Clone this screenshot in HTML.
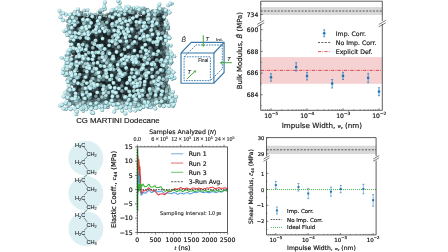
<!DOCTYPE html>
<html><head><meta charset="utf-8"><style>
html,body{margin:0;padding:0;background:#fff;width:448px;height:252px;overflow:hidden}
svg{display:block}
text{stroke:#000;stroke-width:0.22px;stroke-opacity:0.7}
text.thin{stroke-width:0.12px}
text.mid{stroke-width:0.2px}
</style></head><body>
<svg xmlns="http://www.w3.org/2000/svg" width="448" height="252" viewBox="0 0 448 252">
<defs>
<radialGradient id="b0" cx="0.42" cy="0.4" r="0.6"><stop offset="0" stop-color="#e3f4f4"/><stop offset="0.6" stop-color="#b5e4e8"/><stop offset="1" stop-color="#45767f"/></radialGradient>
<radialGradient id="b1" cx="0.42" cy="0.4" r="0.6"><stop offset="0" stop-color="#d2e1e1"/><stop offset="0.6" stop-color="#a7d3d7"/><stop offset="1" stop-color="#406d76"/></radialGradient>
<radialGradient id="b2" cx="0.42" cy="0.4" r="0.6"><stop offset="0" stop-color="#c0cfcf"/><stop offset="0.6" stop-color="#99c2c5"/><stop offset="1" stop-color="#3b646d"/></radialGradient>
<radialGradient id="b3" cx="0.42" cy="0.4" r="0.6"><stop offset="0" stop-color="#afbcbd"/><stop offset="0.6" stop-color="#8bb0b4"/><stop offset="1" stop-color="#365c63"/></radialGradient>
<radialGradient id="b4" cx="0.42" cy="0.4" r="0.6"><stop offset="0" stop-color="#9daaaa"/><stop offset="0.6" stop-color="#7d9fa2"/><stop offset="1" stop-color="#30535a"/></radialGradient>
<radialGradient id="b5" cx="0.42" cy="0.4" r="0.6"><stop offset="0" stop-color="#8b9798"/><stop offset="0.6" stop-color="#6f8e91"/><stop offset="1" stop-color="#2b4a51"/></radialGradient>
<radialGradient id="b6" cx="0.42" cy="0.4" r="0.6"><stop offset="0" stop-color="#7a8586"/><stop offset="0.6" stop-color="#617c7f"/><stop offset="1" stop-color="#264148"/></radialGradient>
<radialGradient id="b7" cx="0.42" cy="0.4" r="0.6"><stop offset="0" stop-color="#687273"/><stop offset="0.6" stop-color="#536b6e"/><stop offset="1" stop-color="#21393e"/></radialGradient>
<radialGradient id="b8" cx="0.42" cy="0.4" r="0.6"><stop offset="0" stop-color="#576061"/><stop offset="0.6" stop-color="#455a5c"/><stop offset="1" stop-color="#1b3035"/></radialGradient>
<radialGradient id="b9" cx="0.42" cy="0.4" r="0.6"><stop offset="0" stop-color="#454d4e"/><stop offset="0.6" stop-color="#37484b"/><stop offset="1" stop-color="#16272c"/></radialGradient>
<radialGradient id="b10" cx="0.42" cy="0.4" r="0.6"><stop offset="0" stop-color="#343a3c"/><stop offset="0.6" stop-color="#2a373a"/><stop offset="1" stop-color="#111f22"/></radialGradient>
<radialGradient id="b11" cx="0.42" cy="0.4" r="0.6"><stop offset="0" stop-color="#22282a"/><stop offset="0.6" stop-color="#1c2628"/><stop offset="1" stop-color="#0c1619"/></radialGradient>
<filter id="bbl" x="-0.3" y="-0.3" width="1.6" height="1.6"><feGaussianBlur stdDeviation="5"/></filter>
</defs>
<radialGradient id="bdg"><stop offset="0" stop-color="#060d0e" stop-opacity="1"/><stop offset="0.65" stop-color="#060d0e" stop-opacity="0.95"/><stop offset="1" stop-color="#060d0e" stop-opacity="0"/></radialGradient>
<ellipse cx="118.0" cy="57.0" rx="48.0" ry="45.0" fill="url(#bdg)"/>
<style>.k0{fill:url(#b0)}.k1{fill:url(#b1)}.k2{fill:url(#b2)}.k3{fill:url(#b3)}.k4{fill:url(#b4)}.k5{fill:url(#b5)}.k6{fill:url(#b6)}.k7{fill:url(#b7)}.k8{fill:url(#b8)}.k9{fill:url(#b9)}.k10{fill:url(#b10)}.k11{fill:url(#b11)}</style>
<g id="blob" stroke-width="1.4"><circle class="k6" cx="81.7" cy="101.3" r="1.55"/><circle class="k3" cx="82.6" cy="104.1" r="1.58"/><circle class="k11" cx="92.7" cy="68.9" r="1.60"/><circle class="k7" cx="123.5" cy="100.4" r="1.60"/><circle class="k11" cx="78.9" cy="69.1" r="1.61"/><circle class="k11" cx="154.2" cy="31.4" r="1.62"/><circle class="k0" cx="169.1" cy="67.8" r="1.63"/><path d="M167.0 67.4L169.1 67.8" stroke="#b5e4e8"/><circle class="k6" cx="112.8" cy="20.1" r="1.65"/><circle class="k0" cx="167.0" cy="67.4" r="1.65"/><circle class="k2" cx="165.8" cy="70.1" r="1.65"/><circle class="k9" cx="114.8" cy="21.0" r="1.66"/><circle class="k2" cx="164.2" cy="38.3" r="1.66"/><circle class="k7" cx="118.1" cy="100.4" r="1.66"/><path d="M166.2 71.2L165.8 70.1" stroke="#99c2c5"/><circle class="k8" cx="162.7" cy="59.6" r="1.67"/><circle class="k4" cx="96.1" cy="18.9" r="1.68"/><circle class="k2" cx="166.2" cy="71.2" r="1.68"/><circle class="k6" cx="162.6" cy="22.8" r="1.69"/><path d="M168.6 69.0L166.2 71.2" stroke="#99c2c5"/><circle class="k9" cx="161.4" cy="42.3" r="1.70"/><circle class="k0" cx="168.6" cy="69.0" r="1.70"/><circle class="k5" cx="101.9" cy="102.3" r="1.70"/><circle class="k0" cx="77.2" cy="107.4" r="1.70"/><circle class="k9" cx="95.0" cy="20.2" r="1.71"/><circle class="k1" cx="89.2" cy="16.3" r="1.71"/><circle class="k4" cx="164.9" cy="60.8" r="1.72"/><circle class="k9" cx="161.7" cy="23.3" r="1.72"/><circle class="k8" cx="121.0" cy="99.8" r="1.72"/><circle class="k10" cx="112.1" cy="19.3" r="1.73"/><circle class="k0" cx="90.0" cy="14.1" r="1.73"/><circle class="k11" cx="75.9" cy="44.5" r="1.74"/><path d="M87.1 13.9L90.0 14.1" stroke="#b5e4e8"/><circle class="k7" cx="162.9" cy="34.9" r="1.74"/><circle class="k7" cx="131.3" cy="101.0" r="1.75"/><circle class="k1" cx="84.0" cy="15.8" r="1.75"/><path d="M84.0 15.8L87.1 13.9" stroke="#a7d3d7"/><circle class="k3" cx="99.6" cy="16.0" r="1.75"/><circle class="k0" cx="93.8" cy="107.0" r="1.75"/><circle class="k0" cx="87.1" cy="13.9" r="1.76"/><circle class="k11" cx="111.4" cy="20.8" r="1.76"/><circle class="k11" cx="78.1" cy="88.2" r="1.76"/><circle class="k3" cx="166.3" cy="74.2" r="1.76"/><circle class="k2" cx="75.9" cy="105.9" r="1.76"/><path d="M163.4 72.6L166.3 74.2" stroke="#455a5c"/><circle class="k8" cx="163.7" cy="96.9" r="1.76"/><path d="M162.8 41.0L163.4 37.4" stroke="#455a5c"/><circle class="k2" cx="95.5" cy="15.4" r="1.76"/><circle class="k11" cx="81.3" cy="22.2" r="1.77"/><circle class="k7" cx="163.4" cy="37.4" r="1.77"/><circle class="k9" cx="162.1" cy="38.2" r="1.77"/><circle class="k11" cx="76.4" cy="69.6" r="1.77"/><circle class="k10" cx="74.6" cy="46.4" r="1.77"/><circle class="k8" cx="162.8" cy="41.0" r="1.77"/><path d="M95.5 15.4L98.0 16.1" stroke="#617c7f"/><circle class="k11" cx="147.3" cy="88.0" r="1.77"/><circle class="k7" cx="164.1" cy="62.0" r="1.77"/><circle class="k8" cx="163.4" cy="72.6" r="1.77"/><circle class="k2" cx="102.4" cy="14.8" r="1.77"/><circle class="k11" cx="97.2" cy="55.4" r="1.77"/><circle class="k11" cx="76.0" cy="27.9" r="1.78"/><path d="M102.4 14.8L102.1 17.6" stroke="#2a373a"/><circle class="k3" cx="74.4" cy="104.3" r="1.78"/><circle class="k7" cx="86.9" cy="100.6" r="1.78"/><circle class="k10" cx="157.5" cy="15.7" r="1.78"/><circle class="k9" cx="74.0" cy="79.1" r="1.78"/><circle class="k6" cx="98.0" cy="16.1" r="1.78"/><circle class="k2" cx="107.3" cy="14.2" r="1.79"/><circle class="k11" cx="79.0" cy="68.2" r="1.79"/><circle class="k11" cx="110.3" cy="21.1" r="1.79"/><path d="M104.2 16.1L107.3 14.2" stroke="#7d9fa2"/><circle class="k6" cx="164.7" cy="70.1" r="1.79"/><circle class="k4" cx="107.5" cy="103.2" r="1.79"/><path d="M98.0 12.8L94.5 14.6" stroke="#99c2c5"/><circle class="k10" cx="102.1" cy="17.6" r="1.79"/><circle class="k2" cx="94.5" cy="14.6" r="1.79"/><circle class="k10" cx="74.4" cy="65.4" r="1.79"/><circle class="k9" cx="161.8" cy="46.6" r="1.80"/><circle class="k4" cx="104.2" cy="16.1" r="1.80"/><circle class="k10" cx="143.5" cy="16.2" r="1.80"/><circle class="k11" cx="99.4" cy="56.4" r="1.80"/><circle class="k9" cx="162.6" cy="87.6" r="1.80"/><circle class="k0" cx="98.0" cy="12.8" r="1.80"/><circle class="k9" cx="73.9" cy="70.5" r="1.80"/><circle class="k11" cx="80.2" cy="67.1" r="1.80"/><circle class="k11" cx="154.8" cy="32.5" r="1.80"/><circle class="k11" cx="75.5" cy="26.4" r="1.80"/><circle class="k5" cx="164.3" cy="18.8" r="1.80"/><circle class="k9" cx="98.8" cy="16.9" r="1.80"/><circle class="k11" cx="86.3" cy="84.6" r="1.80"/><circle class="k11" cx="100.1" cy="88.4" r="1.80"/><circle class="k0" cx="101.7" cy="108.4" r="1.80"/><circle class="k10" cx="74.4" cy="30.2" r="1.80"/><circle class="k7" cx="71.2" cy="89.3" r="1.80"/><circle class="k11" cx="154.3" cy="29.7" r="1.81"/><circle class="k11" cx="99.9" cy="56.2" r="1.81"/><circle class="k11" cx="107.5" cy="18.7" r="1.81"/><path d="M164.3 18.8L166.5 20.8" stroke="#6f8e91"/><circle class="k4" cx="165.1" cy="33.5" r="1.81"/><circle class="k11" cx="147.6" cy="86.0" r="1.81"/><circle class="k1" cx="168.8" cy="88.6" r="1.81"/><circle class="k11" cx="93.3" cy="20.4" r="1.81"/><circle class="k11" cx="141.7" cy="53.5" r="1.81"/><circle class="k11" cx="77.7" cy="73.8" r="1.82"/><circle class="k11" cx="84.4" cy="38.4" r="1.82"/><circle class="k11" cx="121.2" cy="35.5" r="1.82"/><circle class="k3" cx="146.5" cy="104.7" r="1.82"/><circle class="k11" cx="97.5" cy="57.3" r="1.82"/><circle class="k11" cx="132.6" cy="67.1" r="1.82"/><circle class="k11" cx="96.1" cy="57.2" r="1.82"/><circle class="k10" cx="119.3" cy="97.4" r="1.82"/><circle class="k0" cx="116.7" cy="8.4" r="1.82"/><circle class="k11" cx="103.1" cy="86.9" r="1.82"/><circle class="k11" cx="80.6" cy="52.7" r="1.82"/><circle class="k8" cx="163.3" cy="90.3" r="1.82"/><circle class="k11" cx="89.6" cy="56.9" r="1.82"/><circle class="k11" cx="110.0" cy="29.9" r="1.82"/><circle class="k9" cx="112.9" cy="98.1" r="1.82"/><circle class="k11" cx="160.4" cy="24.9" r="1.82"/><circle class="k2" cx="135.2" cy="12.2" r="1.82"/><circle class="k11" cx="111.2" cy="22.4" r="1.82"/><circle class="k1" cx="166.5" cy="20.8" r="1.82"/><circle class="k1" cx="168.1" cy="50.6" r="1.83"/><path d="M168.8 90.3L168.8 88.6" stroke="#99c2c5"/><circle class="k3" cx="91.2" cy="14.5" r="1.83"/><circle class="k11" cx="89.6" cy="18.0" r="1.83"/><circle class="k3" cx="67.3" cy="20.9" r="1.83"/><circle class="k11" cx="95.5" cy="26.2" r="1.83"/><circle class="k11" cx="91.2" cy="35.4" r="1.83"/><circle class="k4" cx="166.0" cy="55.9" r="1.83"/><circle class="k11" cx="142.0" cy="36.0" r="1.83"/><circle class="k11" cx="94.7" cy="24.1" r="1.83"/><path d="M67.3 20.9L69.7 18.6" stroke="#6f8e91"/><circle class="k11" cx="104.5" cy="18.9" r="1.83"/><circle class="k11" cx="86.8" cy="85.1" r="1.83"/><circle class="k5" cx="99.7" cy="102.8" r="1.83"/><circle class="k11" cx="93.3" cy="76.6" r="1.84"/><circle class="k11" cx="100.1" cy="43.1" r="1.84"/><circle class="k11" cx="98.1" cy="94.9" r="1.84"/><circle class="k11" cx="160.1" cy="87.0" r="1.84"/><circle class="k11" cx="80.8" cy="66.9" r="1.84"/><circle class="k8" cx="163.2" cy="52.7" r="1.84"/><circle class="k8" cx="163.7" cy="93.2" r="1.84"/><circle class="k3" cx="119.2" cy="12.6" r="1.84"/><circle class="k11" cx="81.9" cy="50.2" r="1.84"/><circle class="k11" cx="92.3" cy="36.4" r="1.84"/><circle class="k9" cx="73.4" cy="95.2" r="1.84"/><circle class="k11" cx="115.3" cy="96.6" r="1.84"/><circle class="k11" cx="99.9" cy="41.9" r="1.84"/><path d="M119.2 12.6L115.5 13.2" stroke="#6f8e91"/><path d="M99.0 106.3L95.0 106.5" stroke="#a7d3d7"/><circle class="k5" cx="69.7" cy="18.6" r="1.85"/><circle class="k11" cx="99.4" cy="16.9" r="1.85"/><path d="M139.2 12.0L140.4 8.3" stroke="#8bb0b4"/><circle class="k9" cx="162.6" cy="94.1" r="1.85"/><circle class="k1" cx="95.0" cy="106.5" r="1.85"/><circle class="k2" cx="168.8" cy="90.3" r="1.85"/><circle class="k0" cx="168.1" cy="11.0" r="1.85"/><circle class="k3" cx="139.2" cy="12.0" r="1.85"/><circle class="k4" cx="113.1" cy="103.1" r="1.85"/><circle class="k8" cx="72.6" cy="58.1" r="1.85"/><circle class="k5" cx="88.6" cy="102.1" r="1.85"/><path d="M89.9 105.4L86.7 102.9" stroke="#6f8e91"/><circle class="k11" cx="92.9" cy="37.7" r="1.85"/><circle class="k11" cx="77.8" cy="66.1" r="1.85"/><circle class="k11" cx="100.1" cy="54.4" r="1.85"/><circle class="k1" cx="99.0" cy="106.3" r="1.85"/><circle class="k11" cx="100.4" cy="56.3" r="1.85"/><path d="M115.2 100.7L113.1 103.1" stroke="#536b6e"/><circle class="k0" cx="140.4" cy="8.3" r="1.85"/><circle class="k10" cx="74.7" cy="43.6" r="1.85"/><circle class="k11" cx="133.5" cy="65.8" r="1.85"/><circle class="k11" cx="83.2" cy="83.3" r="1.85"/><circle class="k11" cx="115.1" cy="80.9" r="1.85"/><circle class="k11" cx="97.1" cy="59.4" r="1.85"/><circle class="k11" cx="145.4" cy="87.3" r="1.85"/><circle class="k8" cx="90.7" cy="99.5" r="1.85"/><circle class="k6" cx="70.4" cy="101.5" r="1.85"/><circle class="k5" cx="86.7" cy="102.9" r="1.86"/><circle class="k8" cx="112.7" cy="99.6" r="1.86"/><circle class="k11" cx="85.5" cy="19.1" r="1.86"/><circle class="k2" cx="89.9" cy="105.4" r="1.86"/><circle class="k5" cx="115.5" cy="13.2" r="1.86"/><circle class="k11" cx="96.5" cy="43.0" r="1.86"/><circle class="k11" cx="143.1" cy="17.3" r="1.86"/><circle class="k11" cx="79.0" cy="53.0" r="1.86"/><circle class="k11" cx="146.7" cy="93.1" r="1.86"/><circle class="k11" cx="93.9" cy="16.6" r="1.86"/><circle class="k11" cx="111.0" cy="83.0" r="1.86"/><circle class="k11" cx="102.9" cy="18.7" r="1.86"/><circle class="k11" cx="108.4" cy="38.3" r="1.86"/><path d="M140.4 8.3L137.4 7.3" stroke="#b5e4e8"/><circle class="k11" cx="81.4" cy="37.9" r="1.86"/><circle class="k11" cx="96.5" cy="65.6" r="1.86"/><circle class="k11" cx="137.6" cy="48.4" r="1.86"/><circle class="k11" cx="142.6" cy="96.4" r="1.86"/><circle class="k11" cx="132.2" cy="26.8" r="1.86"/><circle class="k1" cx="167.5" cy="23.7" r="1.86"/><circle class="k5" cx="92.3" cy="102.6" r="1.86"/><circle class="k11" cx="140.2" cy="47.5" r="1.86"/><circle class="k11" cx="88.6" cy="92.2" r="1.86"/><path d="M112.7 99.6L109.4 100.9" stroke="#455a5c"/><circle class="k11" cx="126.5" cy="36.3" r="1.86"/><circle class="k11" cx="98.0" cy="20.0" r="1.86"/><circle class="k11" cx="104.4" cy="47.9" r="1.86"/><circle class="k7" cx="71.1" cy="51.5" r="1.86"/><circle class="k11" cx="84.7" cy="37.2" r="1.86"/><circle class="k10" cx="161.0" cy="22.4" r="1.86"/><circle class="k11" cx="90.8" cy="19.0" r="1.86"/><path d="M70.4 101.5L70.2 104.2" stroke="#617c7f"/><circle class="k11" cx="107.2" cy="46.7" r="1.87"/><circle class="k5" cx="69.3" cy="89.3" r="1.87"/><circle class="k5" cx="140.8" cy="102.7" r="1.87"/><circle class="k5" cx="85.1" cy="14.9" r="1.87"/><circle class="k7" cx="115.2" cy="100.7" r="1.87"/><circle class="k11" cx="113.0" cy="86.5" r="1.87"/><circle class="k11" cx="98.5" cy="53.0" r="1.87"/><circle class="k11" cx="81.0" cy="65.0" r="1.87"/><circle class="k3" cx="68.0" cy="25.7" r="1.87"/><circle class="k9" cx="161.9" cy="17.6" r="1.87"/><circle class="k1" cx="136.6" cy="9.9" r="1.87"/><circle class="k11" cx="131.1" cy="25.0" r="1.87"/><circle class="k11" cx="114.9" cy="78.3" r="1.87"/><circle class="k11" cx="105.3" cy="19.7" r="1.87"/><circle class="k11" cx="120.3" cy="92.3" r="1.87"/><circle class="k11" cx="91.5" cy="67.0" r="1.87"/><circle class="k11" cx="127.1" cy="79.8" r="1.87"/><circle class="k11" cx="109.1" cy="36.3" r="1.87"/><circle class="k11" cx="88.0" cy="56.7" r="1.87"/><circle class="k11" cx="141.3" cy="48.2" r="1.87"/><path d="M71.1 51.5L73.3 53.3" stroke="#37484b"/><circle class="k9" cx="127.7" cy="14.8" r="1.87"/><circle class="k7" cx="101.5" cy="100.4" r="1.87"/><circle class="k11" cx="109.6" cy="27.6" r="1.87"/><circle class="k10" cx="110.3" cy="97.6" r="1.87"/><circle class="k11" cx="79.9" cy="72.4" r="1.87"/><circle class="k11" cx="89.6" cy="36.3" r="1.87"/><circle class="k4" cx="167.2" cy="91.5" r="1.88"/><circle class="k6" cx="70.5" cy="41.3" r="1.88"/><circle class="k11" cx="80.2" cy="59.0" r="1.88"/><circle class="k10" cx="145.9" cy="97.8" r="1.88"/><circle class="k0" cx="137.4" cy="7.3" r="1.88"/><path d="M136.6 9.9L134.8 11.3" stroke="#7d9fa2"/><path d="M161.9 17.6L162.9 19.5" stroke="#37484b"/><circle class="k11" cx="151.6" cy="44.4" r="1.88"/><circle class="k5" cx="72.1" cy="102.4" r="1.88"/><circle class="k11" cx="90.9" cy="31.3" r="1.88"/><circle class="k11" cx="114.2" cy="64.2" r="1.88"/><circle class="k11" cx="123.9" cy="78.7" r="1.88"/><circle class="k3" cx="152.8" cy="10.8" r="1.88"/><circle class="k7" cx="109.4" cy="100.9" r="1.88"/><path d="M70.5 41.3L73.8 41.6" stroke="#37484b"/><circle class="k6" cx="110.8" cy="13.4" r="1.88"/><circle class="k11" cx="81.9" cy="17.1" r="1.88"/><path d="M115.0 100.4L115.2 100.7" stroke="#536b6e"/><circle class="k6" cx="70.1" cy="100.2" r="1.88"/><circle class="k8" cx="72.5" cy="79.3" r="1.88"/><circle class="k11" cx="87.7" cy="35.4" r="1.88"/><circle class="k11" cx="158.9" cy="17.0" r="1.88"/><circle class="k11" cx="114.0" cy="66.8" r="1.88"/><circle class="k11" cx="85.4" cy="61.7" r="1.88"/><circle class="k11" cx="111.9" cy="80.1" r="1.88"/><circle class="k11" cx="123.9" cy="50.0" r="1.88"/><circle class="k11" cx="133.8" cy="68.5" r="1.88"/><circle class="k1" cx="168.2" cy="28.5" r="1.88"/><circle class="k4" cx="77.7" cy="103.7" r="1.88"/><circle class="k11" cx="124.9" cy="17.0" r="1.88"/><circle class="k11" cx="98.5" cy="57.5" r="1.88"/><circle class="k7" cx="80.4" cy="100.2" r="1.88"/><circle class="k11" cx="155.7" cy="39.6" r="1.88"/><circle class="k6" cx="70.8" cy="20.6" r="1.88"/><circle class="k11" cx="76.9" cy="89.9" r="1.88"/><path d="M73.7 100.6L72.1 102.4" stroke="#536b6e"/><circle class="k11" cx="83.2" cy="49.3" r="1.89"/><circle class="k11" cx="110.9" cy="56.5" r="1.89"/><circle class="k11" cx="127.3" cy="78.4" r="1.89"/><circle class="k9" cx="73.3" cy="53.3" r="1.89"/><circle class="k8" cx="162.6" cy="25.0" r="1.89"/><circle class="k11" cx="123.3" cy="69.2" r="1.89"/><circle class="k3" cx="70.2" cy="104.2" r="1.89"/><circle class="k11" cx="120.4" cy="47.5" r="1.89"/><circle class="k11" cx="145.0" cy="92.1" r="1.89"/><circle class="k3" cx="167.1" cy="48.1" r="1.89"/><circle class="k9" cx="73.3" cy="80.1" r="1.89"/><circle class="k11" cx="119.4" cy="45.8" r="1.89"/><path d="M166.5 25.3L168.2 28.5" stroke="#8bb0b4"/><path d="M165.1 84.1L168.3 86.1" stroke="#617c7f"/><path d="M73.7 102.9L77.7 103.7" stroke="#6f8e91"/><circle class="k3" cx="168.3" cy="86.1" r="1.89"/><circle class="k11" cx="92.7" cy="37.9" r="1.89"/><circle class="k11" cx="90.0" cy="72.1" r="1.89"/><circle class="k11" cx="80.5" cy="20.2" r="1.89"/><circle class="k11" cx="99.4" cy="87.3" r="1.89"/><circle class="k5" cx="69.8" cy="51.6" r="1.89"/><circle class="k11" cx="90.4" cy="46.1" r="1.89"/><circle class="k11" cx="115.3" cy="77.9" r="1.89"/><circle class="k11" cx="78.2" cy="19.7" r="1.89"/><circle class="k11" cx="92.4" cy="27.9" r="1.89"/><circle class="k11" cx="143.7" cy="17.9" r="1.89"/><circle class="k11" cx="81.6" cy="23.8" r="1.89"/><circle class="k11" cx="109.6" cy="47.6" r="1.89"/><circle class="k9" cx="73.8" cy="41.6" r="1.89"/><circle class="k11" cx="111.5" cy="46.4" r="1.89"/><circle class="k11" cx="93.2" cy="22.1" r="1.89"/><circle class="k11" cx="148.4" cy="42.7" r="1.89"/><circle class="k5" cx="166.4" cy="84.7" r="1.89"/><circle class="k11" cx="108.6" cy="16.1" r="1.89"/><circle class="k11" cx="122.0" cy="48.7" r="1.89"/><circle class="k11" cx="96.4" cy="77.0" r="1.90"/><circle class="k11" cx="124.4" cy="46.9" r="1.90"/><circle class="k8" cx="163.3" cy="87.9" r="1.90"/><circle class="k4" cx="134.8" cy="11.3" r="1.90"/><circle class="k11" cx="98.1" cy="48.8" r="1.90"/><circle class="k11" cx="111.1" cy="38.9" r="1.90"/><circle class="k11" cx="76.4" cy="53.3" r="1.90"/><circle class="k11" cx="129.5" cy="22.3" r="1.90"/><circle class="k8" cx="162.9" cy="19.5" r="1.90"/><circle class="k11" cx="132.7" cy="24.1" r="1.90"/><circle class="k11" cx="77.9" cy="41.3" r="1.90"/><circle class="k9" cx="151.4" cy="98.5" r="1.90"/><path d="M69.4 54.6L69.8 51.6" stroke="#6f8e91"/><circle class="k6" cx="165.1" cy="84.1" r="1.90"/><path d="M107.2 99.1L111.2 100.3" stroke="#455a5c"/><circle class="k11" cx="90.8" cy="28.2" r="1.90"/><circle class="k11" cx="123.7" cy="21.1" r="1.90"/><circle class="k11" cx="83.5" cy="35.1" r="1.90"/><circle class="k11" cx="83.0" cy="78.5" r="1.90"/><circle class="k11" cx="88.6" cy="47.4" r="1.90"/><circle class="k11" cx="76.1" cy="40.5" r="1.90"/><path d="M67.1 71.6L65.4 75.3" stroke="#8bb0b4"/><circle class="k11" cx="115.7" cy="21.1" r="1.90"/><path d="M70.3 69.6L67.1 71.6" stroke="#6f8e91"/><circle class="k3" cx="67.1" cy="71.6" r="1.90"/><circle class="k11" cx="94.1" cy="62.5" r="1.90"/><circle class="k11" cx="81.1" cy="73.8" r="1.90"/><circle class="k11" cx="83.7" cy="52.7" r="1.90"/><circle class="k11" cx="77.1" cy="75.2" r="1.90"/><circle class="k11" cx="82.7" cy="71.0" r="1.90"/><circle class="k7" cx="71.6" cy="63.4" r="1.90"/><circle class="k11" cx="90.3" cy="50.2" r="1.90"/><path d="M73.3 81.2L73.3 80.1" stroke="#37484b"/><path d="M134.8 11.3L133.4 7.8" stroke="#7d9fa2"/><circle class="k11" cx="121.4" cy="91.8" r="1.90"/><circle class="k7" cx="73.7" cy="100.6" r="1.90"/><circle class="k11" cx="82.1" cy="23.7" r="1.90"/><circle class="k5" cx="128.7" cy="102.7" r="1.90"/><circle class="k3" cx="166.5" cy="25.3" r="1.90"/><circle class="k11" cx="76.7" cy="53.3" r="1.90"/><path d="M163.3 87.9L163.7 91.4" stroke="#455a5c"/><circle class="k11" cx="106.4" cy="84.6" r="1.90"/><circle class="k5" cx="73.7" cy="102.9" r="1.90"/><circle class="k7" cx="111.2" cy="100.3" r="1.90"/><circle class="k8" cx="107.2" cy="99.1" r="1.90"/><circle class="k8" cx="74.3" cy="14.5" r="1.90"/><path d="M80.1 12.7L78.0 9.1" stroke="#7d9fa2"/><circle class="k11" cx="79.2" cy="87.8" r="1.90"/><circle class="k11" cx="154.0" cy="95.3" r="1.90"/><circle class="k11" cx="98.7" cy="45.6" r="1.90"/><circle class="k11" cx="96.3" cy="47.9" r="1.90"/><path d="M78.0 9.1L74.8 11.6" stroke="#a7d3d7"/><circle class="k11" cx="78.6" cy="25.2" r="1.90"/><circle class="k3" cx="168.2" cy="102.0" r="1.90"/><circle class="k7" cx="115.0" cy="100.4" r="1.90"/><circle class="k11" cx="111.0" cy="44.5" r="1.90"/><circle class="k11" cx="126.6" cy="90.9" r="1.90"/><circle class="k11" cx="146.7" cy="15.2" r="1.90"/><circle class="k11" cx="134.2" cy="28.1" r="1.90"/><circle class="k2" cx="169.1" cy="93.3" r="1.91"/><path d="M71.6 63.4L73.0 60.4" stroke="#37484b"/><path d="M163.2 63.9L161.4 67.5" stroke="#2a373a"/><circle class="k11" cx="99.6" cy="40.7" r="1.91"/><circle class="k11" cx="140.9" cy="46.9" r="1.91"/><circle class="k11" cx="89.8" cy="37.6" r="1.91"/><circle class="k4" cx="80.1" cy="12.7" r="1.91"/><circle class="k9" cx="122.5" cy="14.1" r="1.91"/><circle class="k11" cx="86.3" cy="41.8" r="1.91"/><circle class="k1" cx="74.8" cy="11.6" r="1.91"/><circle class="k8" cx="80.1" cy="99.0" r="1.91"/><circle class="k0" cx="171.1" cy="74.4" r="1.91"/><path d="M166.4 84.7L165.8 86.2" stroke="#617c7f"/><circle class="k10" cx="161.4" cy="67.5" r="1.91"/><circle class="k11" cx="145.4" cy="95.9" r="1.91"/><circle class="k11" cx="155.2" cy="70.1" r="1.91"/><circle class="k11" cx="149.3" cy="88.2" r="1.91"/><circle class="k11" cx="124.5" cy="89.2" r="1.91"/><circle class="k11" cx="130.6" cy="24.9" r="1.91"/><circle class="k8" cx="163.6" cy="68.9" r="1.91"/><circle class="k11" cx="115.6" cy="17.1" r="1.91"/><circle class="k11" cx="145.1" cy="88.2" r="1.91"/><circle class="k1" cx="65.4" cy="75.3" r="1.91"/><circle class="k11" cx="95.7" cy="28.1" r="1.91"/><path d="M169.1 93.3L173.0 92.0" stroke="#99c2c5"/><circle class="k11" cx="106.4" cy="34.6" r="1.91"/><circle class="k11" cx="112.0" cy="49.9" r="1.91"/><circle class="k5" cx="70.3" cy="69.6" r="1.91"/><circle class="k11" cx="104.4" cy="82.3" r="1.91"/><circle class="k3" cx="88.6" cy="104.0" r="1.91"/><circle class="k3" cx="165.9" cy="10.6" r="1.91"/><circle class="k11" cx="79.1" cy="43.4" r="1.91"/><circle class="k11" cx="96.8" cy="46.8" r="1.91"/><circle class="k11" cx="157.1" cy="30.6" r="1.91"/><circle class="k11" cx="77.0" cy="27.1" r="1.91"/><circle class="k11" cx="86.0" cy="51.1" r="1.91"/><circle class="k9" cx="86.6" cy="98.5" r="1.91"/><circle class="k11" cx="86.3" cy="18.6" r="1.91"/><circle class="k11" cx="136.9" cy="67.4" r="1.91"/><circle class="k0" cx="78.0" cy="9.1" r="1.91"/><circle class="k11" cx="141.3" cy="50.3" r="1.91"/><circle class="k11" cx="112.5" cy="84.4" r="1.91"/><circle class="k10" cx="74.9" cy="56.6" r="1.91"/><circle class="k11" cx="95.5" cy="48.0" r="1.91"/><circle class="k8" cx="163.2" cy="63.9" r="1.91"/><circle class="k7" cx="163.8" cy="30.6" r="1.91"/><circle class="k11" cx="77.7" cy="28.8" r="1.91"/><circle class="k11" cx="144.8" cy="90.7" r="1.91"/><circle class="k11" cx="153.7" cy="72.6" r="1.91"/><circle class="k11" cx="123.9" cy="53.9" r="1.91"/><circle class="k11" cx="95.7" cy="50.0" r="1.91"/><circle class="k11" cx="92.0" cy="48.9" r="1.91"/><circle class="k11" cx="139.0" cy="43.4" r="1.91"/><path d="M167.9 26.6L166.5 25.3" stroke="#8bb0b4"/><circle class="k11" cx="125.0" cy="87.2" r="1.91"/><circle class="k4" cx="69.4" cy="54.6" r="1.92"/><circle class="k11" cx="81.4" cy="96.9" r="1.92"/><circle class="k11" cx="137.6" cy="66.9" r="1.92"/><path d="M168.2 102.0L167.0 102.3" stroke="#7d9fa2"/><circle class="k8" cx="144.9" cy="99.4" r="1.92"/><circle class="k11" cx="118.6" cy="17.4" r="1.92"/><path d="M161.4 67.5L163.5 70.2" stroke="#2a373a"/><circle class="k11" cx="112.8" cy="46.5" r="1.92"/><path d="M71.8 93.9L72.1 97.8" stroke="#455a5c"/><path d="M74.3 14.5L72.3 14.5" stroke="#455a5c"/><circle class="k11" cx="89.5" cy="62.7" r="1.92"/><circle class="k8" cx="163.5" cy="57.2" r="1.92"/><circle class="k0" cx="133.4" cy="7.8" r="1.92"/><circle class="k9" cx="135.5" cy="14.2" r="1.92"/><circle class="k11" cx="111.3" cy="58.3" r="1.92"/><path d="M164.2 79.2L164.0 75.4" stroke="#536b6e"/><circle class="k11" cx="81.2" cy="86.8" r="1.92"/><circle class="k11" cx="109.4" cy="36.7" r="1.92"/><circle class="k11" cx="109.0" cy="49.8" r="1.92"/><path d="M163.6 68.9L166.5 67.4" stroke="#455a5c"/><circle class="k11" cx="125.7" cy="43.9" r="1.92"/><circle class="k7" cx="164.2" cy="79.2" r="1.92"/><circle class="k11" cx="108.2" cy="48.2" r="1.92"/><circle class="k11" cx="147.8" cy="85.2" r="1.92"/><circle class="k9" cx="162.8" cy="90.2" r="1.92"/><circle class="k9" cx="73.0" cy="60.4" r="1.92"/><circle class="k8" cx="163.7" cy="91.4" r="1.92"/><path d="M165.9 10.6L163.8 9.3" stroke="#8bb0b4"/><circle class="k11" cx="116.3" cy="57.2" r="1.92"/><circle class="k11" cx="125.0" cy="51.0" r="1.92"/><circle class="k11" cx="75.1" cy="39.7" r="1.92"/><circle class="k11" cx="78.3" cy="89.8" r="1.92"/><circle class="k8" cx="163.3" cy="98.4" r="1.92"/><path d="M88.6 104.0L87.5 107.0" stroke="#8bb0b4"/><circle class="k11" cx="103.4" cy="20.8" r="1.92"/><circle class="k8" cx="72.1" cy="97.8" r="1.92"/><circle class="k9" cx="73.2" cy="83.8" r="1.92"/><circle class="k0" cx="173.1" cy="98.9" r="1.92"/><circle class="k11" cx="117.8" cy="54.5" r="1.92"/><path d="M162.4 27.9L163.8 30.6" stroke="#37484b"/><circle class="k7" cx="71.8" cy="93.9" r="1.92"/><circle class="k0" cx="173.0" cy="92.0" r="1.92"/><circle class="k11" cx="81.8" cy="75.7" r="1.92"/><circle class="k8" cx="72.5" cy="59.9" r="1.92"/><circle class="k11" cx="121.1" cy="57.7" r="1.92"/><circle class="k11" cx="134.8" cy="25.7" r="1.92"/><path d="M71.0 95.9L67.2 97.9" stroke="#536b6e"/><circle class="k11" cx="103.2" cy="41.9" r="1.92"/><circle class="k11" cx="113.5" cy="88.5" r="1.92"/><circle class="k11" cx="135.7" cy="31.1" r="1.92"/><circle class="k11" cx="125.8" cy="31.1" r="1.92"/><circle class="k11" cx="115.0" cy="62.1" r="1.92"/><circle class="k11" cx="156.2" cy="30.7" r="1.92"/><circle class="k11" cx="117.9" cy="16.3" r="1.92"/><circle class="k7" cx="115.1" cy="13.0" r="1.92"/><circle class="k0" cx="64.4" cy="69.9" r="1.92"/><path d="M162.8 90.2L166.7 91.7" stroke="#37484b"/><circle class="k5" cx="125.6" cy="102.6" r="1.92"/><circle class="k11" cx="95.2" cy="45.2" r="1.93"/><circle class="k11" cx="159.9" cy="50.2" r="1.93"/><circle class="k11" cx="113.9" cy="76.5" r="1.93"/><circle class="k11" cx="87.6" cy="78.7" r="1.93"/><circle class="k9" cx="74.0" cy="42.8" r="1.93"/><circle class="k11" cx="117.8" cy="43.0" r="1.93"/><circle class="k9" cx="73.3" cy="81.2" r="1.93"/><circle class="k11" cx="97.8" cy="40.4" r="1.93"/><circle class="k11" cx="78.8" cy="18.0" r="1.93"/><circle class="k11" cx="92.9" cy="23.9" r="1.93"/><circle class="k11" cx="120.7" cy="96.8" r="1.93"/><circle class="k11" cx="141.3" cy="51.7" r="1.93"/><circle class="k11" cx="159.9" cy="67.3" r="1.93"/><circle class="k11" cx="99.0" cy="68.5" r="1.93"/><path d="M66.5 55.5L69.4 54.6" stroke="#7d9fa2"/><circle class="k2" cx="115.1" cy="10.2" r="1.93"/><circle class="k11" cx="88.3" cy="54.2" r="1.93"/><circle class="k7" cx="71.0" cy="95.9" r="1.93"/><circle class="k11" cx="86.1" cy="54.6" r="1.93"/><circle class="k7" cx="164.0" cy="75.4" r="1.93"/><circle class="k8" cx="101.5" cy="99.8" r="1.93"/><circle class="k11" cx="91.0" cy="62.9" r="1.93"/><path d="M73.0 60.4L74.4 58.2" stroke="#2a373a"/><circle class="k11" cx="147.1" cy="45.0" r="1.93"/><circle class="k11" cx="76.9" cy="51.2" r="1.93"/><circle class="k3" cx="67.2" cy="97.9" r="1.93"/><circle class="k0" cx="87.5" cy="9.9" r="1.93"/><circle class="k11" cx="113.4" cy="21.8" r="1.93"/><circle class="k11" cx="75.5" cy="68.3" r="1.93"/><circle class="k11" cx="155.8" cy="37.9" r="1.93"/><circle class="k11" cx="106.1" cy="52.0" r="1.93"/><circle class="k11" cx="91.7" cy="59.7" r="1.93"/><circle class="k11" cx="135.0" cy="51.9" r="1.93"/><circle class="k11" cx="100.9" cy="54.8" r="1.93"/><circle class="k6" cx="165.8" cy="86.2" r="1.93"/><circle class="k11" cx="81.9" cy="55.6" r="1.93"/><path d="M165.0 101.4L163.3 98.4" stroke="#455a5c"/><circle class="k10" cx="161.0" cy="15.5" r="1.93"/><circle class="k11" cx="104.1" cy="35.2" r="1.93"/><circle class="k11" cx="117.4" cy="60.1" r="1.93"/><circle class="k11" cx="108.0" cy="83.2" r="1.93"/><path d="M115.1 10.2L112.2 12.1" stroke="#617c7f"/><circle class="k11" cx="153.3" cy="51.1" r="1.93"/><circle class="k11" cx="81.6" cy="68.9" r="1.93"/><circle class="k11" cx="105.1" cy="41.2" r="1.93"/><circle class="k11" cx="118.7" cy="24.8" r="1.93"/><circle class="k11" cx="112.6" cy="32.1" r="1.93"/><circle class="k11" cx="118.3" cy="56.4" r="1.93"/><circle class="k9" cx="162.2" cy="49.2" r="1.93"/><circle class="k11" cx="78.2" cy="40.3" r="1.93"/><circle class="k11" cx="94.2" cy="74.3" r="1.93"/><circle class="k11" cx="105.9" cy="44.5" r="1.93"/><circle class="k11" cx="151.2" cy="32.8" r="1.93"/><circle class="k11" cx="103.2" cy="81.7" r="1.93"/><circle class="k11" cx="84.1" cy="38.1" r="1.93"/><circle class="k11" cx="84.4" cy="72.0" r="1.93"/><circle class="k8" cx="83.5" cy="99.2" r="1.93"/><circle class="k11" cx="123.3" cy="71.0" r="1.93"/><circle class="k11" cx="120.7" cy="80.1" r="1.93"/><circle class="k11" cx="124.0" cy="19.1" r="1.93"/><circle class="k11" cx="127.1" cy="51.9" r="1.93"/><circle class="k11" cx="122.5" cy="57.3" r="1.93"/><circle class="k11" cx="120.6" cy="95.6" r="1.93"/><circle class="k11" cx="117.7" cy="92.8" r="1.93"/><circle class="k2" cx="168.2" cy="88.1" r="1.93"/><circle class="k11" cx="159.3" cy="94.6" r="1.93"/><circle class="k11" cx="110.6" cy="23.0" r="1.93"/><circle class="k1" cx="65.9" cy="103.5" r="1.93"/><path d="M166.0 96.2L162.0 97.7" stroke="#37484b"/><circle class="k11" cx="142.0" cy="85.6" r="1.93"/><circle class="k11" cx="129.9" cy="32.2" r="1.93"/><circle class="k11" cx="144.6" cy="51.8" r="1.93"/><circle class="k11" cx="134.5" cy="23.6" r="1.93"/><circle class="k10" cx="98.5" cy="97.8" r="1.94"/><circle class="k11" cx="94.8" cy="60.2" r="1.94"/><circle class="k8" cx="163.5" cy="70.2" r="1.94"/><circle class="k11" cx="156.3" cy="48.6" r="1.94"/><circle class="k11" cx="156.0" cy="34.1" r="1.94"/><circle class="k11" cx="80.0" cy="25.8" r="1.94"/><circle class="k11" cx="132.0" cy="34.4" r="1.94"/><circle class="k10" cx="82.9" cy="97.0" r="1.94"/><circle class="k11" cx="125.1" cy="77.1" r="1.94"/><path d="M70.5 93.4L71.8 93.9" stroke="#536b6e"/><circle class="k11" cx="129.0" cy="66.2" r="1.94"/><circle class="k11" cx="78.1" cy="46.1" r="1.94"/><circle class="k0" cx="168.2" cy="5.3" r="1.94"/><circle class="k11" cx="101.0" cy="42.6" r="1.94"/><circle class="k11" cx="95.1" cy="79.1" r="1.94"/><circle class="k2" cx="167.9" cy="26.6" r="1.94"/><circle class="k11" cx="119.6" cy="47.1" r="1.94"/><circle class="k11" cx="117.4" cy="32.1" r="1.94"/><circle class="k11" cx="80.2" cy="39.8" r="1.94"/><circle class="k11" cx="106.7" cy="20.0" r="1.94"/><path d="M93.7 104.7L91.7 108.1" stroke="#8bb0b4"/><path d="M164.6 52.0L162.2 49.2" stroke="#37484b"/><circle class="k11" cx="100.0" cy="75.3" r="1.94"/><circle class="k11" cx="146.7" cy="40.8" r="1.94"/><circle class="k11" cx="80.7" cy="24.6" r="1.94"/><circle class="k11" cx="94.8" cy="34.7" r="1.94"/><path d="M63.0 69.1L64.4 69.9" stroke="#b5e4e8"/><circle class="k11" cx="149.5" cy="53.6" r="1.94"/><path d="M65.9 103.5L68.5 106.0" stroke="#99c2c5"/><circle class="k11" cx="124.9" cy="76.4" r="1.94"/><circle class="k11" cx="104.5" cy="81.1" r="1.94"/><path d="M87.5 9.9L84.2 10.4" stroke="#a7d3d7"/><circle class="k11" cx="83.3" cy="45.8" r="1.94"/><circle class="k11" cx="138.9" cy="35.2" r="1.94"/><circle class="k11" cx="120.6" cy="35.5" r="1.94"/><circle class="k4" cx="167.0" cy="102.3" r="1.94"/><circle class="k11" cx="136.3" cy="32.3" r="1.94"/><circle class="k11" cx="116.2" cy="70.0" r="1.94"/><circle class="k5" cx="166.0" cy="96.2" r="1.94"/><circle class="k11" cx="106.2" cy="24.0" r="1.94"/><circle class="k11" cx="81.2" cy="70.7" r="1.94"/><circle class="k11" cx="137.8" cy="69.6" r="1.94"/><circle class="k5" cx="166.7" cy="91.7" r="1.94"/><circle class="k11" cx="118.1" cy="56.6" r="1.94"/><circle class="k11" cx="80.7" cy="50.0" r="1.94"/><circle class="k4" cx="166.5" cy="67.4" r="1.94"/><circle class="k5" cx="69.8" cy="75.6" r="1.94"/><circle class="k11" cx="120.0" cy="84.9" r="1.94"/><circle class="k9" cx="142.1" cy="98.9" r="1.94"/><circle class="k9" cx="162.0" cy="97.7" r="1.94"/><circle class="k11" cx="141.3" cy="59.7" r="1.94"/><circle class="k3" cx="163.8" cy="9.3" r="1.94"/><circle class="k11" cx="121.3" cy="34.1" r="1.94"/><circle class="k9" cx="74.2" cy="26.3" r="1.94"/><circle class="k9" cx="162.4" cy="27.9" r="1.94"/><circle class="k0" cx="91.7" cy="108.1" r="1.94"/><circle class="k7" cx="72.3" cy="14.5" r="1.94"/><circle class="k11" cx="85.5" cy="43.3" r="1.94"/><circle class="k11" cx="99.9" cy="34.7" r="1.94"/><circle class="k11" cx="107.9" cy="86.9" r="1.94"/><circle class="k11" cx="128.9" cy="49.5" r="1.94"/><circle class="k11" cx="109.5" cy="84.9" r="1.94"/><circle class="k11" cx="128.8" cy="66.9" r="1.94"/><circle class="k11" cx="117.5" cy="65.3" r="1.94"/><circle class="k1" cx="87.5" cy="107.0" r="1.94"/><circle class="k11" cx="150.4" cy="51.9" r="1.94"/><path d="M74.2 26.3L76.6 23.2" stroke="#2a373a"/><circle class="k11" cx="109.1" cy="85.7" r="1.94"/><circle class="k11" cx="79.0" cy="95.1" r="1.94"/><circle class="k11" cx="78.9" cy="81.2" r="1.94"/><circle class="k11" cx="129.8" cy="64.5" r="1.94"/><circle class="k11" cx="105.6" cy="48.6" r="1.94"/><circle class="k11" cx="100.7" cy="61.5" r="1.94"/><circle class="k11" cx="94.9" cy="33.8" r="1.94"/><circle class="k11" cx="80.1" cy="38.6" r="1.94"/><circle class="k5" cx="69.7" cy="81.0" r="1.94"/><circle class="k11" cx="80.5" cy="42.6" r="1.94"/><path d="M166.7 91.7L169.7 94.8" stroke="#6f8e91"/><path d="M99.3 101.1L98.5 97.8" stroke="#2a373a"/><circle class="k11" cx="101.9" cy="39.0" r="1.94"/><circle class="k11" cx="113.4" cy="75.6" r="1.94"/><circle class="k11" cx="154.7" cy="51.2" r="1.94"/><path d="M83.5 99.2L84.4 101.8" stroke="#455a5c"/><circle class="k10" cx="161.4" cy="58.8" r="1.94"/><circle class="k11" cx="81.6" cy="67.4" r="1.95"/><circle class="k11" cx="76.3" cy="66.7" r="1.95"/><circle class="k6" cx="165.1" cy="100.0" r="1.95"/><circle class="k3" cx="93.7" cy="104.7" r="1.95"/><circle class="k11" cx="104.7" cy="33.0" r="1.95"/><circle class="k11" cx="147.4" cy="25.7" r="1.95"/><circle class="k11" cx="142.0" cy="21.6" r="1.95"/><path d="M143.4 8.2L147.3 9.8" stroke="#7d9fa2"/><circle class="k4" cx="147.3" cy="9.8" r="1.95"/><circle class="k11" cx="115.5" cy="16.7" r="1.95"/><circle class="k10" cx="161.5" cy="65.6" r="1.95"/><circle class="k9" cx="74.4" cy="31.1" r="1.95"/><path d="M122.7 98.1L119.0 100.3" stroke="#37484b"/><circle class="k11" cx="159.2" cy="18.3" r="1.95"/><circle class="k11" cx="112.8" cy="16.1" r="1.95"/><circle class="k6" cx="112.2" cy="12.1" r="1.95"/><circle class="k11" cx="121.7" cy="52.8" r="1.95"/><circle class="k11" cx="90.8" cy="55.1" r="1.95"/><circle class="k11" cx="108.0" cy="23.8" r="1.95"/><circle class="k11" cx="129.4" cy="43.5" r="1.95"/><path d="M69.8 75.6L66.7 73.5" stroke="#6f8e91"/><path d="M168.2 88.1L167.0 89.3" stroke="#7d9fa2"/><circle class="k11" cx="122.0" cy="67.1" r="1.95"/><circle class="k11" cx="75.2" cy="72.0" r="1.95"/><path d="M87.5 107.0L84.5 104.9" stroke="#8bb0b4"/><circle class="k11" cx="122.1" cy="62.0" r="1.95"/><circle class="k11" cx="109.9" cy="33.5" r="1.95"/><path d="M168.2 5.3L171.7 3.6" stroke="#b5e4e8"/><circle class="k10" cx="92.2" cy="26.9" r="1.95"/><circle class="k11" cx="140.3" cy="61.5" r="1.95"/><circle class="k11" cx="86.8" cy="73.8" r="1.95"/><circle class="k11" cx="85.6" cy="45.5" r="1.95"/><circle class="k11" cx="135.7" cy="39.1" r="1.95"/><circle class="k10" cx="74.4" cy="58.2" r="1.95"/><circle class="k11" cx="100.1" cy="37.0" r="1.95"/><circle class="k11" cx="91.8" cy="41.9" r="1.95"/><circle class="k11" cx="110.6" cy="71.8" r="1.95"/><circle class="k11" cx="158.3" cy="68.5" r="1.95"/><circle class="k11" cx="77.3" cy="23.0" r="1.95"/><circle class="k11" cx="101.4" cy="20.7" r="1.95"/><circle class="k11" cx="81.3" cy="84.6" r="1.95"/><circle class="k11" cx="94.3" cy="45.2" r="1.95"/><circle class="k2" cx="128.3" cy="105.2" r="1.95"/><circle class="k11" cx="120.3" cy="31.8" r="1.95"/><circle class="k11" cx="123.8" cy="81.4" r="1.95"/><circle class="k11" cx="127.1" cy="82.7" r="1.95"/><circle class="k11" cx="113.6" cy="68.5" r="1.95"/><circle class="k6" cx="164.8" cy="48.1" r="1.95"/><circle class="k11" cx="75.3" cy="63.2" r="1.95"/><circle class="k11" cx="142.6" cy="82.3" r="1.95"/><circle class="k10" cx="90.7" cy="16.6" r="1.95"/><circle class="k11" cx="104.3" cy="52.3" r="1.95"/><circle class="k1" cx="65.6" cy="65.8" r="1.95"/><circle class="k10" cx="161.5" cy="36.3" r="1.95"/><circle class="k11" cx="109.5" cy="22.0" r="1.95"/><circle class="k2" cx="66.5" cy="55.5" r="1.95"/><circle class="k9" cx="122.7" cy="98.1" r="1.95"/><circle class="k8" cx="72.9" cy="67.0" r="1.95"/><circle class="k11" cx="138.8" cy="51.7" r="1.95"/><circle class="k11" cx="144.9" cy="89.7" r="1.95"/><circle class="k10" cx="81.9" cy="19.4" r="1.95"/><circle class="k11" cx="159.1" cy="60.9" r="1.95"/><circle class="k11" cx="94.6" cy="63.9" r="1.95"/><circle class="k11" cx="111.0" cy="26.4" r="1.95"/><path d="M65.6 65.8L63.0 69.1" stroke="#a7d3d7"/><circle class="k11" cx="116.1" cy="90.3" r="1.95"/><circle class="k6" cx="165.0" cy="101.4" r="1.95"/><circle class="k7" cx="119.0" cy="100.3" r="1.95"/><circle class="k11" cx="76.3" cy="59.4" r="1.95"/><circle class="k11" cx="89.6" cy="43.7" r="1.95"/><path d="M164.8 48.1L167.1 51.3" stroke="#617c7f"/><circle class="k11" cx="131.6" cy="92.2" r="1.95"/><circle class="k11" cx="90.2" cy="41.4" r="1.95"/><circle class="k11" cx="93.5" cy="63.2" r="1.95"/><circle class="k6" cx="71.4" cy="31.4" r="1.95"/><path d="M119.5 101.2L117.8 104.9" stroke="#617c7f"/><circle class="k10" cx="75.0" cy="35.4" r="1.95"/><circle class="k11" cx="83.0" cy="40.6" r="1.95"/><circle class="k2" cx="68.5" cy="106.0" r="1.95"/><circle class="k11" cx="95.8" cy="71.4" r="1.95"/><circle class="k11" cx="127.8" cy="33.1" r="1.95"/><circle class="k11" cx="88.2" cy="28.6" r="1.95"/><path d="M128.3 105.2L124.7 106.1" stroke="#99c2c5"/><circle class="k7" cx="164.6" cy="52.0" r="1.95"/><circle class="k1" cx="65.5" cy="59.4" r="1.95"/><circle class="k11" cx="88.8" cy="90.6" r="1.95"/><path d="M66.5 63.1L65.5 59.4" stroke="#99c2c5"/><circle class="k11" cx="115.8" cy="56.1" r="1.96"/><circle class="k0" cx="64.5" cy="31.2" r="1.96"/><path d="M84.2 10.4L81.3 13.5" stroke="#6f8e91"/><path d="M66.7 73.5L62.7 73.0" stroke="#99c2c5"/><circle class="k11" cx="98.9" cy="57.7" r="1.96"/><circle class="k11" cx="96.8" cy="23.7" r="1.96"/><circle class="k11" cx="91.5" cy="21.8" r="1.96"/><circle class="k11" cx="78.9" cy="36.9" r="1.96"/><circle class="k11" cx="111.1" cy="92.3" r="1.96"/><circle class="k11" cx="159.3" cy="35.9" r="1.96"/><circle class="k10" cx="76.6" cy="23.2" r="1.96"/><circle class="k11" cx="114.3" cy="36.6" r="1.96"/><circle class="k11" cx="104.7" cy="80.5" r="1.96"/><circle class="k1" cx="143.4" cy="8.2" r="1.96"/><circle class="k0" cx="62.7" cy="73.0" r="1.96"/><circle class="k11" cx="137.0" cy="77.0" r="1.96"/><circle class="k0" cx="63.0" cy="20.3" r="1.96"/><circle class="k10" cx="123.7" cy="97.7" r="1.96"/><circle class="k6" cx="134.0" cy="11.7" r="1.96"/><circle class="k11" cx="86.3" cy="47.0" r="1.96"/><path d="M65.5 59.4L61.5 57.6" stroke="#a7d3d7"/><circle class="k10" cx="77.3" cy="30.9" r="1.96"/><path d="M69.5 83.1L69.7 81.0" stroke="#6f8e91"/><circle class="k11" cx="158.8" cy="41.6" r="1.96"/><circle class="k11" cx="80.8" cy="41.4" r="1.96"/><circle class="k11" cx="101.3" cy="58.6" r="1.96"/><circle class="k11" cx="123.8" cy="31.9" r="1.96"/><path d="M68.5 106.0L70.6 109.2" stroke="#99c2c5"/><path d="M103.7 100.9L99.3 101.1" stroke="#536b6e"/><circle class="k11" cx="130.3" cy="15.4" r="1.96"/><circle class="k11" cx="114.2" cy="57.1" r="1.96"/><circle class="k11" cx="156.5" cy="18.9" r="1.96"/><circle class="k0" cx="172.4" cy="78.7" r="1.96"/><circle class="k11" cx="93.4" cy="37.9" r="1.96"/><circle class="k11" cx="112.7" cy="38.6" r="1.96"/><path d="M165.1 100.0L167.9 100.1" stroke="#617c7f"/><circle class="k11" cx="136.5" cy="49.0" r="1.96"/><circle class="k11" cx="103.9" cy="34.2" r="1.96"/><circle class="k11" cx="134.3" cy="73.0" r="1.96"/><path d="M131.1 8.7L134.0 11.7" stroke="#617c7f"/><circle class="k11" cx="134.4" cy="54.7" r="1.96"/><circle class="k3" cx="117.8" cy="104.9" r="1.96"/><circle class="k11" cx="148.0" cy="79.6" r="1.96"/><circle class="k11" cx="94.9" cy="59.4" r="1.96"/><circle class="k6" cx="119.5" cy="101.2" r="1.96"/><circle class="k1" cx="84.2" cy="10.4" r="1.96"/><circle class="k1" cx="169.7" cy="94.8" r="1.96"/><circle class="k11" cx="152.5" cy="39.8" r="1.96"/><circle class="k11" cx="135.9" cy="54.0" r="1.96"/><circle class="k11" cx="140.4" cy="42.6" r="1.96"/><path d="M67.5 29.6L71.4 31.4" stroke="#617c7f"/><circle class="k7" cx="73.0" cy="23.9" r="1.96"/><circle class="k11" cx="77.5" cy="36.8" r="1.96"/><circle class="k11" cx="102.4" cy="70.3" r="1.96"/><circle class="k11" cx="148.8" cy="76.6" r="1.96"/><circle class="k11" cx="105.5" cy="37.3" r="1.96"/><circle class="k11" cx="117.7" cy="87.6" r="1.96"/><circle class="k11" cx="99.8" cy="28.4" r="1.96"/><circle class="k11" cx="107.5" cy="28.6" r="1.96"/><circle class="k6" cx="71.3" cy="46.8" r="1.96"/><circle class="k11" cx="88.2" cy="51.0" r="1.96"/><path d="M64.5 31.2L67.5 29.6" stroke="#99c2c5"/><circle class="k11" cx="157.4" cy="28.2" r="1.96"/><circle class="k11" cx="136.5" cy="19.8" r="1.96"/><circle class="k11" cx="84.6" cy="69.6" r="1.96"/><circle class="k11" cx="140.6" cy="72.2" r="1.96"/><circle class="k11" cx="101.5" cy="84.6" r="1.96"/><circle class="k11" cx="87.7" cy="87.0" r="1.96"/><circle class="k5" cx="70.5" cy="25.6" r="1.96"/><circle class="k11" cx="122.6" cy="30.7" r="1.96"/><circle class="k10" cx="94.2" cy="97.0" r="1.96"/><circle class="k11" cx="120.1" cy="39.3" r="1.96"/><circle class="k11" cx="113.9" cy="89.3" r="1.96"/><circle class="k10" cx="75.0" cy="86.8" r="1.96"/><circle class="k11" cx="99.1" cy="86.0" r="1.96"/><circle class="k11" cx="85.4" cy="31.2" r="1.96"/><circle class="k11" cx="157.8" cy="55.1" r="1.96"/><circle class="k7" cx="85.1" cy="100.0" r="1.96"/><circle class="k11" cx="128.0" cy="49.9" r="1.96"/><circle class="k6" cx="70.5" cy="93.4" r="1.96"/><circle class="k3" cx="67.6" cy="80.3" r="1.96"/><circle class="k5" cx="81.3" cy="13.5" r="1.96"/><circle class="k11" cx="91.0" cy="53.2" r="1.96"/><circle class="k11" cx="153.0" cy="47.4" r="1.96"/><circle class="k11" cx="148.6" cy="47.8" r="1.96"/><circle class="k7" cx="103.7" cy="100.9" r="1.96"/><path d="M175.0 100.8L176.1 96.8" stroke="#b5e4e8"/><circle class="k11" cx="121.9" cy="43.4" r="1.96"/><circle class="k11" cx="124.4" cy="71.1" r="1.96"/><path d="M134.0 11.7L134.1 14.6" stroke="#37484b"/><circle class="k11" cx="86.7" cy="80.8" r="1.96"/><circle class="k11" cx="96.6" cy="20.9" r="1.96"/><circle class="k6" cx="147.0" cy="10.9" r="1.96"/><circle class="k11" cx="112.6" cy="48.6" r="1.96"/><circle class="k4" cx="69.2" cy="28.0" r="1.96"/><circle class="k3" cx="84.5" cy="104.9" r="1.96"/><circle class="k11" cx="109.9" cy="19.5" r="1.96"/><circle class="k11" cx="79.1" cy="78.4" r="1.96"/><circle class="k11" cx="102.3" cy="34.7" r="1.96"/><circle class="k11" cx="115.6" cy="54.0" r="1.96"/><circle class="k6" cx="71.4" cy="37.1" r="1.96"/><circle class="k11" cx="96.9" cy="94.9" r="1.96"/><circle class="k10" cx="161.1" cy="55.2" r="1.96"/><path d="M75.0 35.4L72.0 33.2" stroke="#2a373a"/><circle class="k11" cx="128.9" cy="78.3" r="1.96"/><circle class="k6" cx="99.3" cy="101.1" r="1.96"/><path d="M69.2 28.0L69.8 31.6" stroke="#7d9fa2"/><circle class="k9" cx="126.9" cy="13.8" r="1.96"/><circle class="k11" cx="115.9" cy="28.7" r="1.96"/><circle class="k6" cx="100.1" cy="12.3" r="1.96"/><circle class="k0" cx="63.0" cy="69.1" r="1.96"/><circle class="k11" cx="132.4" cy="64.0" r="1.96"/><circle class="k11" cx="81.6" cy="44.1" r="1.96"/><circle class="k11" cx="95.1" cy="43.3" r="1.96"/><circle class="k11" cx="159.0" cy="40.8" r="1.96"/><circle class="k11" cx="131.2" cy="16.1" r="1.96"/><circle class="k11" cx="142.4" cy="33.9" r="1.96"/><path d="M163.7 80.2L161.8 76.5" stroke="#2a373a"/><circle class="k11" cx="97.0" cy="35.9" r="1.97"/><circle class="k11" cx="84.2" cy="79.7" r="1.97"/><circle class="k2" cx="66.7" cy="73.5" r="1.97"/><circle class="k11" cx="78.7" cy="47.4" r="1.97"/><circle class="k11" cx="140.3" cy="79.7" r="1.97"/><circle class="k11" cx="76.5" cy="83.0" r="1.97"/><circle class="k11" cx="152.5" cy="75.0" r="1.97"/><circle class="k11" cx="75.9" cy="64.8" r="1.97"/><circle class="k11" cx="118.8" cy="47.6" r="1.97"/><circle class="k11" cx="155.0" cy="58.2" r="1.97"/><circle class="k11" cx="119.5" cy="32.2" r="1.97"/><circle class="k11" cx="106.9" cy="40.0" r="1.97"/><circle class="k11" cx="114.6" cy="33.3" r="1.97"/><circle class="k11" cx="99.7" cy="50.5" r="1.97"/><circle class="k11" cx="92.5" cy="51.5" r="1.97"/><circle class="k10" cx="88.3" cy="41.5" r="1.97"/><circle class="k2" cx="66.5" cy="63.1" r="1.97"/><circle class="k3" cx="68.0" cy="29.9" r="1.97"/><circle class="k11" cx="125.4" cy="24.0" r="1.97"/><circle class="k4" cx="70.5" cy="18.3" r="1.97"/><circle class="k11" cx="116.9" cy="20.1" r="1.97"/><circle class="k11" cx="144.9" cy="78.9" r="1.97"/><circle class="k11" cx="77.7" cy="65.9" r="1.97"/><circle class="k11" cx="129.4" cy="39.3" r="1.97"/><path d="M97.1 98.8L92.7 99.0" stroke="#37484b"/><path d="M165.3 100.8L165.0 101.4" stroke="#617c7f"/><circle class="k3" cx="167.1" cy="51.3" r="1.97"/><path d="M69.7 21.7L70.5 25.6" stroke="#6f8e91"/><circle class="k11" cx="114.1" cy="76.4" r="1.97"/><circle class="k11" cx="101.4" cy="31.5" r="1.97"/><circle class="k8" cx="77.8" cy="16.1" r="1.97"/><circle class="k0" cx="176.1" cy="96.8" r="1.97"/><circle class="k10" cx="161.8" cy="76.5" r="1.97"/><path d="M60.5 17.3L63.0 20.3" stroke="#b5e4e8"/><circle class="k11" cx="161.0" cy="54.0" r="1.97"/><circle class="k6" cx="84.4" cy="101.8" r="1.97"/><circle class="k9" cx="106.1" cy="98.0" r="1.97"/><circle class="k11" cx="121.7" cy="77.3" r="1.97"/><circle class="k11" cx="93.9" cy="39.1" r="1.97"/><circle class="k9" cx="77.7" cy="30.5" r="1.97"/><circle class="k11" cx="76.7" cy="60.8" r="1.97"/><circle class="k11" cx="93.6" cy="47.2" r="1.97"/><circle class="k11" cx="81.4" cy="79.8" r="1.97"/><circle class="k10" cx="140.4" cy="97.2" r="1.97"/><circle class="k11" cx="154.3" cy="21.5" r="1.97"/><circle class="k11" cx="146.9" cy="45.7" r="1.97"/><circle class="k11" cx="148.0" cy="41.1" r="1.97"/><path d="M122.1 103.4L119.5 101.2" stroke="#617c7f"/><path d="M144.5 9.2L143.4 8.2" stroke="#7d9fa2"/><circle class="k11" cx="126.0" cy="55.2" r="1.97"/><circle class="k11" cx="108.0" cy="30.1" r="1.97"/><circle class="k0" cx="175.0" cy="100.8" r="1.97"/><circle class="k7" cx="151.8" cy="12.2" r="1.97"/><circle class="k11" cx="78.3" cy="85.3" r="1.97"/><path d="M70.5 18.3L69.7 21.7" stroke="#7d9fa2"/><circle class="k0" cx="171.7" cy="3.6" r="1.97"/><path d="M71.0 49.5L71.3 46.8" stroke="#617c7f"/><circle class="k11" cx="141.2" cy="88.0" r="1.97"/><path d="M144.9 12.8L147.0 10.9" stroke="#455a5c"/><circle class="k11" cx="120.4" cy="68.8" r="1.97"/><circle class="k10" cx="89.7" cy="47.3" r="1.97"/><circle class="k0" cx="61.5" cy="57.6" r="1.97"/><circle class="k9" cx="94.1" cy="17.3" r="1.97"/><circle class="k10" cx="104.9" cy="21.0" r="1.97"/><path d="M85.6 24.9L89.9 24.2" stroke="#2a373a"/><circle class="k11" cx="131.8" cy="51.0" r="1.97"/><path d="M123.9 15.2L126.9 13.8" stroke="#37484b"/><circle class="k11" cx="118.1" cy="81.9" r="1.97"/><path d="M73.0 23.9L69.5 23.9" stroke="#536b6e"/><circle class="k10" cx="89.9" cy="24.2" r="1.97"/><circle class="k11" cx="153.2" cy="75.8" r="1.97"/><circle class="k1" cx="124.7" cy="106.1" r="1.97"/><circle class="k5" cx="105.8" cy="102.3" r="1.97"/><circle class="k11" cx="141.2" cy="41.8" r="1.97"/><circle class="k4" cx="167.0" cy="89.3" r="1.97"/><circle class="k11" cx="93.0" cy="43.9" r="1.97"/><circle class="k11" cx="111.5" cy="81.2" r="1.97"/><circle class="k11" cx="125.0" cy="35.5" r="1.97"/><circle class="k11" cx="103.8" cy="44.4" r="1.97"/><circle class="k11" cx="156.2" cy="93.1" r="1.97"/><circle class="k11" cx="115.8" cy="73.7" r="1.97"/><circle class="k11" cx="140.9" cy="18.1" r="1.97"/><circle class="k11" cx="141.4" cy="19.7" r="1.97"/><circle class="k2" cx="131.1" cy="8.7" r="1.97"/><circle class="k7" cx="75.4" cy="17.9" r="1.97"/><circle class="k11" cx="102.3" cy="39.2" r="1.97"/><circle class="k8" cx="92.7" cy="99.0" r="1.97"/><circle class="k8" cx="113.3" cy="13.8" r="1.97"/><circle class="k11" cx="117.8" cy="52.8" r="1.97"/><circle class="k11" cx="122.5" cy="81.4" r="1.97"/><circle class="k4" cx="166.7" cy="35.2" r="1.97"/><circle class="k0" cx="70.6" cy="109.2" r="1.97"/><circle class="k11" cx="125.3" cy="87.2" r="1.97"/><circle class="k9" cx="97.1" cy="98.8" r="1.97"/><circle class="k11" cx="149.3" cy="82.1" r="1.97"/><circle class="k11" cx="95.0" cy="67.5" r="1.97"/><circle class="k11" cx="112.8" cy="29.1" r="1.97"/><circle class="k7" cx="96.3" cy="100.2" r="1.97"/><circle class="k11" cx="149.7" cy="62.9" r="1.97"/><circle class="k11" cx="131.6" cy="89.7" r="1.97"/><circle class="k11" cx="109.9" cy="92.0" r="1.97"/><circle class="k11" cx="159.9" cy="26.9" r="1.97"/><circle class="k11" cx="99.0" cy="38.6" r="1.97"/><circle class="k11" cx="77.2" cy="81.4" r="1.97"/><path d="M96.5 38.5L96.4 34.3" stroke="#2a373a"/><circle class="k3" cx="100.4" cy="104.8" r="1.97"/><circle class="k11" cx="81.3" cy="59.6" r="1.97"/><circle class="k11" cx="106.0" cy="80.0" r="1.97"/><circle class="k8" cx="163.7" cy="80.2" r="1.97"/><circle class="k3" cx="68.1" cy="90.3" r="1.97"/><circle class="k11" cx="109.6" cy="78.4" r="1.97"/><circle class="k11" cx="101.0" cy="64.3" r="1.97"/><circle class="k10" cx="109.1" cy="26.1" r="1.98"/><circle class="k7" cx="121.5" cy="12.7" r="1.98"/><circle class="k11" cx="110.9" cy="41.9" r="1.98"/><circle class="k11" cx="102.0" cy="91.2" r="1.98"/><circle class="k1" cx="136.2" cy="106.2" r="1.98"/><circle class="k11" cx="107.7" cy="72.7" r="1.98"/><circle class="k11" cx="127.6" cy="51.9" r="1.98"/><circle class="k6" cx="157.7" cy="11.0" r="1.98"/><circle class="k10" cx="122.9" cy="44.9" r="1.98"/><circle class="k3" cx="143.8" cy="104.7" r="1.98"/><circle class="k11" cx="113.3" cy="44.6" r="1.98"/><circle class="k11" cx="100.7" cy="96.6" r="1.98"/><circle class="k11" cx="93.4" cy="95.4" r="1.98"/><circle class="k3" cx="69.8" cy="31.6" r="1.98"/><circle class="k8" cx="78.3" cy="28.9" r="1.98"/><circle class="k5" cx="142.3" cy="102.4" r="1.98"/><circle class="k2" cx="67.5" cy="29.6" r="1.98"/><path d="M71.0 38.8L71.4 37.1" stroke="#617c7f"/><circle class="k11" cx="129.4" cy="71.0" r="1.98"/><circle class="k3" cx="67.7" cy="55.3" r="1.98"/><circle class="k11" cx="99.2" cy="70.1" r="1.98"/><circle class="k11" cx="116.6" cy="80.4" r="1.98"/><circle class="k11" cx="134.6" cy="22.9" r="1.98"/><circle class="k11" cx="150.1" cy="74.3" r="1.98"/><circle class="k11" cx="129.5" cy="89.2" r="1.98"/><circle class="k11" cx="114.0" cy="25.8" r="1.98"/><path d="M83.0 21.5L85.6 24.9" stroke="#455a5c"/><circle class="k11" cx="147.2" cy="80.6" r="1.98"/><circle class="k11" cx="126.9" cy="82.9" r="1.98"/><path d="M92.8 47.2L92.2 43.1" stroke="#2a373a"/><circle class="k11" cx="151.2" cy="59.0" r="1.98"/><circle class="k11" cx="130.3" cy="30.6" r="1.98"/><circle class="k11" cx="144.5" cy="83.7" r="1.98"/><circle class="k11" cx="94.2" cy="68.3" r="1.98"/><path d="M103.9 103.8L100.4 104.8" stroke="#7d9fa2"/><circle class="k9" cx="162.3" cy="15.0" r="1.98"/><circle class="k11" cx="97.2" cy="81.1" r="1.98"/><circle class="k11" cx="126.7" cy="76.6" r="1.98"/><circle class="k11" cx="141.2" cy="46.1" r="1.98"/><circle class="k11" cx="119.9" cy="90.0" r="1.98"/><circle class="k11" cx="122.8" cy="39.5" r="1.98"/><circle class="k11" cx="135.5" cy="19.7" r="1.98"/><circle class="k10" cx="96.5" cy="38.5" r="1.98"/><circle class="k10" cx="80.0" cy="44.8" r="1.98"/><path d="M87.1 22.6L83.6 25.1" stroke="#536b6e"/><circle class="k11" cx="146.6" cy="16.7" r="1.98"/><circle class="k11" cx="109.2" cy="95.7" r="1.98"/><circle class="k11" cx="82.1" cy="70.5" r="1.98"/><circle class="k11" cx="134.1" cy="56.3" r="1.98"/><circle class="k0" cx="78.9" cy="14.6" r="1.98"/><path d="M167.1 51.3L170.4 51.9" stroke="#8bb0b4"/><path d="M69.5 58.5L67.7 55.3" stroke="#8bb0b4"/><circle class="k10" cx="161.1" cy="44.5" r="1.98"/><path d="M100.1 12.3L100.6 10.2" stroke="#617c7f"/><circle class="k11" cx="141.5" cy="23.2" r="1.98"/><circle class="k10" cx="107.9" cy="40.2" r="1.98"/><circle class="k11" cx="115.6" cy="82.3" r="1.98"/><circle class="k3" cx="71.6" cy="16.8" r="1.98"/><circle class="k11" cx="106.0" cy="87.3" r="1.98"/><path d="M69.8 31.6L67.4 34.6" stroke="#8bb0b4"/><circle class="k10" cx="96.4" cy="34.3" r="1.98"/><circle class="k11" cx="134.4" cy="80.0" r="1.98"/><circle class="k11" cx="88.8" cy="84.0" r="1.98"/><circle class="k10" cx="78.7" cy="61.0" r="1.98"/><circle class="k9" cx="134.1" cy="14.6" r="1.98"/><path d="M113.3 13.8L113.7 16.3" stroke="#455a5c"/><circle class="k4" cx="166.0" cy="32.8" r="1.98"/><circle class="k9" cx="89.8" cy="39.3" r="1.98"/><circle class="k11" cx="92.2" cy="66.1" r="1.98"/><circle class="k10" cx="96.7" cy="41.7" r="1.98"/><circle class="k11" cx="88.1" cy="79.9" r="1.98"/><circle class="k11" cx="141.4" cy="30.3" r="1.98"/><path d="M99.3 99.9L96.3 100.2" stroke="#536b6e"/><circle class="k11" cx="142.3" cy="31.6" r="1.98"/><circle class="k8" cx="85.6" cy="24.9" r="1.98"/><path d="M171.7 3.6L170.1 3.5" stroke="#b5e4e8"/><circle class="k11" cx="109.5" cy="34.7" r="1.98"/><path d="M61.3 13.4L60.5 17.3" stroke="#b5e4e8"/><path d="M86.0 29.8L89.7 32.3" stroke="#37484b"/><path d="M78.9 14.6L74.4 14.0" stroke="#b5e4e8"/><circle class="k3" cx="94.7" cy="104.8" r="1.98"/><circle class="k11" cx="99.7" cy="82.4" r="1.98"/><circle class="k11" cx="128.0" cy="17.9" r="1.98"/><circle class="k11" cx="85.3" cy="86.9" r="1.98"/><circle class="k5" cx="69.5" cy="83.1" r="1.98"/><path d="M96.0 96.4L97.1 98.8" stroke="#37484b"/><path d="M74.4 14.0L71.6 16.8" stroke="#8bb0b4"/><circle class="k8" cx="108.7" cy="15.2" r="1.98"/><circle class="k11" cx="122.6" cy="48.9" r="1.98"/><circle class="k10" cx="92.2" cy="43.1" r="1.98"/><circle class="k11" cx="137.5" cy="46.4" r="1.98"/><circle class="k5" cx="74.1" cy="32.7" r="1.98"/><circle class="k4" cx="167.9" cy="100.1" r="1.98"/><circle class="k10" cx="116.9" cy="17.3" r="1.98"/><circle class="k10" cx="92.8" cy="47.2" r="1.98"/><circle class="k7" cx="83.6" cy="25.1" r="1.98"/><circle class="k11" cx="145.8" cy="33.2" r="1.98"/><circle class="k2" cx="69.4" cy="32.6" r="1.98"/><circle class="k11" cx="109.8" cy="86.4" r="1.98"/><circle class="k2" cx="69.7" cy="21.7" r="1.98"/><circle class="k10" cx="102.3" cy="44.7" r="1.98"/><circle class="k7" cx="73.5" cy="51.7" r="1.98"/><path d="M93.0 32.7L96.5 35.2" stroke="#455a5c"/><circle class="k5" cx="74.8" cy="102.4" r="1.98"/><circle class="k9" cx="89.7" cy="32.3" r="1.98"/><path d="M81.7 47.6L80.0 44.8" stroke="#2a373a"/><circle class="k9" cx="106.0" cy="25.0" r="1.98"/><circle class="k11" cx="83.8" cy="71.3" r="1.98"/><circle class="k11" cx="133.5" cy="40.7" r="1.98"/><path d="M142.3 102.4L140.8 105.9" stroke="#6f8e91"/><circle class="k8" cx="98.4" cy="20.6" r="1.98"/><circle class="k6" cx="83.0" cy="21.5" r="1.98"/><circle class="k11" cx="148.3" cy="68.8" r="1.98"/><circle class="k11" cx="119.8" cy="69.6" r="1.98"/><circle class="k0" cx="61.3" cy="13.4" r="1.98"/><circle class="k7" cx="87.1" cy="22.6" r="1.98"/><path d="M73.2 83.2L69.5 83.1" stroke="#536b6e"/><circle class="k11" cx="93.9" cy="92.7" r="1.98"/><circle class="k11" cx="103.5" cy="49.8" r="1.98"/><circle class="k11" cx="124.5" cy="83.9" r="1.98"/><circle class="k11" cx="145.2" cy="47.9" r="1.98"/><circle class="k11" cx="158.8" cy="47.5" r="1.98"/><circle class="k11" cx="119.7" cy="36.4" r="1.98"/><circle class="k11" cx="116.5" cy="77.6" r="1.99"/><circle class="k11" cx="155.9" cy="26.6" r="1.99"/><circle class="k2" cx="101.7" cy="105.9" r="1.99"/><circle class="k11" cx="152.6" cy="92.2" r="1.99"/><circle class="k11" cx="109.4" cy="85.7" r="1.99"/><circle class="k8" cx="84.2" cy="42.6" r="1.99"/><circle class="k11" cx="118.2" cy="89.8" r="1.99"/><circle class="k11" cx="104.2" cy="77.8" r="1.99"/><circle class="k11" cx="133.0" cy="33.2" r="1.99"/><path d="M77.2 37.5L78.4 33.7" stroke="#536b6e"/><circle class="k11" cx="113.2" cy="38.4" r="1.99"/><path d="M92.3 16.6L94.1 17.3" stroke="#37484b"/><path d="M167.9 100.1L171.8 98.5" stroke="#7d9fa2"/><circle class="k11" cx="139.9" cy="65.3" r="1.99"/><circle class="k4" cx="72.0" cy="33.2" r="1.99"/><circle class="k11" cx="76.3" cy="92.5" r="1.99"/><path d="M65.3 92.6L68.1 90.3" stroke="#8bb0b4"/><circle class="k11" cx="139.1" cy="17.6" r="1.99"/><circle class="k11" cx="127.1" cy="63.5" r="1.99"/><circle class="k11" cx="137.9" cy="76.4" r="1.99"/><circle class="k6" cx="71.3" cy="93.7" r="1.99"/><circle class="k10" cx="91.9" cy="55.4" r="1.99"/><circle class="k10" cx="95.3" cy="53.7" r="1.99"/><path d="M90.8 103.9L94.7 104.8" stroke="#8bb0b4"/><circle class="k7" cx="78.4" cy="33.7" r="1.99"/><path d="M84.2 42.6L87.0 45.2" stroke="#455a5c"/><circle class="k11" cx="146.8" cy="22.9" r="1.99"/><circle class="k10" cx="161.5" cy="20.1" r="1.99"/><circle class="k2" cx="166.6" cy="91.8" r="1.99"/><circle class="k11" cx="135.0" cy="17.9" r="1.99"/><circle class="k1" cx="107.8" cy="106.9" r="1.99"/><circle class="k11" cx="86.2" cy="94.7" r="1.99"/><circle class="k11" cx="105.7" cy="66.5" r="1.99"/><circle class="k11" cx="154.1" cy="43.5" r="1.99"/><path d="M102.2 110.1L101.7 105.9" stroke="#99c2c5"/><circle class="k8" cx="144.9" cy="12.8" r="1.99"/><circle class="k11" cx="127.3" cy="54.8" r="1.99"/><circle class="k4" cx="68.8" cy="76.3" r="1.99"/><circle class="k11" cx="87.1" cy="71.4" r="1.99"/><circle class="k9" cx="123.9" cy="15.2" r="1.99"/><circle class="k11" cx="136.6" cy="96.9" r="1.99"/><circle class="k10" cx="161.4" cy="37.5" r="1.99"/><path d="M158.8 7.7L157.7 11.0" stroke="#617c7f"/><circle class="k11" cx="89.8" cy="85.1" r="1.99"/><circle class="k10" cx="159.1" cy="15.1" r="1.99"/><circle class="k11" cx="88.5" cy="87.4" r="1.99"/><circle class="k10" cx="85.6" cy="63.5" r="1.99"/><circle class="k9" cx="75.8" cy="57.0" r="1.99"/><circle class="k3" cx="76.4" cy="18.8" r="1.99"/><path d="M66.0 29.8L69.4 32.6" stroke="#99c2c5"/><circle class="k11" cx="135.2" cy="87.8" r="1.99"/><circle class="k9" cx="101.6" cy="36.2" r="1.99"/><circle class="k11" cx="150.9" cy="44.1" r="1.99"/><circle class="k11" cx="156.8" cy="57.7" r="1.99"/><circle class="k5" cx="133.0" cy="102.2" r="1.99"/><circle class="k8" cx="108.4" cy="19.1" r="1.99"/><circle class="k11" cx="138.0" cy="47.2" r="1.99"/><circle class="k8" cx="93.0" cy="32.7" r="1.99"/><circle class="k11" cx="111.7" cy="53.2" r="1.99"/><circle class="k10" cx="100.0" cy="50.6" r="1.99"/><path d="M121.5 12.7L120.0 10.7" stroke="#536b6e"/><circle class="k11" cx="138.6" cy="54.8" r="1.99"/><path d="M165.7 13.8L162.3 15.0" stroke="#37484b"/><circle class="k7" cx="96.5" cy="35.2" r="1.99"/><circle class="k3" cx="136.6" cy="104.6" r="1.99"/><circle class="k0" cx="60.5" cy="17.3" r="1.99"/><circle class="k4" cx="133.0" cy="12.7" r="1.99"/><circle class="k11" cx="160.0" cy="65.5" r="1.99"/><circle class="k11" cx="142.0" cy="46.1" r="1.99"/><circle class="k11" cx="154.6" cy="68.8" r="1.99"/><circle class="k7" cx="140.5" cy="13.5" r="1.99"/><circle class="k11" cx="116.6" cy="62.3" r="1.99"/><circle class="k11" cx="144.7" cy="91.9" r="1.99"/><circle class="k7" cx="86.0" cy="29.8" r="1.99"/><circle class="k11" cx="146.1" cy="78.0" r="1.99"/><circle class="k11" cx="119.2" cy="65.4" r="1.99"/><circle class="k4" cx="71.0" cy="49.5" r="1.99"/><circle class="k11" cx="102.5" cy="67.8" r="1.99"/><circle class="k3" cx="122.1" cy="103.4" r="1.99"/><circle class="k0" cx="171.0" cy="70.4" r="1.99"/><path d="M143.3 106.9L143.8 104.7" stroke="#8bb0b4"/><circle class="k0" cx="65.8" cy="14.6" r="1.99"/><circle class="k7" cx="108.7" cy="19.9" r="1.99"/><path d="M140.8 105.9L136.6 104.6" stroke="#8bb0b4"/><circle class="k11" cx="80.3" cy="91.3" r="1.99"/><circle class="k11" cx="114.7" cy="50.2" r="1.99"/><circle class="k11" cx="151.0" cy="78.7" r="1.99"/><circle class="k11" cx="104.1" cy="52.0" r="1.99"/><circle class="k10" cx="94.1" cy="57.7" r="1.99"/><circle class="k11" cx="146.2" cy="40.4" r="1.99"/><circle class="k6" cx="93.3" cy="101.7" r="1.99"/><circle class="k11" cx="106.6" cy="71.0" r="1.99"/><circle class="k7" cx="92.0" cy="100.0" r="1.99"/><circle class="k11" cx="140.6" cy="26.2" r="1.99"/><circle class="k11" cx="153.5" cy="68.1" r="1.99"/><circle class="k11" cx="139.8" cy="19.0" r="1.99"/><circle class="k11" cx="121.7" cy="39.4" r="1.99"/><circle class="k8" cx="124.8" cy="99.2" r="1.99"/><circle class="k11" cx="129.7" cy="52.4" r="1.99"/><circle class="k8" cx="73.5" cy="74.8" r="1.99"/><circle class="k11" cx="87.3" cy="93.2" r="1.99"/><circle class="k9" cx="78.9" cy="63.0" r="1.99"/><circle class="k11" cx="137.9" cy="82.5" r="1.99"/><circle class="k11" cx="130.8" cy="69.5" r="1.99"/><path d="M127.5 20.7L126.0 24.3" stroke="#2a373a"/><circle class="k11" cx="91.1" cy="90.7" r="1.99"/><circle class="k11" cx="118.1" cy="46.2" r="1.99"/><circle class="k3" cx="69.5" cy="58.5" r="1.99"/><circle class="k11" cx="109.9" cy="74.8" r="1.99"/><circle class="k6" cx="165.3" cy="100.8" r="1.99"/><circle class="k11" cx="145.2" cy="77.8" r="1.99"/><circle class="k11" cx="141.9" cy="39.8" r="1.99"/><circle class="k4" cx="103.9" cy="103.8" r="1.99"/><circle class="k10" cx="107.8" cy="42.8" r="1.99"/><circle class="k2" cx="168.8" cy="55.1" r="1.99"/><circle class="k10" cx="127.5" cy="20.7" r="1.99"/><circle class="k7" cx="71.8" cy="92.0" r="1.99"/><circle class="k11" cx="89.4" cy="76.0" r="1.99"/><circle class="k11" cx="149.8" cy="24.4" r="1.99"/><circle class="k1" cx="69.5" cy="23.9" r="1.99"/><circle class="k7" cx="89.0" cy="31.7" r="1.99"/><circle class="k5" cx="88.3" cy="25.2" r="1.99"/><path d="M126.0 24.3L129.8 26.5" stroke="#2a373a"/><circle class="k11" cx="128.1" cy="45.8" r="1.99"/><circle class="k4" cx="144.5" cy="9.2" r="1.99"/><circle class="k11" cx="89.8" cy="88.4" r="1.99"/><circle class="k9" cx="81.7" cy="67.1" r="1.99"/><circle class="k9" cx="118.1" cy="20.5" r="1.99"/><circle class="k11" cx="115.0" cy="87.2" r="1.99"/><circle class="k11" cx="146.0" cy="34.1" r="1.99"/><circle class="k5" cx="82.9" cy="31.3" r="1.99"/><circle class="k4" cx="80.1" cy="29.0" r="1.99"/><circle class="k11" cx="99.4" cy="70.4" r="1.99"/><circle class="k11" cx="123.5" cy="83.4" r="1.99"/><path d="M166.6 91.8L167.6 95.5" stroke="#7d9fa2"/><circle class="k3" cx="77.5" cy="22.4" r="1.99"/><circle class="k11" cx="106.6" cy="69.3" r="1.99"/><circle class="k9" cx="122.6" cy="17.0" r="1.99"/><circle class="k11" cx="132.7" cy="38.0" r="1.99"/><circle class="k1" cx="67.4" cy="34.6" r="1.99"/><circle class="k11" cx="124.8" cy="82.7" r="2.00"/><path d="M88.9 20.4L87.1 22.6" stroke="#536b6e"/><circle class="k10" cx="125.5" cy="26.9" r="2.00"/><circle class="k9" cx="159.7" cy="13.7" r="2.00"/><circle class="k0" cx="74.4" cy="14.0" r="2.00"/><path d="M74.8 102.4L76.6 103.4" stroke="#6f8e91"/><circle class="k9" cx="91.2" cy="98.0" r="2.00"/><circle class="k3" cx="114.5" cy="10.4" r="2.00"/><circle class="k10" cx="129.8" cy="26.5" r="2.00"/><circle class="k11" cx="102.8" cy="80.8" r="2.00"/><circle class="k10" cx="161.0" cy="31.8" r="2.00"/><circle class="k5" cx="77.2" cy="37.5" r="2.00"/><circle class="k11" cx="157.5" cy="96.8" r="2.00"/><circle class="k10" cx="112.6" cy="35.7" r="2.00"/><circle class="k11" cx="120.5" cy="83.6" r="2.00"/><circle class="k4" cx="89.4" cy="20.8" r="2.00"/><circle class="k11" cx="149.8" cy="28.4" r="2.00"/><circle class="k11" cx="138.9" cy="29.4" r="2.00"/><circle class="k11" cx="128.9" cy="90.7" r="2.00"/><path d="M95.9 104.5L93.3 101.7" stroke="#617c7f"/><circle class="k10" cx="160.9" cy="19.9" r="2.00"/><circle class="k6" cx="165.9" cy="81.4" r="2.00"/><circle class="k11" cx="138.8" cy="61.5" r="2.00"/><path d="M112.6 35.7L108.6 33.8" stroke="#2a373a"/><circle class="k8" cx="98.8" cy="33.1" r="2.00"/><circle class="k7" cx="100.4" cy="32.0" r="2.00"/><circle class="k10" cx="107.5" cy="54.6" r="2.00"/><path d="M102.7 38.7L101.6 36.2" stroke="#37484b"/><circle class="k7" cx="75.3" cy="58.7" r="2.00"/><circle class="k11" cx="137.1" cy="28.5" r="2.00"/><path d="M118.1 20.5L119.3 23.7" stroke="#37484b"/><circle class="k0" cx="155.3" cy="108.5" r="2.00"/><circle class="k11" cx="154.8" cy="57.0" r="2.00"/><circle class="k11" cx="98.7" cy="91.6" r="2.00"/><circle class="k11" cx="133.4" cy="41.6" r="2.00"/><circle class="k10" cx="77.9" cy="82.2" r="2.00"/><circle class="k5" cx="71.5" cy="67.9" r="2.00"/><circle class="k7" cx="73.2" cy="83.2" r="2.00"/><path d="M107.5 105.2L103.9 103.8" stroke="#7d9fa2"/><circle class="k8" cx="75.0" cy="88.5" r="2.00"/><path d="M161.5 20.1L159.5 18.9" stroke="#2a373a"/><path d="M97.2 52.2L101.3 53.6" stroke="#37484b"/><path d="M82.4 34.8L82.9 31.3" stroke="#6f8e91"/><circle class="k11" cx="99.0" cy="88.6" r="2.00"/><circle class="k11" cx="113.3" cy="90.2" r="2.00"/><path d="M133.0 12.7L129.9 11.5" stroke="#7d9fa2"/><path d="M76.4 18.8L72.7 17.7" stroke="#8bb0b4"/><path d="M169.0 72.6L171.0 70.4" stroke="#a7d3d7"/><path d="M107.8 106.9L105.2 106.7" stroke="#a7d3d7"/><circle class="k11" cx="92.7" cy="93.6" r="2.00"/><circle class="k7" cx="87.0" cy="45.2" r="2.00"/><path d="M71.8 92.0L68.0 94.2" stroke="#536b6e"/><circle class="k10" cx="98.0" cy="66.5" r="2.00"/><circle class="k11" cx="143.7" cy="59.1" r="2.00"/><path d="M159.2 101.8L159.6 97.7" stroke="#2a373a"/><circle class="k11" cx="136.9" cy="46.1" r="2.00"/><path d="M107.0 22.4L103.6 25.0" stroke="#7d9fa2"/><path d="M75.0 88.5L74.7 92.6" stroke="#455a5c"/><circle class="k11" cx="154.9" cy="86.3" r="2.00"/><path d="M125.5 26.9L122.1 24.6" stroke="#2a373a"/><circle class="k0" cx="171.8" cy="98.5" r="2.00"/><path d="M129.3 27.8L125.5 26.9" stroke="#2a373a"/><circle class="k11" cx="100.8" cy="79.0" r="2.00"/><circle class="k11" cx="119.8" cy="78.9" r="2.00"/><path d="M89.4 20.8L85.0 20.6" stroke="#7d9fa2"/><circle class="k11" cx="154.9" cy="47.1" r="2.00"/><circle class="k7" cx="99.3" cy="99.9" r="2.00"/><path d="M67.8 51.4L71.0 49.5" stroke="#7d9fa2"/><circle class="k11" cx="100.9" cy="83.3" r="2.00"/><circle class="k10" cx="139.7" cy="21.7" r="2.00"/><circle class="k11" cx="157.3" cy="34.0" r="2.00"/><circle class="k7" cx="113.7" cy="16.3" r="2.00"/><circle class="k11" cx="148.2" cy="84.3" r="2.00"/><circle class="k8" cx="138.0" cy="99.0" r="2.00"/><circle class="k5" cx="99.5" cy="20.2" r="2.00"/><circle class="k10" cx="116.3" cy="48.3" r="2.00"/><path d="M81.7 67.1L81.4 63.7" stroke="#37484b"/><circle class="k10" cx="106.6" cy="56.4" r="2.00"/><circle class="k8" cx="108.5" cy="32.4" r="2.00"/><circle class="k1" cx="71.0" cy="38.8" r="2.00"/><circle class="k0" cx="102.2" cy="110.1" r="2.00"/><circle class="k11" cx="152.4" cy="70.0" r="2.00"/><path d="M68.6 78.6L68.8 76.3" stroke="#7d9fa2"/><circle class="k11" cx="146.7" cy="30.0" r="2.00"/><circle class="k8" cx="115.4" cy="22.0" r="2.00"/><circle class="k6" cx="81.7" cy="47.6" r="2.00"/><path d="M69.3 95.4L71.3 93.7" stroke="#617c7f"/><circle class="k11" cx="121.6" cy="71.6" r="2.00"/><circle class="k10" cx="154.0" cy="36.9" r="2.00"/><path d="M109.2 45.4L107.8 42.8" stroke="#2a373a"/><circle class="k2" cx="107.0" cy="22.4" r="2.00"/><circle class="k10" cx="113.4" cy="53.6" r="2.00"/><circle class="k11" cx="99.9" cy="76.7" r="2.00"/><circle class="k11" cx="126.0" cy="93.9" r="2.00"/><circle class="k0" cx="170.4" cy="51.9" r="2.00"/><circle class="k10" cx="90.2" cy="77.3" r="2.00"/><circle class="k8" cx="112.5" cy="31.5" r="2.00"/><circle class="k9" cx="97.2" cy="52.2" r="2.00"/><path d="M165.2 10.4L161.0 10.7" stroke="#6f8e91"/><circle class="k6" cx="159.2" cy="101.8" r="2.00"/><circle class="k11" cx="129.5" cy="41.8" r="2.00"/><circle class="k9" cx="126.0" cy="24.3" r="2.00"/><circle class="k4" cx="128.1" cy="11.0" r="2.00"/><circle class="k11" cx="138.6" cy="74.9" r="2.00"/><circle class="k7" cx="95.0" cy="41.0" r="2.00"/><path d="M161.0 10.7L158.4 14.3" stroke="#455a5c"/><circle class="k0" cx="90.8" cy="103.9" r="2.00"/><circle class="k5" cx="96.0" cy="96.4" r="2.00"/><circle class="k7" cx="145.0" cy="99.9" r="2.00"/><circle class="k7" cx="106.8" cy="28.5" r="2.00"/><circle class="k11" cx="133.4" cy="49.3" r="2.00"/><circle class="k2" cx="140.8" cy="105.9" r="2.00"/><circle class="k11" cx="144.6" cy="81.9" r="2.00"/><circle class="k9" cx="109.7" cy="51.0" r="2.00"/><path d="M81.1 83.7L77.9 82.2" stroke="#2a373a"/><circle class="k5" cx="102.4" cy="22.5" r="2.00"/><circle class="k7" cx="164.3" cy="46.6" r="2.00"/><circle class="k11" cx="123.5" cy="82.9" r="2.00"/><circle class="k11" cx="134.2" cy="44.5" r="2.00"/><path d="M100.6 10.2L104.8 8.9" stroke="#a7d3d7"/><path d="M124.9 14.2L123.9 15.2" stroke="#37484b"/><circle class="k9" cx="114.3" cy="34.6" r="2.00"/><circle class="k5" cx="165.2" cy="10.4" r="2.00"/><path d="M167.1 78.3L165.9 81.4" stroke="#617c7f"/><circle class="k10" cx="127.9" cy="40.4" r="2.00"/><circle class="k11" cx="143.0" cy="43.9" r="2.00"/><circle class="k8" cx="163.6" cy="31.6" r="2.00"/><path d="M74.8 76.0L73.5 74.8" stroke="#455a5c"/><circle class="k10" cx="134.5" cy="48.3" r="2.00"/><circle class="k0" cx="170.1" cy="3.5" r="2.00"/><path d="M167.7 54.0L164.0 56.1" stroke="#536b6e"/><circle class="k0" cx="66.0" cy="29.8" r="2.00"/><circle class="k11" cx="152.0" cy="47.4" r="2.00"/><circle class="k10" cx="160.9" cy="45.0" r="2.00"/><path d="M112.3 28.8L109.3 31.6" stroke="#536b6e"/><circle class="k8" cx="158.4" cy="14.3" r="2.00"/><path d="M113.7 16.3L109.8 16.4" stroke="#536b6e"/><path d="M71.5 67.9L67.5 66.5" stroke="#6f8e91"/><path d="M80.4 31.3L82.1 27.4" stroke="#99c2c5"/><circle class="k7" cx="112.3" cy="28.8" r="2.00"/><circle class="k11" cx="132.5" cy="94.7" r="2.00"/><path d="M101.7 26.2L102.4 22.5" stroke="#6f8e91"/><circle class="k9" cx="83.7" cy="75.1" r="2.01"/><circle class="k10" cx="90.7" cy="72.4" r="2.01"/><path d="M165.9 81.4L164.3 84.2" stroke="#536b6e"/><circle class="k11" cx="143.9" cy="42.0" r="2.01"/><circle class="k9" cx="132.6" cy="20.4" r="2.01"/><path d="M65.8 14.6L63.1 13.3" stroke="#b5e4e8"/><circle class="k11" cx="149.9" cy="32.4" r="2.01"/><circle class="k11" cx="136.2" cy="63.9" r="2.01"/><circle class="k10" cx="147.3" cy="31.7" r="2.01"/><circle class="k1" cx="100.6" cy="10.2" r="2.01"/><path d="M87.0 61.1L86.6 56.9" stroke="#455a5c"/><circle class="k9" cx="122.5" cy="82.9" r="2.01"/><circle class="k0" cx="139.3" cy="109.0" r="2.01"/><path d="M77.9 82.2L74.0 83.7" stroke="#2a373a"/><circle class="k2" cx="68.7" cy="62.6" r="2.01"/><circle class="k11" cx="143.8" cy="86.9" r="2.01"/><circle class="k11" cx="110.3" cy="69.4" r="2.01"/><path d="M82.2 28.3L80.1 29.0" stroke="#7d9fa2"/><path d="M122.6 17.0L123.4 18.9" stroke="#37484b"/><path d="M139.3 109.0L135.3 110.5" stroke="#b5e4e8"/><circle class="k9" cx="101.3" cy="53.6" r="2.01"/><circle class="k10" cx="78.6" cy="95.4" r="2.01"/><circle class="k11" cx="125.7" cy="56.2" r="2.01"/><circle class="k6" cx="164.5" cy="28.6" r="2.01"/><path d="M143.1 11.5L139.2 9.5" stroke="#7d9fa2"/><path d="M160.9 19.9L158.6 20.5" stroke="#2a373a"/><circle class="k10" cx="112.2" cy="57.0" r="2.01"/><path d="M75.3 58.7L71.3 59.3" stroke="#536b6e"/><circle class="k7" cx="162.6" cy="12.6" r="2.01"/><circle class="k10" cx="143.0" cy="30.8" r="2.01"/><circle class="k0" cx="170.5" cy="57.9" r="2.01"/><circle class="k9" cx="92.8" cy="75.5" r="2.01"/><path d="M141.5 101.2L138.0 99.0" stroke="#455a5c"/><circle class="k2" cx="80.4" cy="31.3" r="2.01"/><circle class="k4" cx="70.5" cy="83.7" r="2.01"/><circle class="k2" cx="167.7" cy="54.0" r="2.01"/><circle class="k1" cx="82.9" cy="44.7" r="2.01"/><circle class="k8" cx="124.0" cy="25.5" r="2.01"/><path d="M73.8 40.0L71.0 38.8" stroke="#a7d3d7"/><circle class="k1" cx="102.4" cy="10.1" r="2.01"/><circle class="k10" cx="137.8" cy="40.0" r="2.01"/><circle class="k11" cx="142.0" cy="78.5" r="2.01"/><path d="M116.6 51.7L113.4 53.6" stroke="#2a373a"/><circle class="k10" cx="159.6" cy="97.7" r="2.01"/><circle class="k11" cx="117.3" cy="67.0" r="2.01"/><circle class="k4" cx="96.2" cy="25.2" r="2.01"/><circle class="k8" cx="87.0" cy="61.1" r="2.01"/><path d="M67.5 58.2L69.5 58.5" stroke="#8bb0b4"/><circle class="k11" cx="115.9" cy="85.8" r="2.01"/><circle class="k10" cx="118.7" cy="59.1" r="2.01"/><circle class="k11" cx="135.9" cy="55.1" r="2.01"/><circle class="k10" cx="101.5" cy="78.1" r="2.01"/><circle class="k11" cx="129.0" cy="74.2" r="2.01"/><path d="M145.0 99.9L141.5 101.2" stroke="#536b6e"/><circle class="k11" cx="116.8" cy="93.4" r="2.01"/><circle class="k2" cx="84.2" cy="23.5" r="2.01"/><path d="M77.5 22.4L74.5 21.2" stroke="#8bb0b4"/><circle class="k11" cx="141.1" cy="90.3" r="2.01"/><circle class="k3" cx="84.0" cy="31.2" r="2.01"/><circle class="k6" cx="125.0" cy="19.0" r="2.01"/><circle class="k5" cx="105.8" cy="27.5" r="2.01"/><circle class="k4" cx="103.6" cy="25.0" r="2.01"/><path d="M93.5 53.7L97.2 52.2" stroke="#37484b"/><path d="M67.5 66.5L68.7 62.6" stroke="#99c2c5"/><circle class="k10" cx="156.6" cy="23.2" r="2.01"/><circle class="k11" cx="129.1" cy="86.8" r="2.01"/><circle class="k6" cx="108.6" cy="33.8" r="2.01"/><path d="M167.6 95.5L172.1 95.4" stroke="#7d9fa2"/><circle class="k11" cx="145.6" cy="66.5" r="2.01"/><path d="M169.0 61.4L170.5 57.9" stroke="#99c2c5"/><circle class="k0" cx="65.3" cy="92.6" r="2.01"/><path d="M107.6 75.1L111.6 73.1" stroke="#2a373a"/><circle class="k9" cx="133.4" cy="29.3" r="2.01"/><path d="M80.1 90.2L84.1 92.1" stroke="#2a373a"/><circle class="k11" cx="159.1" cy="65.3" r="2.01"/><circle class="k10" cx="118.9" cy="52.3" r="2.01"/><circle class="k3" cx="98.0" cy="24.3" r="2.01"/><circle class="k11" cx="141.5" cy="57.3" r="2.01"/><circle class="k8" cx="131.1" cy="99.7" r="2.01"/><path d="M109.7 51.0L107.7 53.8" stroke="#37484b"/><path d="M106.8 28.5L108.4 31.1" stroke="#536b6e"/><path d="M103.8 70.0L102.8 74.0" stroke="#2a373a"/><circle class="k3" cx="92.9" cy="48.0" r="2.01"/><circle class="k11" cx="109.7" cy="81.0" r="2.01"/><path d="M90.7 72.4L87.1 74.6" stroke="#2a373a"/><path d="M134.2 51.7L134.5 48.3" stroke="#2a373a"/><circle class="k9" cx="104.0" cy="55.2" r="2.01"/><circle class="k6" cx="82.7" cy="59.7" r="2.01"/><circle class="k10" cx="90.3" cy="88.7" r="2.01"/><circle class="k4" cx="143.1" cy="11.5" r="2.01"/><circle class="k11" cx="148.2" cy="70.7" r="2.01"/><circle class="k11" cx="153.7" cy="56.2" r="2.01"/><circle class="k9" cx="107.9" cy="96.6" r="2.01"/><circle class="k11" cx="133.4" cy="73.6" r="2.01"/><path d="M114.5 10.4L113.2 9.8" stroke="#8bb0b4"/><path d="M133.4 29.3L137.6 28.3" stroke="#37484b"/><circle class="k11" cx="149.7" cy="46.0" r="2.01"/><circle class="k7" cx="74.1" cy="81.7" r="2.01"/><path d="M89.8 98.2L91.2 98.0" stroke="#37484b"/><path d="M99.6 31.3L98.8 33.1" stroke="#455a5c"/><circle class="k1" cx="80.3" cy="38.0" r="2.01"/><circle class="k8" cx="132.4" cy="99.3" r="2.01"/><circle class="k9" cx="133.9" cy="37.5" r="2.01"/><circle class="k5" cx="161.0" cy="10.7" r="2.01"/><circle class="k2" cx="158.8" cy="7.7" r="2.01"/><circle class="k10" cx="96.1" cy="84.7" r="2.01"/><path d="M103.3 62.1L99.4 60.1" stroke="#455a5c"/><circle class="k11" cx="129.0" cy="89.8" r="2.01"/><path d="M165.8 14.6L162.6 12.6" stroke="#536b6e"/><circle class="k8" cx="74.7" cy="92.6" r="2.01"/><circle class="k4" cx="98.7" cy="27.8" r="2.01"/><circle class="k11" cx="127.0" cy="70.7" r="2.01"/><path d="M120.4 51.0L116.5 49.0" stroke="#37484b"/><circle class="k10" cx="133.4" cy="51.1" r="2.01"/><path d="M124.0 25.5L123.3 28.8" stroke="#455a5c"/><path d="M93.9 90.8L90.3 88.7" stroke="#2a373a"/><path d="M82.9 44.7L78.6 44.9" stroke="#a7d3d7"/><path d="M122.8 38.3L119.7 41.4" stroke="#455a5c"/><circle class="k8" cx="103.1" cy="57.0" r="2.01"/><circle class="k9" cx="144.9" cy="19.8" r="2.01"/><circle class="k11" cx="139.1" cy="57.6" r="2.01"/><path d="M160.0 105.4L159.2 101.8" stroke="#617c7f"/><circle class="k11" cx="122.0" cy="92.5" r="2.01"/><path d="M103.6 25.0L105.1 28.1" stroke="#7d9fa2"/><circle class="k6" cx="119.3" cy="23.7" r="2.01"/><circle class="k0" cx="92.3" cy="16.6" r="2.01"/><circle class="k5" cx="165.7" cy="13.8" r="2.01"/><circle class="k10" cx="153.1" cy="27.4" r="2.01"/><path d="M118.7 47.1L116.3 48.3" stroke="#2a373a"/><circle class="k9" cx="134.1" cy="31.7" r="2.01"/><circle class="k0" cx="104.8" cy="8.9" r="2.01"/><circle class="k8" cx="113.4" cy="46.6" r="2.01"/><circle class="k7" cx="164.0" cy="56.1" r="2.01"/><circle class="k9" cx="107.7" cy="58.4" r="2.01"/><circle class="k8" cx="159.6" cy="100.0" r="2.01"/><circle class="k0" cx="72.3" cy="22.5" r="2.01"/><circle class="k10" cx="152.6" cy="21.1" r="2.01"/><circle class="k11" cx="140.1" cy="68.6" r="2.01"/><circle class="k11" cx="127.3" cy="85.0" r="2.01"/><path d="M80.3 38.0L75.8 37.3" stroke="#a7d3d7"/><path d="M128.1 11.0L125.4 10.8" stroke="#7d9fa2"/><circle class="k5" cx="84.5" cy="50.8" r="2.01"/><circle class="k0" cx="139.2" cy="9.5" r="2.01"/><circle class="k11" cx="136.9" cy="58.7" r="2.01"/><path d="M72.7 17.7L70.0 14.4" stroke="#b5e4e8"/><circle class="k6" cx="129.7" cy="17.9" r="2.01"/><circle class="k7" cx="90.2" cy="63.9" r="2.01"/><circle class="k3" cx="95.9" cy="104.5" r="2.01"/><path d="M160.9 45.0L158.3 44.0" stroke="#2a373a"/><circle class="k10" cx="111.6" cy="73.1" r="2.01"/><circle class="k4" cx="167.6" cy="95.5" r="2.01"/><circle class="k11" cx="123.7" cy="71.9" r="2.01"/><path d="M107.7 53.8L104.0 55.2" stroke="#37484b"/><circle class="k10" cx="102.8" cy="74.0" r="2.01"/><path d="M118.7 59.1L120.1 62.4" stroke="#2a373a"/><circle class="k11" cx="131.8" cy="79.8" r="2.01"/><circle class="k1" cx="82.1" cy="27.4" r="2.01"/><circle class="k10" cx="84.1" cy="92.1" r="2.01"/><path d="M85.8 77.2L83.7 75.1" stroke="#37484b"/><circle class="k2" cx="82.4" cy="34.8" r="2.01"/><path d="M130.8 22.4L132.6 20.4" stroke="#37484b"/><circle class="k4" cx="92.6" cy="42.9" r="2.01"/><path d="M74.7 92.6L78.1 94.4" stroke="#455a5c"/><circle class="k6" cx="86.6" cy="56.9" r="2.01"/><path d="M170.5 57.9L174.2 56.2" stroke="#b5e4e8"/><path d="M63.6 96.5L65.3 92.6" stroke="#b5e4e8"/><circle class="k1" cx="85.0" cy="20.6" r="2.01"/><circle class="k9" cx="141.2" cy="46.5" r="2.01"/><circle class="k9" cx="161.8" cy="54.3" r="2.01"/><path d="M84.2 23.5L83.1 19.6" stroke="#99c2c5"/><circle class="k10" cx="131.8" cy="42.9" r="2.01"/><path d="M102.4 10.1L104.2 6.6" stroke="#a7d3d7"/><circle class="k2" cx="120.0" cy="10.7" r="2.01"/><path d="M72.3 22.5L74.9 25.0" stroke="#b5e4e8"/><circle class="k6" cx="122.1" cy="24.6" r="2.02"/><path d="M171.8 54.6L167.7 54.0" stroke="#99c2c5"/><circle class="k9" cx="120.4" cy="51.0" r="2.02"/><circle class="k0" cx="172.1" cy="95.4" r="2.02"/><path d="M115.4 22.0L117.0 22.3" stroke="#455a5c"/><path d="M95.6 74.4L92.8 75.5" stroke="#37484b"/><circle class="k2" cx="107.5" cy="105.2" r="2.02"/><circle class="k8" cx="129.3" cy="27.8" r="2.02"/><circle class="k8" cx="119.7" cy="41.4" r="2.02"/><circle class="k5" cx="84.8" cy="59.7" r="2.02"/><path d="M105.8 27.5L106.5 30.4" stroke="#6f8e91"/><path d="M163.6 31.6L162.7 33.2" stroke="#455a5c"/><path d="M84.7 34.1L84.0 31.2" stroke="#8bb0b4"/><path d="M150.5 32.6L147.3 31.7" stroke="#2a373a"/><circle class="k10" cx="107.6" cy="75.1" r="2.02"/><circle class="k5" cx="109.3" cy="31.6" r="2.02"/><circle class="k0" cx="82.2" cy="107.1" r="2.02"/><circle class="k8" cx="99.4" cy="60.1" r="2.02"/><circle class="k10" cx="117.6" cy="68.5" r="2.02"/><path d="M139.7 21.7L141.0 21.2" stroke="#2a373a"/><circle class="k9" cx="133.4" cy="34.1" r="2.02"/><circle class="k9" cx="117.3" cy="50.3" r="2.02"/><circle class="k11" cx="151.6" cy="75.6" r="2.02"/><circle class="k8" cx="80.1" cy="90.2" r="2.02"/><circle class="k2" cx="68.0" cy="94.2" r="2.02"/><circle class="k0" cx="143.3" cy="106.9" r="2.02"/><circle class="k11" cx="125.2" cy="96.3" r="2.02"/><path d="M107.7 58.4L111.5 59.5" stroke="#37484b"/><circle class="k9" cx="104.4" cy="72.5" r="2.02"/><circle class="k4" cx="112.8" cy="23.7" r="2.02"/><circle class="k3" cx="79.5" cy="51.1" r="2.02"/><path d="M122.0 86.0L122.5 82.9" stroke="#37484b"/><path d="M82.1 27.4L85.9 26.8" stroke="#a7d3d7"/><path d="M85.2 64.0L87.0 61.1" stroke="#455a5c"/><circle class="k8" cx="130.5" cy="40.6" r="2.02"/><circle class="k1" cx="74.5" cy="36.5" r="2.02"/><circle class="k0" cx="102.7" cy="38.7" r="2.02"/><circle class="k0" cx="70.0" cy="14.4" r="2.02"/><circle class="k6" cx="84.6" cy="70.5" r="2.02"/><circle class="k8" cx="148.1" cy="99.0" r="2.02"/><circle class="k10" cx="154.5" cy="26.2" r="2.02"/><circle class="k1" cx="88.9" cy="20.4" r="2.02"/><path d="M159.7 57.2L163.0 54.5" stroke="#2a373a"/><circle class="k8" cx="160.6" cy="29.3" r="2.02"/><path d="M122.7 41.9L125.3 45.3" stroke="#536b6e"/><circle class="k9" cx="103.8" cy="70.0" r="2.02"/><circle class="k0" cx="135.3" cy="110.5" r="2.02"/><circle class="k11" cx="121.3" cy="89.5" r="2.02"/><circle class="k10" cx="101.0" cy="84.5" r="2.02"/><circle class="k0" cx="125.9" cy="7.0" r="2.02"/><circle class="k9" cx="126.7" cy="46.4" r="2.02"/><circle class="k9" cx="98.6" cy="75.7" r="2.02"/><circle class="k3" cx="101.7" cy="26.2" r="2.02"/><circle class="k8" cx="151.4" cy="16.3" r="2.02"/><circle class="k5" cx="81.4" cy="63.7" r="2.02"/><circle class="k1" cx="169.0" cy="72.6" r="2.02"/><circle class="k1" cx="95.7" cy="40.5" r="2.02"/><circle class="k8" cx="103.3" cy="62.1" r="2.02"/><circle class="k11" cx="107.1" cy="91.4" r="2.02"/><path d="M112.9 66.8L113.4 70.9" stroke="#37484b"/><circle class="k3" cx="76.6" cy="103.4" r="2.02"/><circle class="k2" cx="89.7" cy="33.2" r="2.02"/><circle class="k9" cx="107.2" cy="81.3" r="2.02"/><circle class="k11" cx="148.9" cy="92.1" r="2.02"/><path d="M93.7 63.3L90.2 63.9" stroke="#536b6e"/><circle class="k11" cx="142.8" cy="74.2" r="2.02"/><circle class="k8" cx="91.7" cy="78.4" r="2.02"/><circle class="k9" cx="113.4" cy="70.9" r="2.02"/><circle class="k1" cx="129.9" cy="11.5" r="2.02"/><path d="M167.7 27.7L164.5 28.6" stroke="#617c7f"/><path d="M94.4 44.3L95.7 40.5" stroke="#a7d3d7"/><path d="M96.2 25.2L96.7 27.1" stroke="#7d9fa2"/><circle class="k8" cx="104.5" cy="61.3" r="2.02"/><circle class="k9" cx="97.0" cy="77.9" r="2.02"/><circle class="k8" cx="81.1" cy="83.7" r="2.02"/><circle class="k7" cx="122.8" cy="38.3" r="2.02"/><circle class="k8" cx="130.7" cy="36.4" r="2.02"/><path d="M93.4 31.3L89.7 33.2" stroke="#99c2c5"/><circle class="k8" cx="116.5" cy="49.0" r="2.02"/><circle class="k9" cx="136.6" cy="35.9" r="2.02"/><circle class="k9" cx="93.4" cy="80.7" r="2.02"/><circle class="k10" cx="129.3" cy="63.4" r="2.02"/><path d="M76.1 62.9L71.7 64.1" stroke="#8bb0b4"/><path d="M140.4 108.4L139.3 109.0" stroke="#b5e4e8"/><circle class="k11" cx="121.0" cy="88.6" r="2.02"/><circle class="k4" cx="161.4" cy="9.6" r="2.02"/><circle class="k9" cx="156.5" cy="47.8" r="2.02"/><path d="M155.0 18.3L151.4 16.3" stroke="#455a5c"/><path d="M139.6 27.7L143.3 30.1" stroke="#455a5c"/><circle class="k8" cx="163.0" cy="54.5" r="2.02"/><path d="M129.9 11.5L125.9 9.9" stroke="#a7d3d7"/><circle class="k11" cx="124.6" cy="90.0" r="2.02"/><path d="M79.5 51.1L78.9 54.8" stroke="#8bb0b4"/><circle class="k0" cx="72.7" cy="17.7" r="2.02"/><circle class="k5" cx="79.8" cy="100.6" r="2.02"/><path d="M91.2 23.1L89.4 26.9" stroke="#b5e4e8"/><circle class="k10" cx="132.5" cy="63.4" r="2.02"/><circle class="k11" cx="157.9" cy="69.2" r="2.02"/><circle class="k7" cx="125.4" cy="37.3" r="2.02"/><circle class="k1" cx="109.8" cy="16.4" r="2.02"/><circle class="k11" cx="116.8" cy="84.5" r="2.02"/><circle class="k2" cx="86.9" cy="46.3" r="2.02"/><circle class="k0" cx="67.8" cy="51.4" r="2.02"/><circle class="k10" cx="143.2" cy="53.9" r="2.02"/><circle class="k3" cx="76.1" cy="62.9" r="2.02"/><path d="M158.9 25.7L154.5 26.2" stroke="#2a373a"/><path d="M160.6 29.3L158.9 25.7" stroke="#455a5c"/><circle class="k9" cx="117.0" cy="97.6" r="2.02"/><circle class="k8" cx="137.5" cy="33.5" r="2.02"/><circle class="k8" cx="159.5" cy="18.9" r="2.02"/><circle class="k0" cx="109.2" cy="45.4" r="2.02"/><circle class="k10" cx="148.2" cy="45.3" r="2.02"/><circle class="k10" cx="117.9" cy="71.8" r="2.02"/><circle class="k11" cx="127.9" cy="83.2" r="2.02"/><circle class="k9" cx="147.6" cy="35.5" r="2.02"/><path d="M152.8 16.9L152.9 12.7" stroke="#536b6e"/><circle class="k7" cx="122.7" cy="41.9" r="2.02"/><circle class="k0" cx="105.2" cy="106.7" r="2.02"/><circle class="k4" cx="167.1" cy="78.3" r="2.02"/><path d="M119.7 41.4L116.9 43.5" stroke="#455a5c"/><circle class="k10" cx="121.9" cy="73.1" r="2.02"/><path d="M84.1 92.1L86.7 91.0" stroke="#2a373a"/><circle class="k11" cx="144.1" cy="62.3" r="2.02"/><circle class="k7" cx="139.6" cy="25.6" r="2.02"/><circle class="k8" cx="163.3" cy="76.1" r="2.02"/><path d="M99.9 45.8L100.7 49.8" stroke="#7d9fa2"/><path d="M82.2 107.1L83.3 110.8" stroke="#b5e4e8"/><path d="M126.7 46.4L126.8 42.5" stroke="#37484b"/><path d="M116.5 76.8L115.1 72.7" stroke="#37484b"/><circle class="k2" cx="169.0" cy="61.4" r="2.02"/><circle class="k8" cx="112.0" cy="63.2" r="2.02"/><circle class="k0" cx="67.5" cy="66.5" r="2.02"/><circle class="k10" cx="154.5" cy="97.9" r="2.02"/><path d="M107.2 81.3L103.5 79.7" stroke="#37484b"/><path d="M103.1 57.0L105.3 58.5" stroke="#455a5c"/><path d="M81.9 62.2L84.8 59.7" stroke="#6f8e91"/><path d="M134.1 31.7L131.9 29.3" stroke="#37484b"/><circle class="k0" cx="170.6" cy="45.4" r="2.02"/><path d="M129.7 17.9L132.9 18.2" stroke="#617c7f"/><circle class="k11" cx="132.3" cy="77.4" r="2.02"/><circle class="k4" cx="137.9" cy="103.7" r="2.02"/><path d="M117.9 80.8L116.5 76.8" stroke="#37484b"/><circle class="k0" cx="91.2" cy="23.1" r="2.02"/><path d="M105.5 49.2L108.7 52.2" stroke="#7d9fa2"/><path d="M74.9 25.0L71.6 27.9" stroke="#b5e4e8"/><path d="M143.8 12.8L143.1 11.5" stroke="#7d9fa2"/><path d="M118.2 75.2L121.9 73.1" stroke="#2a373a"/><circle class="k9" cx="149.4" cy="42.1" r="2.02"/><path d="M124.7 49.4L126.7 46.4" stroke="#37484b"/><path d="M137.5 33.5L136.3 37.1" stroke="#455a5c"/><path d="M159.3 4.3L158.8 7.7" stroke="#99c2c5"/><circle class="k6" cx="137.6" cy="28.3" r="2.02"/><circle class="k10" cx="133.3" cy="62.7" r="2.02"/><circle class="k9" cx="149.9" cy="35.4" r="2.02"/><circle class="k9" cx="93.9" cy="90.8" r="2.02"/><circle class="k9" cx="96.9" cy="89.6" r="2.02"/><path d="M120.0 10.7L116.8 9.0" stroke="#99c2c5"/><path d="M104.5 61.3L108.0 62.7" stroke="#455a5c"/><circle class="k8" cx="86.2" cy="89.6" r="2.02"/><circle class="k6" cx="84.5" cy="77.6" r="2.03"/><circle class="k4" cx="74.0" cy="83.7" r="2.03"/><circle class="k7" cx="125.3" cy="45.3" r="2.03"/><circle class="k10" cx="138.5" cy="64.4" r="2.03"/><circle class="k0" cx="73.8" cy="40.0" r="2.03"/><circle class="k6" cx="141.5" cy="101.2" r="2.03"/><circle class="k7" cx="116.6" cy="51.7" r="2.03"/><path d="M161.8 102.8L159.6 100.0" stroke="#455a5c"/><path d="M139.7 33.1L136.6 35.9" stroke="#37484b"/><circle class="k11" cx="153.1" cy="60.8" r="2.03"/><path d="M165.6 10.3L161.4 9.6" stroke="#7d9fa2"/><circle class="k4" cx="99.4" cy="58.2" r="2.03"/><circle class="k7" cx="164.3" cy="84.2" r="2.03"/><circle class="k4" cx="99.9" cy="45.8" r="2.03"/><circle class="k4" cx="160.3" cy="11.4" r="2.03"/><circle class="k11" cx="144.1" cy="71.0" r="2.03"/><circle class="k3" cx="117.9" cy="21.7" r="2.03"/><circle class="k11" cx="136.7" cy="76.3" r="2.03"/><circle class="k8" cx="143.3" cy="30.1" r="2.03"/><circle class="k3" cx="128.4" cy="104.1" r="2.03"/><path d="M74.5 36.5L75.3 33.1" stroke="#a7d3d7"/><circle class="k8" cx="163.3" cy="65.9" r="2.03"/><circle class="k0" cx="70.8" cy="48.9" r="2.03"/><circle class="k9" cx="126.8" cy="61.1" r="2.03"/><circle class="k1" cx="68.6" cy="78.6" r="2.03"/><path d="M166.3 61.7L170.4 63.4" stroke="#6f8e91"/><circle class="k9" cx="113.0" cy="70.2" r="2.03"/><path d="M84.5 50.8L81.7 49.3" stroke="#6f8e91"/><circle class="k3" cx="112.7" cy="37.0" r="2.03"/><circle class="k0" cx="69.0" cy="34.4" r="2.03"/><path d="M103.1 98.8L98.6 99.5" stroke="#536b6e"/><circle class="k10" cx="156.7" cy="97.1" r="2.03"/><circle class="k10" cx="159.7" cy="57.2" r="2.03"/><path d="M157.1 22.1L155.0 18.3" stroke="#455a5c"/><path d="M97.0 77.9L93.0 78.8" stroke="#37484b"/><circle class="k7" cx="150.1" cy="18.8" r="2.03"/><path d="M76.6 103.4L79.5 105.2" stroke="#8bb0b4"/><circle class="k7" cx="140.5" cy="26.9" r="2.03"/><path d="M168.7 76.0L169.0 72.6" stroke="#8bb0b4"/><circle class="k0" cx="75.8" cy="37.3" r="2.03"/><path d="M112.7 37.0L112.7 40.9" stroke="#8bb0b4"/><circle class="k4" cx="93.5" cy="53.7" r="2.03"/><circle class="k4" cx="152.9" cy="12.7" r="2.03"/><circle class="k7" cx="103.7" cy="65.7" r="2.03"/><path d="M102.9 28.6L101.7 26.2" stroke="#8bb0b4"/><circle class="k6" cx="87.1" cy="74.6" r="2.03"/><path d="M112.7 17.6L115.5 14.2" stroke="#b5e4e8"/><path d="M87.6 96.3L83.7 98.6" stroke="#455a5c"/><circle class="k6" cx="139.6" cy="27.7" r="2.03"/><path d="M149.0 22.5L150.1 18.8" stroke="#536b6e"/><circle class="k0" cx="71.3" cy="59.3" r="2.03"/><circle class="k7" cx="153.5" cy="18.2" r="2.03"/><circle class="k7" cx="78.7" cy="94.1" r="2.03"/><path d="M63.1 13.3L59.4 10.8" stroke="#b5e4e8"/><circle class="k4" cx="98.1" cy="102.8" r="2.03"/><circle class="k11" cx="142.5" cy="76.8" r="2.03"/><circle class="k8" cx="132.2" cy="47.5" r="2.03"/><circle class="k2" cx="105.1" cy="28.1" r="2.03"/><circle class="k11" cx="123.2" cy="94.4" r="2.03"/><circle class="k0" cx="112.7" cy="17.6" r="2.03"/><circle class="k8" cx="158.6" cy="20.5" r="2.03"/><path d="M82.8 88.7L82.2 84.6" stroke="#6f8e91"/><path d="M100.5 78.1L98.6 75.7" stroke="#37484b"/><circle class="k2" cx="69.3" cy="95.4" r="2.03"/><path d="M112.8 23.7L112.4 25.8" stroke="#7d9fa2"/><circle class="k4" cx="133.8" cy="103.0" r="2.03"/><circle class="k0" cx="119.5" cy="6.8" r="2.03"/><circle class="k5" cx="92.9" cy="65.5" r="2.03"/><path d="M84.5 77.6L83.8 81.6" stroke="#617c7f"/><path d="M86.3 38.1L84.7 34.1" stroke="#a7d3d7"/><circle class="k9" cx="134.2" cy="51.7" r="2.03"/><circle class="k4" cx="123.3" cy="28.8" r="2.03"/><path d="M104.2 6.6L104.7 2.4" stroke="#b5e4e8"/><circle class="k0" cx="74.9" cy="25.0" r="2.03"/><path d="M77.2 66.1L76.1 62.9" stroke="#8bb0b4"/><circle class="k8" cx="84.1" cy="96.3" r="2.03"/><circle class="k0" cx="78.6" cy="44.9" r="2.03"/><circle class="k3" cx="165.8" cy="14.6" r="2.03"/><circle class="k11" cx="136.8" cy="74.7" r="2.03"/><circle class="k8" cx="115.4" cy="61.5" r="2.03"/><path d="M154.2 19.2L152.6 21.1" stroke="#2a373a"/><circle class="k3" cx="74.8" cy="76.0" r="2.03"/><path d="M97.3 92.6L93.9 90.8" stroke="#37484b"/><circle class="k9" cx="116.5" cy="76.8" r="2.03"/><circle class="k9" cx="115.1" cy="72.7" r="2.03"/><circle class="k7" cx="78.1" cy="94.4" r="2.03"/><path d="M105.4 70.5L104.4 72.5" stroke="#37484b"/><path d="M86.0 49.5L86.9 46.3" stroke="#99c2c5"/><path d="M161.0 52.8L161.8 54.3" stroke="#37484b"/><circle class="k5" cx="107.7" cy="53.8" r="2.03"/><circle class="k7" cx="152.8" cy="16.9" r="2.03"/><path d="M85.2 106.2L83.2 102.4" stroke="#99c2c5"/><path d="M79.8 100.6L78.2 97.9" stroke="#6f8e91"/><path d="M152.9 12.7L157.4 12.1" stroke="#7d9fa2"/><circle class="k2" cx="123.4" cy="18.9" r="2.03"/><path d="M83.1 19.6L87.6 19.8" stroke="#b5e4e8"/><circle class="k6" cx="127.4" cy="101.7" r="2.03"/><circle class="k10" cx="128.5" cy="97.2" r="2.03"/><circle class="k8" cx="87.6" cy="96.3" r="2.03"/><circle class="k2" cx="108.4" cy="31.1" r="2.03"/><circle class="k8" cx="132.9" cy="52.6" r="2.03"/><circle class="k4" cx="105.5" cy="49.2" r="2.03"/><path d="M98.6 99.5L96.2 103.2" stroke="#7d9fa2"/><path d="M130.1 55.6L132.9 52.6" stroke="#455a5c"/><path d="M136.5 60.3L133.3 62.7" stroke="#2a373a"/><circle class="k0" cx="82.2" cy="28.3" r="2.03"/><path d="M125.4 67.5L121.3 65.8" stroke="#37484b"/><circle class="k10" cx="117.8" cy="92.1" r="2.03"/><circle class="k1" cx="121.1" cy="12.7" r="2.03"/><circle class="k9" cx="154.5" cy="33.7" r="2.03"/><circle class="k10" cx="146.9" cy="51.0" r="2.03"/><circle class="k11" cx="127.7" cy="94.3" r="2.03"/><circle class="k0" cx="89.4" cy="26.9" r="2.03"/><circle class="k7" cx="103.1" cy="98.8" r="2.03"/><circle class="k4" cx="108.7" cy="52.2" r="2.03"/><circle class="k9" cx="117.9" cy="80.8" r="2.03"/><path d="M71.7 44.5L73.7 48.3" stroke="#b5e4e8"/><path d="M170.6 45.4L167.4 45.2" stroke="#a7d3d7"/><path d="M117.3 50.3L116.6 52.1" stroke="#37484b"/><circle class="k11" cx="152.0" cy="68.1" r="2.03"/><circle class="k7" cx="90.8" cy="81.5" r="2.03"/><circle class="k8" cx="112.9" cy="66.8" r="2.03"/><path d="M157.3 20.1L153.5 18.2" stroke="#536b6e"/><circle class="k7" cx="96.0" cy="80.6" r="2.03"/><circle class="k8" cx="157.1" cy="22.1" r="2.03"/><circle class="k2" cx="83.2" cy="102.4" r="2.03"/><circle class="k11" cx="138.4" cy="90.0" r="2.03"/><path d="M112.5 66.7L112.0 63.2" stroke="#455a5c"/><path d="M151.1 49.4L146.9 51.0" stroke="#2a373a"/><circle class="k7" cx="122.6" cy="54.2" r="2.03"/><circle class="k5" cx="140.7" cy="20.1" r="2.03"/><path d="M134.5 50.7L131.7 47.5" stroke="#536b6e"/><circle class="k7" cx="131.7" cy="47.5" r="2.03"/><circle class="k0" cx="71.6" cy="27.9" r="2.03"/><path d="M78.5 77.2L74.8 76.0" stroke="#8bb0b4"/><path d="M125.9 7.0L128.5 6.8" stroke="#b5e4e8"/><circle class="k5" cx="132.3" cy="31.3" r="2.03"/><circle class="k10" cx="144.0" cy="53.2" r="2.03"/><circle class="k1" cx="124.9" cy="14.2" r="2.03"/><path d="M107.2 76.8L107.6 75.1" stroke="#2a373a"/><circle class="k1" cx="71.7" cy="64.1" r="2.03"/><circle class="k5" cx="82.8" cy="88.7" r="2.03"/><circle class="k8" cx="143.9" cy="40.3" r="2.03"/><path d="M110.9 64.2L113.4 60.6" stroke="#617c7f"/><circle class="k0" cx="85.9" cy="26.8" r="2.03"/><circle class="k7" cx="148.6" cy="27.2" r="2.03"/><circle class="k7" cx="155.2" cy="29.1" r="2.03"/><circle class="k0" cx="63.6" cy="96.5" r="2.03"/><circle class="k11" cx="127.1" cy="89.1" r="2.03"/><circle class="k3" cx="100.7" cy="49.8" r="2.03"/><circle class="k1" cx="170.4" cy="63.4" r="2.03"/><circle class="k8" cx="120.1" cy="62.4" r="2.03"/><circle class="k6" cx="111.5" cy="59.5" r="2.03"/><circle class="k1" cx="94.4" cy="44.3" r="2.03"/><circle class="k5" cx="102.3" cy="61.6" r="2.03"/><path d="M74.5 21.2L69.9 21.5" stroke="#b5e4e8"/><circle class="k5" cx="166.3" cy="61.7" r="2.03"/><path d="M113.0 70.2L112.5 66.7" stroke="#37484b"/><circle class="k7" cx="132.4" cy="43.2" r="2.03"/><circle class="k0" cx="99.0" cy="23.7" r="2.03"/><path d="M126.3 44.4L130.2 46.4" stroke="#617c7f"/><circle class="k2" cx="88.7" cy="52.9" r="2.03"/><circle class="k0" cx="63.1" cy="13.3" r="2.03"/><path d="M105.2 106.7L101.9 106.3" stroke="#b5e4e8"/><circle class="k1" cx="93.4" cy="31.3" r="2.03"/><circle class="k11" cx="132.8" cy="95.8" r="2.03"/><circle class="k9" cx="116.8" cy="85.7" r="2.03"/><path d="M71.3 59.3L66.9 60.0" stroke="#b5e4e8"/><circle class="k2" cx="115.7" cy="25.2" r="2.03"/><circle class="k0" cx="83.1" cy="19.6" r="2.03"/><circle class="k6" cx="126.3" cy="44.4" r="2.03"/><circle class="k10" cx="156.6" cy="53.5" r="2.03"/><circle class="k1" cx="76.7" cy="56.9" r="2.03"/><path d="M76.2 69.2L76.1 65.1" stroke="#99c2c5"/><circle class="k11" cx="149.3" cy="67.0" r="2.03"/><circle class="k11" cx="153.6" cy="67.3" r="2.03"/><circle class="k6" cx="136.6" cy="43.2" r="2.03"/><path d="M96.9 89.6L94.3 87.5" stroke="#37484b"/><path d="M98.0 46.1L94.4 44.3" stroke="#a7d3d7"/><circle class="k9" cx="125.4" cy="67.5" r="2.03"/><circle class="k6" cx="100.3" cy="72.2" r="2.03"/><circle class="k6" cx="137.4" cy="36.6" r="2.03"/><circle class="k1" cx="86.3" cy="38.1" r="2.03"/><path d="M169.5 12.5L165.6 10.3" stroke="#b5e4e8"/><circle class="k4" cx="136.6" cy="25.2" r="2.03"/><circle class="k9" cx="109.5" cy="90.3" r="2.03"/><circle class="k0" cx="125.9" cy="9.9" r="2.03"/><path d="M98.1 102.8L99.4 106.5" stroke="#7d9fa2"/><circle class="k0" cx="74.5" cy="21.2" r="2.03"/><path d="M140.8 73.6L137.5 70.8" stroke="#2a373a"/><circle class="k7" cx="138.8" cy="100.3" r="2.03"/><circle class="k0" cx="104.7" cy="2.4" r="2.03"/><path d="M81.4 63.7L79.2 63.2" stroke="#6f8e91"/><circle class="k11" cx="137.9" cy="87.1" r="2.03"/><path d="M117.9 71.8L118.8 74.4" stroke="#2a373a"/><circle class="k2" cx="160.0" cy="105.4" r="2.03"/><circle class="k0" cx="174.2" cy="56.2" r="2.03"/><path d="M132.2 47.5L132.7 43.8" stroke="#455a5c"/><circle class="k1" cx="106.5" cy="30.4" r="2.03"/><circle class="k0" cx="104.2" cy="6.6" r="2.03"/><circle class="k7" cx="163.3" cy="43.4" r="2.03"/><circle class="k0" cx="59.4" cy="10.8" r="2.03"/><circle class="k6" cx="155.0" cy="18.3" r="2.03"/><path d="M88.7 52.9L86.0 49.5" stroke="#99c2c5"/><circle class="k1" cx="85.7" cy="54.9" r="2.03"/><path d="M99.4 58.2L102.3 57.2" stroke="#7d9fa2"/><circle class="k0" cx="84.7" cy="34.1" r="2.03"/><path d="M115.4 61.5L119.2 62.0" stroke="#455a5c"/><circle class="k2" cx="76.2" cy="69.2" r="2.03"/><circle class="k4" cx="98.6" cy="99.5" r="2.03"/><circle class="k10" cx="158.3" cy="44.0" r="2.03"/><circle class="k0" cx="171.8" cy="54.6" r="2.03"/><circle class="k10" cx="116.2" cy="95.5" r="2.03"/><circle class="k8" cx="146.6" cy="39.4" r="2.03"/><path d="M164.2 17.0L165.8 14.6" stroke="#8bb0b4"/><circle class="k6" cx="113.4" cy="60.6" r="2.03"/><path d="M132.9 18.2L136.8 16.4" stroke="#b5e4e8"/><path d="M91.1 81.4L93.4 80.7" stroke="#37484b"/><path d="M146.9 64.4L151.0 62.7" stroke="#2a373a"/><circle class="k3" cx="130.8" cy="22.4" r="2.04"/><circle class="k2" cx="109.6" cy="41.1" r="2.04"/><circle class="k0" cx="85.8" cy="77.2" r="2.04"/><path d="M154.4 25.0L155.2 29.1" stroke="#536b6e"/><circle class="k0" cx="171.4" cy="62.2" r="2.04"/><circle class="k11" cx="135.6" cy="93.8" r="2.04"/><path d="M92.5 71.4L95.6 74.4" stroke="#6f8e91"/><circle class="k7" cx="128.8" cy="54.6" r="2.04"/><circle class="k5" cx="95.6" cy="74.4" r="2.04"/><circle class="k5" cx="108.7" cy="61.9" r="2.04"/><circle class="k0" cx="71.7" cy="44.5" r="2.04"/><circle class="k1" cx="96.2" cy="32.6" r="2.04"/><path d="M158.6 20.5L157.1 22.9" stroke="#455a5c"/><path d="M167.4 45.2L163.3 43.4" stroke="#536b6e"/><circle class="k0" cx="88.1" cy="32.4" r="2.04"/><path d="M100.7 49.8L104.6 49.1" stroke="#8bb0b4"/><path d="M119.1 27.2L115.7 25.2" stroke="#99c2c5"/><path d="M78.6 44.9L79.5 47.9" stroke="#b5e4e8"/><circle class="k0" cx="96.2" cy="103.2" r="2.04"/><circle class="k10" cx="141.2" cy="75.6" r="2.04"/><circle class="k0" cx="67.5" cy="58.2" r="2.04"/><circle class="k11" cx="148.8" cy="90.3" r="2.04"/><path d="M131.9 29.3L127.4 29.4" stroke="#8bb0b4"/><circle class="k0" cx="65.9" cy="109.0" r="2.04"/><circle class="k2" cx="82.2" cy="84.6" r="2.04"/><path d="M106.1 56.9L102.7 54.1" stroke="#8bb0b4"/><circle class="k0" cx="73.7" cy="48.3" r="2.04"/><circle class="k10" cx="146.9" cy="64.4" r="2.04"/><circle class="k0" cx="125.4" cy="10.8" r="2.04"/><circle class="k2" cx="83.9" cy="66.4" r="2.04"/><circle class="k8" cx="100.1" cy="93.3" r="2.04"/><circle class="k1" cx="78.9" cy="54.8" r="2.04"/><path d="M123.4 18.9L119.9 19.4" stroke="#99c2c5"/><path d="M84.2 57.8L88.5 59.1" stroke="#a7d3d7"/><circle class="k6" cx="158.9" cy="25.7" r="2.04"/><circle class="k1" cx="93.7" cy="63.3" r="2.04"/><path d="M128.4 104.1L130.1 107.3" stroke="#8bb0b4"/><circle class="k0" cx="136.8" cy="16.4" r="2.04"/><path d="M79.8 74.7L76.4 77.6" stroke="#99c2c5"/><circle class="k11" cx="158.8" cy="93.0" r="2.04"/><path d="M112.7 40.9L115.5 44.1" stroke="#99c2c5"/><circle class="k11" cx="157.2" cy="65.5" r="2.04"/><circle class="k3" cx="118.7" cy="47.1" r="2.04"/><path d="M109.5 90.3L105.4 91.8" stroke="#37484b"/><path d="M162.2 75.5L163.3 76.1" stroke="#455a5c"/><path d="M119.5 6.8L119.6 2.7" stroke="#b5e4e8"/><circle class="k5" cx="83.7" cy="98.6" r="2.04"/><path d="M100.1 93.3L103.3 96.3" stroke="#455a5c"/><circle class="k10" cx="140.8" cy="73.6" r="2.04"/><circle class="k5" cx="108.1" cy="60.2" r="2.04"/><circle class="k8" cx="163.6" cy="87.5" r="2.04"/><circle class="k0" cx="87.6" cy="19.8" r="2.04"/><circle class="k7" cx="121.3" cy="65.8" r="2.04"/><path d="M116.7 108.3L114.2 111.5" stroke="#b5e4e8"/><circle class="k8" cx="118.2" cy="75.2" r="2.04"/><path d="M89.4 26.9L86.5 29.1" stroke="#b5e4e8"/><circle class="k11" cx="151.7" cy="77.9" r="2.04"/><path d="M103.5 79.7L98.9 80.2" stroke="#617c7f"/><circle class="k0" cx="169.5" cy="12.5" r="2.04"/><circle class="k7" cx="127.5" cy="55.8" r="2.04"/><path d="M75.8 37.3L71.9 36.7" stroke="#b5e4e8"/><path d="M154.5 97.9L153.7 99.9" stroke="#2a373a"/><circle class="k0" cx="114.2" cy="111.5" r="2.04"/><circle class="k2" cx="85.2" cy="64.0" r="2.04"/><circle class="k0" cx="99.6" cy="31.3" r="2.04"/><circle class="k7" cx="150.5" cy="32.6" r="2.04"/><circle class="k0" cx="130.4" cy="110.5" r="2.04"/><circle class="k3" cx="127.4" cy="29.4" r="2.04"/><circle class="k4" cx="82.3" cy="92.4" r="2.04"/><path d="M67.7 62.6L71.6 64.7" stroke="#b5e4e8"/><circle class="k1" cx="136.3" cy="37.1" r="2.04"/><path d="M156.6 53.5L161.0 52.8" stroke="#2a373a"/><circle class="k0" cx="113.2" cy="9.8" r="2.04"/><path d="M78.9 54.8L82.5 56.5" stroke="#a7d3d7"/><path d="M105.2 94.5L101.2 95.8" stroke="#455a5c"/><circle class="k0" cx="115.5" cy="14.2" r="2.04"/><circle class="k10" cx="154.2" cy="66.0" r="2.04"/><path d="M109.2 66.4L112.9 66.8" stroke="#455a5c"/><circle class="k8" cx="101.2" cy="95.8" r="2.04"/><path d="M92.9 65.5L89.2 66.2" stroke="#6f8e91"/><path d="M155.2 29.1L157.2 31.8" stroke="#536b6e"/><circle class="k0" cx="88.2" cy="38.6" r="2.04"/><circle class="k6" cx="103.5" cy="79.7" r="2.04"/><circle class="k11" cx="154.5" cy="78.6" r="2.04"/><circle class="k11" cx="149.6" cy="88.6" r="2.04"/><circle class="k2" cx="112.7" cy="40.9" r="2.04"/><circle class="k5" cx="89.8" cy="98.2" r="2.04"/><circle class="k3" cx="162.7" cy="33.2" r="2.04"/><circle class="k1" cx="70.6" cy="78.4" r="2.04"/><circle class="k4" cx="126.8" cy="42.5" r="2.04"/><circle class="k5" cx="110.9" cy="64.2" r="2.04"/><circle class="k1" cx="85.2" cy="106.2" r="2.04"/><path d="M153.9 63.3L158.0 62.1" stroke="#2a373a"/><circle class="k2" cx="79.8" cy="74.7" r="2.04"/><path d="M131.7 47.5L128.3 47.2" stroke="#536b6e"/><circle class="k4" cx="149.0" cy="22.5" r="2.04"/><path d="M156.7 97.1L159.3 99.2" stroke="#2a373a"/><path d="M151.0 62.7L155.6 62.4" stroke="#2a373a"/><circle class="k10" cx="124.7" cy="91.7" r="2.04"/><circle class="k10" cx="158.0" cy="62.1" r="2.04"/><circle class="k5" cx="122.0" cy="86.0" r="2.04"/><path d="M160.0 8.8L160.3 11.4" stroke="#7d9fa2"/><circle class="k3" cx="106.1" cy="56.9" r="2.04"/><circle class="k7" cx="131.1" cy="56.2" r="2.04"/><circle class="k9" cx="162.2" cy="72.2" r="2.04"/><path d="M163.6 87.5L160.6 85.5" stroke="#2a373a"/><path d="M106.7 63.1L110.9 64.2" stroke="#6f8e91"/><circle class="k2" cx="115.6" cy="40.7" r="2.04"/><circle class="k3" cx="116.9" cy="43.5" r="2.04"/><circle class="k0" cx="117.0" cy="22.3" r="2.04"/><circle class="k6" cx="130.1" cy="55.6" r="2.04"/><circle class="k6" cx="146.7" cy="38.8" r="2.04"/><circle class="k9" cx="129.3" cy="80.4" r="2.04"/><circle class="k0" cx="67.7" cy="62.6" r="2.04"/><path d="M144.0 53.2L145.7 55.8" stroke="#2a373a"/><circle class="k2" cx="124.7" cy="49.4" r="2.04"/><path d="M70.8 48.9L69.4 50.0" stroke="#b5e4e8"/><circle class="k11" cx="150.4" cy="76.9" r="2.04"/><circle class="k4" cx="108.0" cy="62.7" r="2.04"/><circle class="k7" cx="125.3" cy="64.6" r="2.04"/><path d="M128.5 97.2L131.3 97.2" stroke="#2a373a"/><circle class="k0" cx="83.3" cy="110.8" r="2.04"/><circle class="k0" cx="69.9" cy="21.5" r="2.04"/><circle class="k0" cx="165.6" cy="10.3" r="2.04"/><path d="M137.4 36.6L140.1 38.7" stroke="#617c7f"/><circle class="k11" cx="150.6" cy="87.6" r="2.04"/><circle class="k8" cx="127.0" cy="70.1" r="2.04"/><circle class="k1" cx="84.2" cy="57.8" r="2.04"/><path d="M67.8 81.9L70.6 78.4" stroke="#a7d3d7"/><path d="M82.2 84.6L78.1 83.4" stroke="#99c2c5"/><circle class="k4" cx="139.7" cy="33.1" r="2.04"/><path d="M69.0 34.4L67.3 35.0" stroke="#b5e4e8"/><path d="M84.1 96.3L85.0 98.6" stroke="#455a5c"/><circle class="k0" cx="134.5" cy="50.7" r="2.04"/><path d="M115.7 25.2L112.2 24.2" stroke="#99c2c5"/><circle class="k6" cx="101.2" cy="85.1" r="2.04"/><circle class="k11" cx="143.8" cy="94.2" r="2.04"/><path d="M76.7 56.9L79.4 56.7" stroke="#a7d3d7"/><circle class="k1" cx="81.9" cy="62.2" r="2.04"/><path d="M88.5 59.1L92.7 59.4" stroke="#b5e4e8"/><circle class="k5" cx="86.7" cy="91.0" r="2.04"/><path d="M74.4 80.8L77.6 77.6" stroke="#a7d3d7"/><circle class="k0" cx="88.5" cy="59.1" r="2.04"/><path d="M120.1 62.4L122.8 63.9" stroke="#455a5c"/><circle class="k9" cx="137.5" cy="70.8" r="2.04"/><path d="M130.1 107.3L130.4 110.5" stroke="#b5e4e8"/><path d="M97.2 73.4L94.7 70.0" stroke="#8bb0b4"/><path d="M75.0 71.2L71.5 74.1" stroke="#b5e4e8"/><circle class="k2" cx="157.4" cy="12.1" r="2.04"/><circle class="k0" cx="96.7" cy="27.1" r="2.04"/><path d="M146.6 39.4L149.0 36.2" stroke="#455a5c"/><circle class="k5" cx="130.2" cy="46.4" r="2.04"/><circle class="k2" cx="83.8" cy="81.6" r="2.04"/><circle class="k8" cx="151.1" cy="49.4" r="2.04"/><circle class="k2" cx="102.9" cy="52.8" r="2.04"/><path d="M121.1 12.7L119.9 9.8" stroke="#a7d3d7"/><circle class="k3" cx="94.7" cy="70.0" r="2.04"/><circle class="k3" cx="147.5" cy="16.8" r="2.04"/><circle class="k1" cx="102.7" cy="54.1" r="2.04"/><path d="M123.3 28.8L121.7 27.9" stroke="#7d9fa2"/><circle class="k1" cx="76.1" cy="65.1" r="2.04"/><circle class="k10" cx="134.9" cy="81.7" r="2.04"/><circle class="k6" cx="122.2" cy="65.6" r="2.04"/><path d="M150.1 48.3L151.6 52.3" stroke="#536b6e"/><circle class="k3" cx="141.0" cy="21.2" r="2.04"/><path d="M115.5 14.2L119.0 15.2" stroke="#b5e4e8"/><path d="M88.6 96.1L87.6 96.3" stroke="#455a5c"/><circle class="k7" cx="129.4" cy="61.5" r="2.04"/><path d="M108.7 52.2L109.7 53.6" stroke="#7d9fa2"/><path d="M116.2 95.5L113.0 94.7" stroke="#2a373a"/><path d="M102.7 54.1L98.5 52.6" stroke="#a7d3d7"/><path d="M135.1 104.2L133.8 103.0" stroke="#7d9fa2"/><circle class="k0" cx="97.3" cy="92.6" r="2.04"/><circle class="k9" cx="131.3" cy="76.1" r="2.04"/><path d="M171.4 62.2L170.4 59.4" stroke="#a7d3d7"/><circle class="k2" cx="167.7" cy="27.7" r="2.04"/><path d="M162.7 33.2L159.1 33.0" stroke="#8bb0b4"/><path d="M148.3 12.4L147.5 16.8" stroke="#8bb0b4"/><path d="M134.3 106.1L138.7 105.2" stroke="#a7d3d7"/><circle class="k4" cx="157.3" cy="20.1" r="2.04"/><circle class="k4" cx="99.0" cy="78.1" r="2.04"/><circle class="k2" cx="78.5" cy="77.2" r="2.04"/><circle class="k2" cx="93.0" cy="78.8" r="2.05"/><path d="M125.3 64.6L126.0 60.8" stroke="#536b6e"/><circle class="k0" cx="132.9" cy="18.2" r="2.05"/><circle class="k6" cx="150.9" cy="36.9" r="2.05"/><path d="M121.9 23.0L126.0 21.3" stroke="#b5e4e8"/><path d="M134.1 64.8L138.6 64.2" stroke="#617c7f"/><circle class="k1" cx="76.4" cy="77.6" r="2.05"/><path d="M73.7 48.3L76.3 49.0" stroke="#b5e4e8"/><circle class="k0" cx="131.9" cy="29.3" r="2.05"/><circle class="k1" cx="154.9" cy="14.8" r="2.05"/><circle class="k0" cx="75.3" cy="33.1" r="2.05"/><circle class="k9" cx="151.0" cy="62.7" r="2.05"/><circle class="k10" cx="155.6" cy="62.4" r="2.05"/><circle class="k1" cx="79.5" cy="105.2" r="2.05"/><path d="M88.3 35.0L88.1 32.4" stroke="#b5e4e8"/><path d="M131.3 76.1L135.7 76.2" stroke="#37484b"/><circle class="k4" cx="108.1" cy="68.8" r="2.05"/><circle class="k2" cx="105.3" cy="58.5" r="2.05"/><circle class="k1" cx="115.5" cy="44.1" r="2.05"/><path d="M158.3 44.0L156.9 41.5" stroke="#2a373a"/><circle class="k0" cx="116.8" cy="9.0" r="2.05"/><circle class="k7" cx="136.5" cy="60.3" r="2.05"/><path d="M158.8 71.4L162.2 72.2" stroke="#37484b"/><path d="M144.5 40.3L142.7 36.3" stroke="#7d9fa2"/><path d="M97.7 62.9L100.7 66.1" stroke="#a7d3d7"/><path d="M115.9 104.3L116.7 108.3" stroke="#99c2c5"/><circle class="k3" cx="168.7" cy="76.0" r="2.05"/><path d="M76.4 77.6L74.5 81.5" stroke="#a7d3d7"/><path d="M109.6 41.1L112.3 41.8" stroke="#99c2c5"/><path d="M127.0 70.1L125.7 73.9" stroke="#455a5c"/><circle class="k1" cx="96.0" cy="52.5" r="2.05"/><path d="M119.0 88.6L122.0 86.0" stroke="#6f8e91"/><path d="M99.0 23.7L97.7 21.2" stroke="#b5e4e8"/><circle class="k0" cx="71.6" cy="64.7" r="2.05"/><path d="M166.7 63.5L166.3 61.7" stroke="#6f8e91"/><path d="M108.0 62.7L110.5 65.5" stroke="#7d9fa2"/><circle class="k1" cx="98.0" cy="46.1" r="2.05"/><circle class="k1" cx="77.6" cy="77.6" r="2.05"/><path d="M114.7 88.1L115.0 92.4" stroke="#536b6e"/><path d="M70.6 78.4L71.9 75.7" stroke="#a7d3d7"/><circle class="k2" cx="92.5" cy="71.4" r="2.05"/><path d="M156.9 23.7L157.3 20.1" stroke="#7d9fa2"/><circle class="k9" cx="131.4" cy="85.9" r="2.05"/><circle class="k0" cx="77.2" cy="66.1" r="2.05"/><circle class="k3" cx="98.9" cy="80.2" r="2.05"/><circle class="k0" cx="140.4" cy="108.4" r="2.05"/><path d="M131.7 73.0L136.2 73.7" stroke="#536b6e"/><circle class="k5" cx="150.1" cy="48.3" r="2.05"/><path d="M75.3 33.1L79.2 33.6" stroke="#b5e4e8"/><circle class="k8" cx="153.0" cy="54.5" r="2.05"/><path d="M88.2 38.6L88.3 35.0" stroke="#b5e4e8"/><path d="M71.5 74.1L66.9 73.8" stroke="#b5e4e8"/><circle class="k0" cx="75.0" cy="71.2" r="2.05"/><path d="M83.3 110.8L86.1 109.3" stroke="#b5e4e8"/><circle class="k1" cx="138.7" cy="105.2" r="2.05"/><circle class="k0" cx="67.9" cy="53.4" r="2.05"/><circle class="k0" cx="102.9" cy="28.6" r="2.05"/><circle class="k6" cx="134.1" cy="64.8" r="2.05"/><circle class="k10" cx="156.8" cy="69.5" r="2.05"/><path d="M106.5 30.4L104.8 31.5" stroke="#a7d3d7"/><path d="M122.8 106.4L122.0 110.6" stroke="#a7d3d7"/><circle class="k0" cx="116.7" cy="108.3" r="2.05"/><circle class="k9" cx="149.2" cy="68.5" r="2.05"/><circle class="k0" cx="86.0" cy="49.5" r="2.05"/><circle class="k4" cx="144.5" cy="40.3" r="2.05"/><path d="M122.0 110.6L125.4 113.4" stroke="#b5e4e8"/><circle class="k1" cx="167.4" cy="45.2" r="2.05"/><circle class="k1" cx="87.6" cy="64.0" r="2.05"/><circle class="k3" cx="163.8" cy="44.0" r="2.05"/><circle class="k9" cx="162.0" cy="80.7" r="2.05"/><circle class="k1" cx="100.7" cy="66.1" r="2.05"/><circle class="k0" cx="159.3" cy="4.3" r="2.05"/><circle class="k0" cx="143.8" cy="12.8" r="2.05"/><path d="M117.2 78.1L118.2 75.2" stroke="#455a5c"/><circle class="k2" cx="78.2" cy="97.9" r="2.05"/><circle class="k7" cx="103.3" cy="96.3" r="2.05"/><circle class="k5" cx="161.8" cy="102.8" r="2.05"/><path d="M112.3 41.8L115.6 40.7" stroke="#99c2c5"/><circle class="k3" cx="100.5" cy="78.1" r="2.05"/><circle class="k8" cx="152.0" cy="57.4" r="2.05"/><circle class="k0" cx="126.0" cy="21.3" r="2.05"/><circle class="k7" cx="105.2" cy="94.5" r="2.05"/><circle class="k4" cx="112.5" cy="66.7" r="2.05"/><circle class="k0" cx="71.5" cy="74.1" r="2.05"/><path d="M104.2 76.1L100.5 78.1" stroke="#8bb0b4"/><circle class="k0" cx="119.1" cy="27.2" r="2.05"/><circle class="k1" cx="74.4" cy="80.8" r="2.05"/><circle class="k6" cx="145.3" cy="50.1" r="2.05"/><circle class="k0" cx="66.9" cy="60.0" r="2.05"/><path d="M65.9 109.0L63.5 108.5" stroke="#b5e4e8"/><circle class="k8" cx="116.5" cy="92.6" r="2.05"/><circle class="k1" cx="129.7" cy="36.2" r="2.05"/><circle class="k10" cx="150.3" cy="83.5" r="2.05"/><circle class="k2" cx="140.8" cy="51.8" r="2.05"/><circle class="k1" cx="118.3" cy="30.3" r="2.05"/><circle class="k4" cx="154.4" cy="25.0" r="2.05"/><circle class="k9" cx="153.9" cy="63.3" r="2.05"/><circle class="k0" cx="81.7" cy="49.3" r="2.05"/><path d="M147.6 19.5L149.0 22.5" stroke="#7d9fa2"/><circle class="k9" cx="130.4" cy="91.8" r="2.05"/><circle class="k11" cx="151.3" cy="93.9" r="2.05"/><path d="M131.3 83.3L129.3 80.4" stroke="#37484b"/><circle class="k0" cx="104.6" cy="49.1" r="2.05"/><path d="M100.7 66.1L104.8 66.5" stroke="#a7d3d7"/><circle class="k0" cx="112.4" cy="25.8" r="2.05"/><path d="M117.0 22.3L120.1 20.7" stroke="#b5e4e8"/><circle class="k6" cx="105.4" cy="91.8" r="2.05"/><circle class="k2" cx="131.7" cy="73.0" r="2.05"/><circle class="k0" cx="82.5" cy="56.5" r="2.05"/><path d="M113.2 9.8L111.7 10.7" stroke="#b5e4e8"/><path d="M153.3 80.6L150.3 83.5" stroke="#2a373a"/><circle class="k0" cx="99.4" cy="106.5" r="2.05"/><circle class="k10" cx="160.0" cy="74.4" r="2.05"/><circle class="k7" cx="151.6" cy="52.3" r="2.05"/><circle class="k3" cx="119.2" cy="62.0" r="2.05"/><path d="M69.4 50.0L67.9 53.4" stroke="#b5e4e8"/><path d="M149.7 39.8L150.9 36.9" stroke="#617c7f"/><circle class="k2" cx="132.7" cy="43.8" r="2.05"/><path d="M165.5 25.1L167.7 27.7" stroke="#99c2c5"/><circle class="k0" cx="121.9" cy="23.0" r="2.05"/><circle class="k7" cx="114.7" cy="88.1" r="2.05"/><circle class="k3" cx="112.0" cy="68.3" r="2.05"/><circle class="k3" cx="105.4" cy="70.5" r="2.05"/><circle class="k7" cx="115.0" cy="92.4" r="2.05"/><circle class="k0" cx="164.2" cy="17.0" r="2.05"/><path d="M113.7 69.8L118.1 68.7" stroke="#8bb0b4"/><circle class="k2" cx="168.4" cy="36.5" r="2.05"/><circle class="k7" cx="148.1" cy="100.0" r="2.05"/><path d="M76.1 65.1L76.5 62.1" stroke="#a7d3d7"/><circle class="k8" cx="161.1" cy="99.1" r="2.05"/><path d="M108.6 92.7L105.2 94.5" stroke="#536b6e"/><path d="M141.7 56.3L137.2 57.5" stroke="#6f8e91"/><path d="M123.5 31.8L127.2 29.2" stroke="#a7d3d7"/><path d="M101.2 85.1L103.8 86.4" stroke="#617c7f"/><circle class="k1" cx="134.3" cy="106.1" r="2.05"/><path d="M87.0 67.8L87.6 64.0" stroke="#a7d3d7"/><circle class="k0" cx="122.0" cy="110.6" r="2.05"/><path d="M77.6 77.6L75.7 74.5" stroke="#a7d3d7"/><path d="M120.6 41.3L116.5 39.3" stroke="#b5e4e8"/><path d="M96.7 27.1L95.9 29.5" stroke="#b5e4e8"/><circle class="k6" cx="149.6" cy="100.9" r="2.05"/><path d="M91.4 87.1L94.6 84.2" stroke="#99c2c5"/><path d="M160.6 85.5L157.1 83.1" stroke="#2a373a"/><circle class="k1" cx="123.5" cy="31.8" r="2.05"/><circle class="k2" cx="97.2" cy="73.4" r="2.05"/><circle class="k2" cx="106.7" cy="63.1" r="2.05"/><circle class="k3" cx="94.3" cy="87.5" r="2.05"/><circle class="k0" cx="92.7" cy="59.4" r="2.05"/><circle class="k0" cx="101.9" cy="106.3" r="2.05"/><path d="M118.3 30.3L120.0 33.5" stroke="#a7d3d7"/><circle class="k1" cx="122.8" cy="106.4" r="2.05"/><path d="M83.2 108.3L85.2 106.2" stroke="#a7d3d7"/><circle class="k0" cx="87.0" cy="71.8" r="2.05"/><path d="M122.2 65.6L124.7 63.8" stroke="#617c7f"/><circle class="k0" cx="79.5" cy="47.9" r="2.05"/><circle class="k6" cx="138.6" cy="64.2" r="2.05"/><circle class="k0" cx="125.4" cy="113.4" r="2.05"/><path d="M116.5 39.3L115.1 35.3" stroke="#b5e4e8"/><circle class="k3" cx="157.1" cy="22.9" r="2.05"/><circle class="k7" cx="136.2" cy="73.7" r="2.05"/><circle class="k6" cx="161.0" cy="52.8" r="2.06"/><circle class="k5" cx="107.4" cy="88.3" r="2.06"/><path d="M79.4 56.7L83.5 58.8" stroke="#b5e4e8"/><circle class="k10" cx="151.5" cy="87.3" r="2.06"/><path d="M86.9 83.2L91.1 81.4" stroke="#a7d3d7"/><path d="M126.2 68.1L127.0 70.1" stroke="#455a5c"/><circle class="k0" cx="102.3" cy="57.2" r="2.06"/><path d="M171.3 102.0L170.6 97.9" stroke="#a7d3d7"/><circle class="k0" cx="99.9" cy="47.4" r="2.06"/><circle class="k0" cx="128.5" cy="6.8" r="2.06"/><circle class="k0" cx="97.7" cy="62.9" r="2.06"/><path d="M94.3 87.5L91.3 84.6" stroke="#8bb0b4"/><circle class="k0" cx="119.9" cy="19.4" r="2.06"/><path d="M117.7 96.5L116.5 92.6" stroke="#455a5c"/><circle class="k0" cx="116.4" cy="35.4" r="2.06"/><circle class="k0" cx="116.6" cy="52.1" r="2.06"/><circle class="k3" cx="142.7" cy="36.3" r="2.06"/><circle class="k2" cx="75.5" cy="96.0" r="2.06"/><path d="M130.8 104.4L134.3 106.1" stroke="#a7d3d7"/><circle class="k2" cx="115.9" cy="104.3" r="2.06"/><circle class="k5" cx="137.2" cy="57.5" r="2.06"/><circle class="k1" cx="154.2" cy="19.2" r="2.06"/><circle class="k10" cx="160.6" cy="85.5" r="2.06"/><circle class="k0" cx="86.5" cy="29.1" r="2.06"/><path d="M156.8 69.5L156.9 73.0" stroke="#2a373a"/><circle class="k0" cx="67.8" cy="81.9" r="2.06"/><path d="M153.0 54.5L156.9 54.6" stroke="#455a5c"/><path d="M87.0 71.8L87.0 67.8" stroke="#b5e4e8"/><circle class="k1" cx="94.5" cy="68.5" r="2.06"/><circle class="k0" cx="66.9" cy="73.8" r="2.06"/><circle class="k7" cx="123.6" cy="95.9" r="2.06"/><path d="M145.7 55.8L147.7 59.7" stroke="#6f8e91"/><circle class="k0" cx="98.5" cy="52.6" r="2.06"/><circle class="k10" cx="160.9" cy="92.0" r="2.06"/><circle class="k0" cx="120.6" cy="41.3" r="2.06"/><path d="M81.7 49.3L78.0 51.2" stroke="#b5e4e8"/><path d="M163.8 44.0L165.9 40.7" stroke="#8bb0b4"/><path d="M86.7 92.9L82.6 94.9" stroke="#a7d3d7"/><circle class="k2" cx="91.4" cy="87.1" r="2.06"/><path d="M162.9 93.5L166.5 95.8" stroke="#455a5c"/><path d="M154.9 14.8L155.2 11.2" stroke="#a7d3d7"/><circle class="k0" cx="119.6" cy="2.7" r="2.06"/><path d="M96.0 52.5L92.4 52.9" stroke="#a7d3d7"/><circle class="k10" cx="156.8" cy="76.5" r="2.06"/><circle class="k0" cx="75.7" cy="93.5" r="2.06"/><circle class="k0" cx="148.3" cy="12.4" r="2.06"/><circle class="k4" cx="122.0" cy="91.1" r="2.06"/><circle class="k3" cx="157.2" cy="31.8" r="2.06"/><circle class="k0" cx="83.5" cy="58.8" r="2.06"/><circle class="k2" cx="143.7" cy="34.5" r="2.06"/><circle class="k0" cx="136.4" cy="22.1" r="2.06"/><circle class="k1" cx="148.2" cy="106.8" r="2.06"/><circle class="k4" cx="118.8" cy="74.4" r="2.06"/><path d="M126.0 21.3L129.7 20.6" stroke="#b5e4e8"/><path d="M129.7 36.2L126.6 34.3" stroke="#a7d3d7"/><circle class="k2" cx="109.2" cy="66.4" r="2.06"/><circle class="k2" cx="113.7" cy="69.8" r="2.06"/><circle class="k3" cx="107.2" cy="76.8" r="2.06"/><path d="M99.4 76.6L97.2 73.4" stroke="#99c2c5"/><circle class="k9" cx="152.1" cy="82.0" r="2.06"/><circle class="k7" cx="135.7" cy="76.2" r="2.06"/><path d="M102.3 57.2L104.3 60.5" stroke="#b5e4e8"/><path d="M134.9 81.7L136.0 80.7" stroke="#2a373a"/><circle class="k0" cx="74.5" cy="81.5" r="2.06"/><path d="M148.1 11.0L148.9 15.0" stroke="#b5e4e8"/><circle class="k0" cx="115.1" cy="35.3" r="2.06"/><circle class="k2" cx="93.7" cy="87.6" r="2.06"/><circle class="k0" cx="171.3" cy="102.0" r="2.06"/><circle class="k4" cx="106.3" cy="87.5" r="2.06"/><circle class="k0" cx="130.1" cy="107.3" r="2.06"/><circle class="k3" cx="118.1" cy="68.7" r="2.06"/><path d="M127.2 29.2L127.9 25.0" stroke="#b5e4e8"/><path d="M145.3 50.1L148.5 51.8" stroke="#617c7f"/><circle class="k0" cx="71.9" cy="36.7" r="2.06"/><circle class="k0" cx="78.1" cy="83.4" r="2.06"/><circle class="k4" cx="156.8" cy="60.1" r="2.06"/><circle class="k0" cx="128.3" cy="47.2" r="2.06"/><circle class="k5" cx="166.5" cy="95.8" r="2.06"/><circle class="k3" cx="126.0" cy="60.8" r="2.06"/><circle class="k0" cx="86.9" cy="83.2" r="2.06"/><circle class="k1" cx="113.2" cy="56.6" r="2.06"/><path d="M163.6 106.2L161.8 102.8" stroke="#6f8e91"/><circle class="k0" cx="79.2" cy="33.6" r="2.06"/><path d="M71.6 64.7L70.2 66.9" stroke="#b5e4e8"/><circle class="k0" cx="89.2" cy="66.2" r="2.06"/><path d="M149.2 68.5L152.2 69.4" stroke="#37484b"/><circle class="k0" cx="119.0" cy="15.2" r="2.06"/><path d="M143.7 34.5L141.7 30.8" stroke="#99c2c5"/><circle class="k4" cx="105.6" cy="97.5" r="2.06"/><circle class="k0" cx="156.9" cy="23.7" r="2.06"/><circle class="k0" cx="79.2" cy="63.2" r="2.06"/><circle class="k5" cx="151.3" cy="101.7" r="2.06"/><circle class="k7" cx="135.4" cy="85.2" r="2.06"/><circle class="k5" cx="141.1" cy="64.7" r="2.06"/><circle class="k1" cx="91.1" cy="81.4" r="2.06"/><circle class="k3" cx="159.1" cy="33.0" r="2.06"/><path d="M149.1 59.3L144.9 61.0" stroke="#7d9fa2"/><circle class="k0" cx="140.1" cy="38.7" r="2.06"/><path d="M160.0 74.4L159.4 77.6" stroke="#2a373a"/><path d="M128.5 6.8L126.5 9.2" stroke="#b5e4e8"/><circle class="k5" cx="147.7" cy="59.7" r="2.06"/><circle class="k2" cx="104.2" cy="76.1" r="2.06"/><circle class="k0" cx="116.5" cy="39.3" r="2.06"/><circle class="k0" cx="148.1" cy="11.0" r="2.06"/><circle class="k0" cx="82.6" cy="94.9" r="2.06"/><circle class="k2" cx="94.6" cy="84.2" r="2.06"/><circle class="k2" cx="102.1" cy="97.2" r="2.06"/><circle class="k7" cx="134.0" cy="86.8" r="2.06"/><circle class="k3" cx="141.7" cy="56.3" r="2.06"/><circle class="k2" cx="167.4" cy="37.5" r="2.06"/><path d="M78.2 97.9L75.0 99.1" stroke="#99c2c5"/><circle class="k4" cx="125.7" cy="73.9" r="2.06"/><circle class="k7" cx="162.2" cy="75.5" r="2.06"/><circle class="k5" cx="149.5" cy="56.1" r="2.06"/><path d="M99.4 106.5L96.0 108.0" stroke="#b5e4e8"/><path d="M116.4 35.4L118.5 32.1" stroke="#b5e4e8"/><circle class="k2" cx="149.0" cy="36.2" r="2.06"/><circle class="k3" cx="166.7" cy="58.8" r="2.06"/><path d="M138.7 79.6L141.7 76.3" stroke="#617c7f"/><path d="M75.5 96.0L72.2 98.9" stroke="#99c2c5"/><path d="M107.4 88.3L109.3 85.8" stroke="#6f8e91"/><circle class="k0" cx="69.7" cy="104.2" r="2.06"/><circle class="k4" cx="145.7" cy="55.8" r="2.06"/><circle class="k1" cx="170.6" cy="97.9" r="2.06"/><circle class="k9" cx="157.1" cy="83.1" r="2.06"/><circle class="k0" cx="112.2" cy="24.2" r="2.06"/><circle class="k0" cx="85.5" cy="107.4" r="2.06"/><circle class="k0" cx="79.4" cy="56.7" r="2.06"/><circle class="k1" cx="86.7" cy="92.9" r="2.06"/><path d="M152.8 103.4L149.6 100.9" stroke="#617c7f"/><path d="M119.2 62.0L121.6 60.2" stroke="#8bb0b4"/><circle class="k0" cx="110.5" cy="65.5" r="2.06"/><path d="M113.6 83.1L111.4 79.3" stroke="#99c2c5"/><circle class="k8" cx="158.8" cy="71.4" r="2.06"/><circle class="k7" cx="153.7" cy="99.9" r="2.06"/><path d="M105.1 91.5L106.3 87.5" stroke="#7d9fa2"/><path d="M118.1 68.7L117.8 64.9" stroke="#8bb0b4"/><path d="M120.0 33.5L118.0 37.4" stroke="#b5e4e8"/><path d="M135.4 85.2L131.5 84.0" stroke="#536b6e"/><circle class="k0" cx="75.9" cy="100.6" r="2.07"/><circle class="k0" cx="127.2" cy="29.2" r="2.07"/><circle class="k0" cx="119.0" cy="88.6" r="2.07"/><path d="M144.3 59.6L141.7 56.3" stroke="#8bb0b4"/><path d="M159.3 99.2L163.1 101.9" stroke="#455a5c"/><circle class="k8" cx="159.3" cy="99.2" r="2.07"/><circle class="k8" cx="153.3" cy="80.6" r="2.07"/><circle class="k0" cx="86.1" cy="109.3" r="2.07"/><path d="M160.9 92.0L159.2 89.8" stroke="#2a373a"/><path d="M149.5 56.1L153.6 54.2" stroke="#6f8e91"/><circle class="k0" cx="126.4" cy="41.4" r="2.07"/><circle class="k2" cx="122.8" cy="63.9" r="2.07"/><circle class="k1" cx="170.4" cy="59.4" r="2.07"/><circle class="k5" cx="113.0" cy="94.7" r="2.07"/><circle class="k0" cx="104.8" cy="66.5" r="2.07"/><path d="M151.1 72.9L152.1 77.1" stroke="#617c7f"/><circle class="k1" cx="144.7" cy="24.3" r="2.07"/><circle class="k4" cx="144.9" cy="61.0" r="2.07"/><circle class="k7" cx="131.3" cy="97.2" r="2.07"/><path d="M97.7 21.2L99.9 17.5" stroke="#b5e4e8"/><circle class="k0" cx="127.9" cy="25.0" r="2.07"/><circle class="k8" cx="162.9" cy="93.5" r="2.07"/><path d="M148.9 15.0L148.6 19.1" stroke="#b5e4e8"/><path d="M161.1 99.1L159.7 98.3" stroke="#455a5c"/><circle class="k7" cx="152.0" cy="70.8" r="2.07"/><circle class="k3" cx="138.4" cy="62.5" r="2.07"/><circle class="k9" cx="153.5" cy="89.9" r="2.07"/><path d="M134.0 86.8L134.0 91.0" stroke="#536b6e"/><circle class="k0" cx="71.9" cy="75.7" r="2.07"/><path d="M153.4 62.8L153.9 63.3" stroke="#37484b"/><circle class="k0" cx="160.0" cy="8.8" r="2.07"/><path d="M75.6 97.3L75.7 93.5" stroke="#b5e4e8"/><circle class="k0" cx="73.9" cy="89.6" r="2.07"/><circle class="k0" cx="76.3" cy="49.0" r="2.07"/><circle class="k6" cx="138.7" cy="79.6" r="2.07"/><path d="M129.3 91.7L130.4 91.8" stroke="#37484b"/><path d="M105.4 91.8L103.6 93.2" stroke="#617c7f"/><path d="M132.7 43.8L134.5 42.0" stroke="#99c2c5"/><path d="M90.3 94.7L86.7 92.9" stroke="#a7d3d7"/><path d="M165.9 40.7L169.2 38.1" stroke="#a7d3d7"/><circle class="k6" cx="144.9" cy="76.2" r="2.07"/><circle class="k0" cx="121.5" cy="55.0" r="2.07"/><circle class="k2" cx="111.4" cy="79.3" r="2.07"/><circle class="k0" cx="148.9" cy="15.0" r="2.07"/><circle class="k0" cx="88.3" cy="35.0" r="2.07"/><circle class="k0" cx="85.0" cy="98.6" r="2.07"/><path d="M146.8 53.6L149.5 56.1" stroke="#6f8e91"/><path d="M156.8 76.5L157.0 79.8" stroke="#2a373a"/><path d="M156.8 60.1L160.7 61.4" stroke="#7d9fa2"/><path d="M99.9 47.4L101.8 45.9" stroke="#b5e4e8"/><path d="M172.8 105.9L171.3 102.0" stroke="#b5e4e8"/><path d="M136.4 22.1L139.7 22.4" stroke="#b5e4e8"/><circle class="k0" cx="151.3" cy="30.2" r="2.07"/><circle class="k1" cx="91.3" cy="84.6" r="2.07"/><path d="M163.3 79.3L162.2 75.5" stroke="#536b6e"/><circle class="k8" cx="142.0" cy="91.7" r="2.07"/><circle class="k0" cx="119.9" cy="9.8" r="2.07"/><path d="M112.0 68.3L110.8 69.3" stroke="#8bb0b4"/><circle class="k0" cx="150.8" cy="107.2" r="2.07"/><path d="M85.5 107.4L81.2 108.7" stroke="#b5e4e8"/><circle class="k1" cx="169.2" cy="38.1" r="2.07"/><circle class="k0" cx="69.4" cy="50.0" r="2.07"/><circle class="k2" cx="108.6" cy="92.7" r="2.07"/><path d="M140.1 38.7L143.9 36.9" stroke="#b5e4e8"/><path d="M69.7 104.2L65.9 102.5" stroke="#b5e4e8"/><circle class="k3" cx="156.9" cy="41.5" r="2.07"/><circle class="k9" cx="150.8" cy="96.6" r="2.07"/><path d="M114.9 88.1L114.7 88.1" stroke="#536b6e"/><circle class="k0" cx="112.3" cy="41.8" r="2.07"/><circle class="k2" cx="149.1" cy="59.3" r="2.07"/><circle class="k0" cx="120.0" cy="33.5" r="2.07"/><path d="M153.4 42.4L149.7 39.8" stroke="#99c2c5"/><circle class="k0" cx="67.3" cy="35.0" r="2.07"/><path d="M63.5 108.5L60.1 105.5" stroke="#b5e4e8"/><circle class="k0" cx="130.8" cy="104.4" r="2.07"/><path d="M94.5 68.5L96.4 69.1" stroke="#a7d3d7"/><path d="M75.9 100.6L75.6 97.3" stroke="#b5e4e8"/><circle class="k0" cx="87.0" cy="67.8" r="2.07"/><circle class="k0" cx="109.7" cy="53.6" r="2.07"/><circle class="k0" cx="118.0" cy="37.4" r="2.07"/><circle class="k0" cx="99.9" cy="17.5" r="2.07"/><circle class="k1" cx="88.6" cy="96.1" r="2.07"/><circle class="k0" cx="121.7" cy="27.9" r="2.07"/><circle class="k5" cx="156.0" cy="67.2" r="2.07"/><path d="M97.9 85.0L93.4 83.9" stroke="#a7d3d7"/><circle class="k4" cx="163.3" cy="86.2" r="2.07"/><circle class="k8" cx="153.2" cy="85.3" r="2.07"/><path d="M151.3 30.2L152.3 25.9" stroke="#b5e4e8"/><path d="M93.7 87.6L90.4 88.6" stroke="#99c2c5"/><circle class="k6" cx="151.1" cy="72.9" r="2.07"/><circle class="k5" cx="141.7" cy="76.3" r="2.07"/><path d="M136.2 73.7L137.0 73.2" stroke="#536b6e"/><circle class="k2" cx="149.7" cy="39.8" r="2.07"/><path d="M126.0 60.8L123.8 58.9" stroke="#8bb0b4"/><circle class="k0" cx="113.6" cy="83.1" r="2.07"/><path d="M150.8 96.6L155.3 97.1" stroke="#37484b"/><path d="M131.3 97.2L135.0 99.4" stroke="#536b6e"/><circle class="k6" cx="152.1" cy="77.1" r="2.07"/><path d="M111.4 79.3L111.8 75.7" stroke="#99c2c5"/><path d="M142.6 67.7L146.1 70.3" stroke="#7d9fa2"/><circle class="k0" cx="75.7" cy="74.5" r="2.07"/><path d="M106.0 95.6L105.1 91.5" stroke="#a7d3d7"/><circle class="k0" cx="165.5" cy="25.1" r="2.07"/><path d="M152.3 100.7L154.0 104.6" stroke="#6f8e91"/><circle class="k0" cx="152.5" cy="22.0" r="2.07"/><circle class="k2" cx="117.2" cy="78.1" r="2.07"/><circle class="k2" cx="135.1" cy="104.2" r="2.07"/><circle class="k1" cx="97.9" cy="85.0" r="2.07"/><circle class="k1" cx="110.0" cy="79.8" r="2.07"/><circle class="k3" cx="135.9" cy="70.1" r="2.07"/><path d="M144.7 24.3L146.2 27.2" stroke="#a7d3d7"/><circle class="k2" cx="117.7" cy="96.5" r="2.07"/><circle class="k4" cx="131.3" cy="83.3" r="2.07"/><circle class="k0" cx="97.7" cy="21.2" r="2.07"/><circle class="k1" cx="137.7" cy="56.1" r="2.07"/><path d="M152.3 25.9L152.5 22.0" stroke="#b5e4e8"/><path d="M119.6 2.7L118.2 0.7" stroke="#b5e4e8"/><path d="M113.2 56.6L112.5 59.0" stroke="#a7d3d7"/><circle class="k3" cx="166.7" cy="63.5" r="2.07"/><circle class="k0" cx="120.1" cy="20.7" r="2.07"/><path d="M146.1 70.3L145.0 74.4" stroke="#7d9fa2"/><circle class="k0" cx="104.8" cy="31.5" r="2.07"/><circle class="k4" cx="146.1" cy="70.3" r="2.07"/><circle class="k0" cx="147.6" cy="19.5" r="2.07"/><path d="M126.4 41.4L125.6 37.8" stroke="#b5e4e8"/><circle class="k0" cx="104.3" cy="60.5" r="2.07"/><circle class="k1" cx="148.2" cy="39.6" r="2.07"/><circle class="k2" cx="124.9" cy="73.8" r="2.08"/><circle class="k0" cx="76.5" cy="62.1" r="2.08"/><path d="M89.2 66.2L89.5 68.4" stroke="#b5e4e8"/><path d="M138.3 73.6L135.9 70.1" stroke="#8bb0b4"/><circle class="k0" cx="78.0" cy="51.2" r="2.08"/><path d="M167.4 37.5L165.5 36.4" stroke="#99c2c5"/><circle class="k0" cx="99.4" cy="76.6" r="2.08"/><circle class="k0" cx="60.1" cy="105.5" r="2.08"/><circle class="k1" cx="106.0" cy="95.6" r="2.08"/><circle class="k2" cx="154.0" cy="104.6" r="2.08"/><circle class="k1" cx="103.7" cy="90.5" r="2.08"/><circle class="k2" cx="111.9" cy="101.3" r="2.08"/><path d="M124.7 63.8L127.1 60.2" stroke="#b5e4e8"/><circle class="k3" cx="138.8" cy="71.5" r="2.08"/><circle class="k0" cx="152.6" cy="34.5" r="2.08"/><path d="M118.5 32.1L114.2 30.6" stroke="#b5e4e8"/><path d="M150.8 107.2L149.7 104.5" stroke="#a7d3d7"/><path d="M67.3 35.0L69.9 32.6" stroke="#b5e4e8"/><path d="M155.3 76.2L157.9 72.7" stroke="#617c7f"/><circle class="k0" cx="148.6" cy="19.1" r="2.08"/><circle class="k0" cx="141.7" cy="30.8" r="2.08"/><circle class="k6" cx="155.3" cy="76.2" r="2.08"/><circle class="k0" cx="95.9" cy="29.5" r="2.08"/><path d="M141.1 64.7L143.6 65.1" stroke="#6f8e91"/><circle class="k1" cx="103.8" cy="86.4" r="2.08"/><circle class="k0" cx="63.5" cy="108.5" r="2.08"/><circle class="k5" cx="163.1" cy="101.9" r="2.08"/><path d="M140.2 82.8L138.7 79.6" stroke="#617c7f"/><circle class="k6" cx="156.9" cy="73.0" r="2.08"/><circle class="k1" cx="134.4" cy="56.8" r="2.08"/><circle class="k0" cx="111.7" cy="10.7" r="2.08"/><circle class="k0" cx="165.9" cy="40.7" r="2.08"/><path d="M127.3 83.2L131.3 83.3" stroke="#7d9fa2"/><circle class="k0" cx="124.7" cy="63.8" r="2.08"/><circle class="k2" cx="156.9" cy="54.6" r="2.08"/><path d="M110.0 79.8L106.9 77.3" stroke="#a7d3d7"/><path d="M137.7 56.1L135.5 59.2" stroke="#a7d3d7"/><path d="M148.0 95.5L150.8 96.6" stroke="#37484b"/><circle class="k5" cx="144.0" cy="88.5" r="2.08"/><path d="M73.9 89.6L70.0 90.0" stroke="#b5e4e8"/><circle class="k0" cx="126.6" cy="34.3" r="2.08"/><circle class="k0" cx="95.0" cy="86.6" r="2.08"/><path d="M119.4 79.9L119.6 75.6" stroke="#a7d3d7"/><circle class="k3" cx="166.8" cy="79.7" r="2.08"/><circle class="k0" cx="106.3" cy="73.2" r="2.08"/><path d="M160.8 70.0L158.8 71.4" stroke="#455a5c"/><circle class="k2" cx="144.3" cy="59.6" r="2.08"/><path d="M135.9 70.1L132.2 69.6" stroke="#8bb0b4"/><circle class="k0" cx="129.7" cy="20.6" r="2.08"/><path d="M142.0 91.7L142.5 95.3" stroke="#455a5c"/><circle class="k3" cx="131.5" cy="84.0" r="2.08"/><circle class="k6" cx="144.5" cy="92.2" r="2.08"/><circle class="k8" cx="158.1" cy="91.8" r="2.08"/><path d="M166.7 58.8L167.7 57.5" stroke="#8bb0b4"/><path d="M124.9 73.8L121.2 75.7" stroke="#99c2c5"/><circle class="k2" cx="147.9" cy="55.4" r="2.08"/><circle class="k1" cx="112.6" cy="104.5" r="2.08"/><circle class="k7" cx="151.0" cy="93.0" r="2.08"/><path d="M156.6 87.5L153.2 85.3" stroke="#455a5c"/><circle class="k0" cx="153.6" cy="54.2" r="2.08"/><path d="M158.4 34.2L157.8 38.5" stroke="#b5e4e8"/><circle class="k0" cx="124.5" cy="34.0" r="2.08"/><path d="M170.4 59.4L171.0 61.4" stroke="#a7d3d7"/><circle class="k0" cx="92.4" cy="52.9" r="2.08"/><circle class="k1" cx="153.4" cy="42.4" r="2.08"/><circle class="k0" cx="126.5" cy="9.2" r="2.08"/><circle class="k2" cx="113.7" cy="92.5" r="2.08"/><circle class="k0" cx="126.2" cy="68.1" r="2.08"/><circle class="k0" cx="155.2" cy="11.2" r="2.08"/><path d="M156.0 67.2L154.5 64.7" stroke="#6f8e91"/><path d="M106.9 77.3L106.3 73.2" stroke="#b5e4e8"/><circle class="k1" cx="148.5" cy="51.8" r="2.08"/><path d="M158.1 91.8L154.4 90.3" stroke="#455a5c"/><circle class="k0" cx="91.7" cy="112.4" r="2.08"/><circle class="k0" cx="93.4" cy="83.9" r="2.08"/><path d="M154.4 90.3L151.0 93.0" stroke="#536b6e"/><circle class="k0" cx="117.8" cy="64.9" r="2.08"/><circle class="k1" cx="105.1" cy="91.5" r="2.08"/><circle class="k5" cx="152.3" cy="100.7" r="2.08"/><path d="M125.6 37.8L124.5 34.0" stroke="#b5e4e8"/><circle class="k0" cx="118.5" cy="32.1" r="2.08"/><path d="M146.1 50.6L142.3 48.1" stroke="#b5e4e8"/><circle class="k0" cx="83.2" cy="108.3" r="2.08"/><path d="M72.2 98.9L67.7 97.5" stroke="#b5e4e8"/><path d="M148.4 72.8L151.1 72.9" stroke="#617c7f"/><path d="M144.6 84.9L144.0 88.5" stroke="#6f8e91"/><path d="M149.4 98.0L152.3 100.7" stroke="#6f8e91"/><circle class="k0" cx="72.2" cy="98.9" r="2.08"/><circle class="k0" cx="90.3" cy="94.7" r="2.08"/><circle class="k2" cx="134.0" cy="91.0" r="2.08"/><circle class="k1" cx="157.1" cy="44.5" r="2.08"/><circle class="k0" cx="114.2" cy="30.6" r="2.08"/><circle class="k2" cx="142.6" cy="67.7" r="2.08"/><circle class="k1" cx="119.6" cy="75.6" r="2.08"/><path d="M159.7 98.3L155.5 100.3" stroke="#6f8e91"/><circle class="k4" cx="140.8" cy="90.6" r="2.08"/><circle class="k1" cx="109.3" cy="85.8" r="2.08"/><path d="M146.3 75.7L144.9 76.2" stroke="#617c7f"/><circle class="k0" cx="158.4" cy="34.2" r="2.08"/><circle class="k5" cx="159.4" cy="77.6" r="2.08"/><path d="M119.9 9.8L121.3 9.9" stroke="#b5e4e8"/><circle class="k0" cx="163.6" cy="106.2" r="2.08"/><path d="M142.3 48.1L145.3 44.8" stroke="#b5e4e8"/><path d="M134.4 56.8L132.1 59.5" stroke="#a7d3d7"/><path d="M135.3 102.1L135.1 104.2" stroke="#99c2c5"/><path d="M147.9 55.4L145.0 57.8" stroke="#99c2c5"/><circle class="k0" cx="119.1" cy="70.5" r="2.09"/><path d="M157.8 38.5L156.0 42.3" stroke="#b5e4e8"/><circle class="k0" cx="74.6" cy="108.6" r="2.09"/><circle class="k0" cx="122.7" cy="59.7" r="2.09"/><circle class="k0" cx="142.3" cy="48.1" r="2.09"/><circle class="k0" cx="152.3" cy="25.9" r="2.09"/><circle class="k0" cx="152.4" cy="76.9" r="2.09"/><circle class="k0" cx="146.8" cy="53.6" r="2.09"/><circle class="k7" cx="159.2" cy="89.8" r="2.09"/><circle class="k3" cx="152.8" cy="103.4" r="2.09"/><path d="M136.0 80.7L140.2 79.0" stroke="#99c2c5"/><circle class="k0" cx="96.0" cy="108.0" r="2.09"/><circle class="k2" cx="145.0" cy="74.4" r="2.09"/><circle class="k0" cx="119.4" cy="79.9" r="2.09"/><path d="M166.8 79.7L169.6 76.9" stroke="#8bb0b4"/><path d="M138.8 71.5L141.5 69.4" stroke="#8bb0b4"/><circle class="k0" cx="127.1" cy="60.2" r="2.09"/><circle class="k0" cx="81.2" cy="108.7" r="2.09"/><circle class="k0" cx="76.3" cy="114.1" r="2.09"/><circle class="k0" cx="152.2" cy="69.4" r="2.09"/><circle class="k2" cx="136.0" cy="80.7" r="2.09"/><circle class="k6" cx="155.3" cy="97.1" r="2.09"/><path d="M92.4 52.9L93.6 56.2" stroke="#b5e4e8"/><circle class="k2" cx="163.3" cy="79.3" r="2.09"/><circle class="k0" cx="65.9" cy="102.5" r="2.09"/><circle class="k0" cx="70.2" cy="66.9" r="2.09"/><path d="M156.9 54.6L158.4 51.3" stroke="#99c2c5"/><circle class="k0" cx="121.6" cy="60.2" r="2.09"/><circle class="k4" cx="155.5" cy="100.3" r="2.09"/><path d="M157.9 72.7L162.1 70.7" stroke="#99c2c5"/><path d="M141.7 30.8L144.6 28.5" stroke="#b5e4e8"/><path d="M144.0 88.5L141.6 91.0" stroke="#6f8e91"/><circle class="k0" cx="75.6" cy="97.3" r="2.09"/><path d="M96.4 69.1L98.7 72.8" stroke="#b5e4e8"/><circle class="k0" cx="157.8" cy="38.5" r="2.09"/><circle class="k2" cx="157.9" cy="72.7" r="2.09"/><path d="M122.7 59.7L125.7 56.8" stroke="#b5e4e8"/><circle class="k0" cx="143.9" cy="36.9" r="2.09"/><circle class="k3" cx="142.6" cy="99.7" r="2.09"/><circle class="k0" cx="75.0" cy="99.1" r="2.09"/><circle class="k2" cx="160.7" cy="61.4" r="2.09"/><circle class="k0" cx="111.8" cy="75.7" r="2.09"/><path d="M103.8 86.4L103.2 89.5" stroke="#a7d3d7"/><path d="M139.7 22.4L144.4 23.0" stroke="#b5e4e8"/><circle class="k0" cx="147.5" cy="63.2" r="2.09"/><path d="M134.0 91.0L138.0 90.5" stroke="#99c2c5"/><circle class="k1" cx="138.3" cy="73.6" r="2.09"/><circle class="k5" cx="152.7" cy="88.9" r="2.09"/><circle class="k0" cx="89.1" cy="87.1" r="2.09"/><circle class="k0" cx="172.8" cy="105.9" r="2.09"/><circle class="k3" cx="151.5" cy="82.7" r="2.09"/><circle class="k2" cx="135.0" cy="99.4" r="2.09"/><path d="M140.8 90.6L138.6 93.9" stroke="#7d9fa2"/><path d="M160.7 61.4L162.3 65.3" stroke="#99c2c5"/><path d="M143.6 65.1L147.5 63.2" stroke="#b5e4e8"/><circle class="k0" cx="146.1" cy="50.6" r="2.09"/><path d="M148.2 39.6L150.0 40.0" stroke="#a7d3d7"/><path d="M142.8 90.6L144.5 92.2" stroke="#617c7f"/><circle class="k0" cx="139.7" cy="22.4" r="2.09"/><path d="M146.6 77.7L146.3 73.3" stroke="#a7d3d7"/><path d="M126.6 34.3L128.3 31.8" stroke="#b5e4e8"/><circle class="k5" cx="159.7" cy="98.3" r="2.09"/><circle class="k4" cx="157.0" cy="79.8" r="2.09"/><path d="M81.2 108.7L77.9 106.6" stroke="#b5e4e8"/><path d="M111.9 101.3L111.8 100.8" stroke="#99c2c5"/><circle class="k0" cx="98.7" cy="72.8" r="2.09"/><circle class="k0" cx="146.2" cy="27.2" r="2.09"/><path d="M160.8 98.6L165.4 98.4" stroke="#7d9fa2"/><path d="M112.6 104.5L110.8 103.3" stroke="#a7d3d7"/><path d="M126.2 88.7L129.3 91.7" stroke="#a7d3d7"/><circle class="k0" cx="156.0" cy="42.3" r="2.09"/><path d="M119.1 70.5L120.3 73.9" stroke="#b5e4e8"/><circle class="k0" cx="101.8" cy="45.9" r="2.09"/><path d="M74.6 108.6L76.7 111.5" stroke="#b5e4e8"/><circle class="k0" cx="67.7" cy="97.5" r="2.09"/><circle class="k0" cx="134.5" cy="42.0" r="2.09"/><path d="M152.7 88.9L156.3 91.7" stroke="#6f8e91"/><path d="M156.3 99.9L160.8 98.6" stroke="#7d9fa2"/><path d="M90.4 88.6L85.6 88.4" stroke="#b5e4e8"/><circle class="k0" cx="127.3" cy="83.2" r="2.09"/><path d="M159.2 89.8L156.2 91.3" stroke="#536b6e"/><path d="M95.0 86.6L94.7 85.6" stroke="#b5e4e8"/><path d="M76.7 111.5L76.3 114.1" stroke="#b5e4e8"/><circle class="k0" cx="69.9" cy="32.6" r="2.10"/><circle class="k0" cx="103.6" cy="93.2" r="2.10"/><circle class="k4" cx="154.4" cy="90.3" r="2.10"/><circle class="k1" cx="153.4" cy="62.8" r="2.10"/><circle class="k1" cx="129.3" cy="91.7" r="2.10"/><circle class="k1" cx="151.5" cy="64.4" r="2.10"/><circle class="k0" cx="135.5" cy="59.2" r="2.10"/><path d="M161.7 60.0L165.3 62.7" stroke="#a7d3d7"/><circle class="k3" cx="149.4" cy="98.0" r="2.10"/><circle class="k0" cx="106.9" cy="77.3" r="2.10"/><path d="M144.9 81.8L146.6 77.7" stroke="#a7d3d7"/><circle class="k0" cx="125.6" cy="37.8" r="2.10"/><circle class="k0" cx="90.4" cy="88.6" r="2.10"/><circle class="k1" cx="146.3" cy="73.3" r="2.10"/><circle class="k0" cx="123.8" cy="58.9" r="2.10"/><circle class="k0" cx="132.5" cy="57.1" r="2.10"/><circle class="k0" cx="145.3" cy="44.8" r="2.10"/><circle class="k1" cx="149.7" cy="104.5" r="2.10"/><path d="M91.7 112.4L93.1 112.9" stroke="#b5e4e8"/><circle class="k0" cx="96.4" cy="69.1" r="2.10"/><circle class="k0" cx="121.2" cy="75.7" r="2.10"/><path d="M113.7 92.5L113.0 91.7" stroke="#99c2c5"/><path d="M157.1 44.5L157.7 41.9" stroke="#a7d3d7"/><circle class="k1" cx="165.4" cy="98.4" r="2.10"/><circle class="k0" cx="140.2" cy="79.0" r="2.10"/><path d="M119.6 75.6L122.1 76.2" stroke="#a7d3d7"/><circle class="k0" cx="110.8" cy="69.3" r="2.10"/><circle class="k0" cx="132.2" cy="69.6" r="2.10"/><path d="M110.8 69.3L106.3 70.5" stroke="#b5e4e8"/><path d="M151.5 82.7L155.7 83.7" stroke="#8bb0b4"/><path d="M65.9 102.5L62.1 104.7" stroke="#b5e4e8"/><circle class="k0" cx="112.5" cy="59.0" r="2.10"/><circle class="k1" cx="144.6" cy="84.9" r="2.10"/><circle class="k0" cx="114.9" cy="88.1" r="2.10"/><circle class="k2" cx="148.0" cy="95.5" r="2.10"/><circle class="k1" cx="162.1" cy="70.7" r="2.10"/><circle class="k1" cx="146.6" cy="77.7" r="2.10"/><path d="M109.3 85.8L110.4 87.6" stroke="#a7d3d7"/><circle class="k1" cx="140.2" cy="82.8" r="2.10"/><circle class="k2" cx="150.5" cy="93.9" r="2.10"/><path d="M70.0 90.0L68.8 85.8" stroke="#b5e4e8"/><circle class="k3" cx="156.3" cy="99.9" r="2.10"/><circle class="k1" cx="139.5" cy="85.5" r="2.10"/><circle class="k0" cx="144.4" cy="23.0" r="2.10"/><circle class="k0" cx="165.5" cy="36.4" r="2.10"/><circle class="k4" cx="160.8" cy="98.6" r="2.10"/><circle class="k1" cx="165.3" cy="62.7" r="2.10"/><circle class="k0" cx="137.0" cy="73.2" r="2.10"/><circle class="k3" cx="156.6" cy="87.5" r="2.10"/><path d="M159.4 77.6L159.4 78.2" stroke="#6f8e91"/><circle class="k0" cx="89.5" cy="68.4" r="2.10"/><circle class="k0" cx="118.2" cy="0.7" r="2.10"/><circle class="k1" cx="142.5" cy="95.3" r="2.10"/><circle class="k0" cx="161.7" cy="60.0" r="2.10"/><circle class="k0" cx="145.0" cy="57.8" r="2.10"/><circle class="k0" cx="70.0" cy="90.0" r="2.10"/><path d="M169.6 76.9L174.3 77.9" stroke="#b5e4e8"/><circle class="k1" cx="135.5" cy="95.2" r="2.10"/><circle class="k0" cx="154.5" cy="64.7" r="2.10"/><path d="M142.6 99.7L144.6 102.2" stroke="#8bb0b4"/><circle class="k0" cx="144.9" cy="81.8" r="2.10"/><circle class="k0" cx="126.2" cy="88.7" r="2.10"/><circle class="k0" cx="125.7" cy="56.8" r="2.10"/><circle class="k0" cx="143.6" cy="65.1" r="2.10"/><circle class="k1" cx="167.3" cy="77.0" r="2.11"/><path d="M150.5 93.9L149.9 90.4" stroke="#99c2c5"/><circle class="k1" cx="162.3" cy="65.3" r="2.11"/><circle class="k0" cx="132.1" cy="59.5" r="2.11"/><path d="M146.2 27.2L143.6 26.5" stroke="#b5e4e8"/><circle class="k0" cx="85.6" cy="88.4" r="2.11"/><path d="M135.5 59.2L136.5 62.5" stroke="#b5e4e8"/><circle class="k0" cx="134.3" cy="77.2" r="2.11"/><circle class="k0" cx="169.6" cy="76.9" r="2.11"/><path d="M149.7 104.5L148.1 102.5" stroke="#a7d3d7"/><circle class="k0" cx="148.4" cy="72.8" r="2.11"/><circle class="k0" cx="120.4" cy="107.3" r="2.11"/><circle class="k0" cx="93.6" cy="56.2" r="2.11"/><circle class="k0" cx="160.8" cy="70.0" r="2.11"/><circle class="k0" cx="123.5" cy="75.2" r="2.11"/><path d="M167.7 57.5L166.0 61.4" stroke="#b5e4e8"/><circle class="k0" cx="171.0" cy="61.4" r="2.11"/><path d="M132.1 59.5L136.2 61.1" stroke="#b5e4e8"/><path d="M120.4 107.3L118.3 104.0" stroke="#b5e4e8"/><path d="M134.3 77.2L130.0 77.6" stroke="#b5e4e8"/><circle class="k0" cx="133.5" cy="83.2" r="2.11"/><path d="M165.5 36.4L169.4 38.0" stroke="#b5e4e8"/><circle class="k0" cx="167.7" cy="57.5" r="2.11"/><path d="M171.9 76.3L167.3 77.0" stroke="#a7d3d7"/><circle class="k0" cx="141.5" cy="69.4" r="2.11"/><circle class="k0" cx="138.0" cy="90.5" r="2.11"/><circle class="k0" cx="158.4" cy="51.3" r="2.11"/><circle class="k0" cx="135.3" cy="102.1" r="2.11"/><circle class="k0" cx="68.8" cy="85.8" r="2.11"/><circle class="k1" cx="138.6" cy="93.9" r="2.11"/><path d="M121.2 75.7L120.4 73.5" stroke="#b5e4e8"/><path d="M165.3 62.7L163.9 65.6" stroke="#a7d3d7"/><circle class="k0" cx="77.9" cy="106.6" r="2.11"/><circle class="k1" cx="141.6" cy="91.0" r="2.11"/><circle class="k0" cx="106.3" cy="70.5" r="2.11"/><circle class="k2" cx="156.3" cy="91.7" r="2.11"/><path d="M101.8 45.9L100.3 46.2" stroke="#b5e4e8"/><circle class="k0" cx="174.3" cy="77.9" r="2.11"/><path d="M137.5 83.8L139.5 85.5" stroke="#a7d3d7"/><circle class="k0" cx="144.6" cy="28.5" r="2.11"/><path d="M123.5 75.2L120.7 72.5" stroke="#b5e4e8"/><circle class="k0" cx="128.8" cy="99.6" r="2.11"/><circle class="k0" cx="121.3" cy="9.9" r="2.11"/><path d="M173.4 72.3L171.9 76.3" stroke="#b5e4e8"/><circle class="k0" cx="173.4" cy="72.3" r="2.11"/><circle class="k0" cx="146.3" cy="75.7" r="2.11"/><path d="M161.4 83.5L158.4 80.4" stroke="#a7d3d7"/><circle class="k0" cx="103.2" cy="89.5" r="2.12"/><circle class="k0" cx="120.3" cy="73.9" r="2.12"/><circle class="k0" cx="142.8" cy="90.6" r="2.12"/><path d="M125.7 56.8L129.0 57.3" stroke="#b5e4e8"/><circle class="k0" cx="76.7" cy="111.5" r="2.12"/><path d="M133.5 83.2L137.5 83.8" stroke="#b5e4e8"/><path d="M112.5 59.0L113.5 58.9" stroke="#b5e4e8"/><circle class="k1" cx="156.2" cy="91.3" r="2.12"/><circle class="k0" cx="134.5" cy="87.0" r="2.12"/><path d="M130.2 95.3L126.2 97.5" stroke="#b5e4e8"/><circle class="k1" cx="161.4" cy="83.5" r="2.12"/><path d="M154.5 64.7L152.2 64.5" stroke="#b5e4e8"/><circle class="k0" cx="130.2" cy="95.3" r="2.12"/><circle class="k0" cx="161.4" cy="94.9" r="2.12"/><path d="M118.3 104.0L113.6 104.6" stroke="#b5e4e8"/><circle class="k0" cx="128.3" cy="31.8" r="2.12"/><path d="M111.8 100.8L112.5 96.6" stroke="#b5e4e8"/><circle class="k0" cx="166.0" cy="61.4" r="2.12"/><circle class="k1" cx="155.7" cy="83.7" r="2.12"/><path d="M150.0 40.0L147.5 36.2" stroke="#b5e4e8"/><path d="M93.1 112.9L91.3 108.8" stroke="#b5e4e8"/><path d="M135.5 95.2L133.9 96.4" stroke="#a7d3d7"/><path d="M128.8 99.6L127.1 103.5" stroke="#b5e4e8"/><circle class="k0" cx="110.8" cy="103.3" r="2.12"/><path d="M110.8 103.3L106.3 102.5" stroke="#b5e4e8"/><circle class="k0" cx="150.0" cy="40.0" r="2.12"/><path d="M161.4 94.9L162.3 91.3" stroke="#b5e4e8"/><circle class="k0" cx="111.8" cy="100.8" r="2.12"/><path d="M156.3 91.7L155.7 95.2" stroke="#99c2c5"/><circle class="k0" cx="169.6" cy="97.7" r="2.12"/><circle class="k0" cx="62.1" cy="104.7" r="2.12"/><circle class="k0" cx="149.9" cy="90.4" r="2.12"/><circle class="k0" cx="118.3" cy="104.0" r="2.12"/><circle class="k0" cx="133.6" cy="62.3" r="2.12"/><circle class="k0" cx="136.2" cy="61.1" r="2.12"/><circle class="k0" cx="130.0" cy="77.6" r="2.12"/><circle class="k0" cx="94.7" cy="85.6" r="2.12"/><path d="M158.4 80.4L154.1 81.6" stroke="#b5e4e8"/><circle class="k0" cx="157.7" cy="41.9" r="2.12"/><path d="M172.7 103.6L168.7 105.8" stroke="#b5e4e8"/><circle class="k0" cx="122.1" cy="76.2" r="2.13"/><path d="M138.6 93.9L139.8 96.8" stroke="#a7d3d7"/><circle class="k0" cx="93.1" cy="112.9" r="2.13"/><circle class="k0" cx="158.4" cy="80.4" r="2.13"/><circle class="k0" cx="91.3" cy="108.8" r="2.13"/><path d="M141.5 69.4L143.0 68.3" stroke="#b5e4e8"/><path d="M157.7 41.9L160.9 38.5" stroke="#b5e4e8"/><circle class="k0" cx="171.9" cy="76.3" r="2.13"/><circle class="k0" cx="113.6" cy="104.6" r="2.13"/><circle class="k0" cx="113.0" cy="91.7" r="2.13"/><circle class="k0" cx="112.5" cy="96.6" r="2.13"/><circle class="k0" cx="136.5" cy="62.5" r="2.13"/><circle class="k0" cx="169.4" cy="38.0" r="2.13"/><circle class="k0" cx="110.4" cy="87.6" r="2.13"/><circle class="k0" cx="126.2" cy="97.5" r="2.13"/><circle class="k0" cx="148.1" cy="102.5" r="2.13"/><circle class="k0" cx="147.5" cy="36.2" r="2.13"/><circle class="k0" cx="172.7" cy="103.6" r="2.13"/><path d="M134.5 87.0L137.2 86.1" stroke="#b5e4e8"/><circle class="k0" cx="120.7" cy="72.5" r="2.13"/><circle class="k0" cx="143.6" cy="26.5" r="2.13"/><path d="M120.3 73.9L122.5 75.1" stroke="#b5e4e8"/><circle class="k0" cx="144.6" cy="102.2" r="2.13"/><circle class="k0" cx="159.4" cy="78.2" r="2.13"/><circle class="k0" cx="155.7" cy="103.0" r="2.13"/><circle class="k0" cx="163.9" cy="65.6" r="2.13"/><circle class="k0" cx="168.7" cy="105.8" r="2.13"/><path d="M127.1 103.5L126.1 107.9" stroke="#b5e4e8"/><path d="M173.1 100.0L172.7 103.6" stroke="#b5e4e8"/><path d="M162.3 91.3L158.2 89.1" stroke="#b5e4e8"/><path d="M155.7 83.7L158.5 85.0" stroke="#a7d3d7"/><circle class="k0" cx="106.3" cy="102.5" r="2.13"/><path d="M171.8 100.9L169.6 97.7" stroke="#b5e4e8"/><path d="M144.6 102.2L147.1 106.0" stroke="#b5e4e8"/><path d="M94.7 85.6L97.5 85.0" stroke="#b5e4e8"/><circle class="k0" cx="154.1" cy="81.6" r="2.14"/><circle class="k0" cx="120.4" cy="73.5" r="2.14"/><circle class="k0" cx="137.5" cy="83.8" r="2.14"/><path d="M149.9 90.4L149.8 89.2" stroke="#b5e4e8"/><path d="M130.0 77.6L130.0 80.3" stroke="#b5e4e8"/><path d="M113.0 91.7L116.0 92.9" stroke="#b5e4e8"/><circle class="k0" cx="127.1" cy="103.5" r="2.14"/><circle class="k0" cx="162.3" cy="91.3" r="2.14"/><circle class="k0" cx="126.1" cy="107.9" r="2.14"/><circle class="k0" cx="160.9" cy="38.5" r="2.14"/><circle class="k0" cx="129.0" cy="57.3" r="2.14"/><circle class="k0" cx="158.2" cy="89.1" r="2.14"/><circle class="k0" cx="100.3" cy="46.2" r="2.14"/><circle class="k0" cx="152.2" cy="64.5" r="2.14"/><circle class="k0" cx="155.7" cy="95.2" r="2.15"/><path d="M126.2 97.5L125.2 97.2" stroke="#b5e4e8"/><circle class="k0" cx="113.5" cy="58.9" r="2.15"/><circle class="k0" cx="133.9" cy="96.4" r="2.15"/><path d="M155.7 103.0L157.0 102.1" stroke="#b5e4e8"/><path d="M173.5 104.6L171.8 100.9" stroke="#b5e4e8"/><circle class="k0" cx="173.1" cy="100.0" r="2.15"/><circle class="k0" cx="173.5" cy="104.6" r="2.15"/><circle class="k0" cx="147.1" cy="106.0" r="2.15"/><circle class="k0" cx="139.8" cy="96.8" r="2.15"/><circle class="k0" cx="143.0" cy="68.3" r="2.16"/><circle class="k0" cx="137.2" cy="86.1" r="2.16"/><circle class="k0" cx="122.5" cy="75.1" r="2.16"/><circle class="k0" cx="97.5" cy="85.0" r="2.16"/><path d="M133.9 96.4L136.0 99.5" stroke="#b5e4e8"/><circle class="k0" cx="171.8" cy="100.9" r="2.16"/><circle class="k0" cx="158.5" cy="85.0" r="2.16"/><circle class="k0" cx="116.0" cy="92.9" r="2.16"/><circle class="k0" cx="130.0" cy="80.3" r="2.17"/><circle class="k0" cx="149.8" cy="89.2" r="2.17"/><path d="M157.0 102.1L161.7 101.4" stroke="#b5e4e8"/><circle class="k0" cx="125.2" cy="97.2" r="2.18"/><circle class="k0" cx="161.7" cy="101.4" r="2.18"/><circle class="k0" cx="157.0" cy="102.1" r="2.18"/><circle class="k0" cx="136.0" cy="99.5" r="2.19"/></g>
<text x="117.90" y="122.60" font-family="'Liberation Sans', sans-serif" font-size="7.8" text-anchor="middle" fill="#1a1a1a" class="mid">CG MARTINI Dodecane</text>
<polyline points="184.10,56.80 210.40,56.80 210.40,80.60 184.10,80.60 184.10,56.80" fill="none" stroke="#3a79a8" stroke-width="0.9" stroke-linejoin="round" stroke-dasharray="1.7 1.0"/>
<polyline points="184.10,56.80 196.00,45.00 222.30,45.00 222.30,68.80 210.40,80.60" fill="none" stroke="#3a79a8" stroke-width="0.9" stroke-linejoin="round" stroke-dasharray="1.7 1.0"/>
<polyline points="181.00,53.00 213.90,53.00 213.90,83.20 181.00,83.20 181.00,53.00" fill="none" stroke="#3a79a8" stroke-width="1.15" stroke-linejoin="round" />
<polyline points="181.00,53.00 191.20,42.30 224.10,42.30 224.10,72.50 213.90,83.20" fill="none" stroke="#3a79a8" stroke-width="1.15" stroke-linejoin="round" />
<polyline points="213.90,53.00 224.10,42.30" fill="none" stroke="#3a79a8" stroke-width="1.15" stroke-linejoin="round" />
<line x1="203.30" y1="35.20" x2="203.30" y2="44.40" stroke="#3aaa3a" stroke-width="1.0" />
<polygon points="203.30,47.00 201.80,44.40 204.80,44.40" fill="#3aaa3a"/>
<line x1="231.80" y1="62.70" x2="222.20" y2="62.70" stroke="#3aaa3a" stroke-width="1.0" />
<polygon points="219.60,62.70 222.20,61.20 222.20,64.20" fill="#3aaa3a"/>
<line x1="186.80" y1="79.00" x2="194.30" y2="71.98" stroke="#3aaa3a" stroke-width="1.0" />
<polygon points="196.20,70.20 195.33,73.07 193.28,70.88" fill="#3aaa3a"/>
<text x="205.60" y="40.60" font-family="'Liberation Sans', sans-serif" font-size="5.6" text-anchor="start" fill="#222" font-style="italic" class="thin">T</text>
<text x="227.20" y="61.20" font-family="'Liberation Sans', sans-serif" font-size="5.6" text-anchor="start" fill="#222" font-style="italic" class="thin">T</text>
<text x="187.60" y="74.00" font-family="'Liberation Sans', sans-serif" font-size="5.6" text-anchor="start" fill="#222" font-style="italic" class="thin">T</text>
<text x="181.60" y="41.80" font-family="'Liberation Sans', sans-serif" font-size="6.6" text-anchor="start" fill="#444" font-style="italic" class="thin">B̂</text>
<text x="216.00" y="40.60" font-family="'Liberation Sans', sans-serif" font-size="4.3" text-anchor="start" fill="#333" class="thin">Init.</text>
<text x="198.30" y="62.00" font-family="'Liberation Sans', sans-serif" font-size="4.6" text-anchor="start" fill="#333" class="thin">Final</text>
<rect x="260.70" y="57.10" width="121.60" height="26.70" fill="#f6d1d2" stroke="none" stroke-width="0.8" />
<line x1="260.70" y1="70.40" x2="382.30" y2="70.40" stroke="#d62728" stroke-width="0.8" stroke-dasharray="3.2 1.2 0.8 1.2"/>
<rect x="260.70" y="7.60" width="121.60" height="6.90" fill="#d9d9d9" stroke="none" stroke-width="0.8" />
<line x1="260.70" y1="7.60" x2="382.30" y2="7.60" stroke="#c6c6c6" stroke-width="0.5" />
<line x1="260.70" y1="14.50" x2="382.30" y2="14.50" stroke="#c6c6c6" stroke-width="0.5" />
<line x1="260.70" y1="11.00" x2="382.30" y2="11.00" stroke="#333" stroke-width="0.8" stroke-dasharray="2 1.4"/>
<line x1="260.70" y1="1.20" x2="382.30" y2="1.20" stroke="#2a2a2a" stroke-width="0.75" />
<line x1="260.70" y1="1.20" x2="260.70" y2="21.00" stroke="#2a2a2a" stroke-width="0.75" />
<line x1="382.30" y1="1.20" x2="382.30" y2="21.00" stroke="#2a2a2a" stroke-width="0.75" />
<line x1="260.70" y1="24.00" x2="260.70" y2="110.30" stroke="#2a2a2a" stroke-width="0.75" />
<line x1="382.30" y1="24.00" x2="382.30" y2="110.30" stroke="#2a2a2a" stroke-width="0.75" />
<line x1="260.70" y1="110.30" x2="382.30" y2="110.30" stroke="#2a2a2a" stroke-width="0.75" />
<line x1="257.20" y1="24.40" x2="264.20" y2="20.40" stroke="#2a2a2a" stroke-width="0.6" />
<line x1="257.20" y1="26.80" x2="264.20" y2="22.80" stroke="#2a2a2a" stroke-width="0.6" />
<line x1="378.80" y1="24.40" x2="385.80" y2="20.40" stroke="#2a2a2a" stroke-width="0.6" />
<line x1="378.80" y1="26.80" x2="385.80" y2="22.80" stroke="#2a2a2a" stroke-width="0.6" />
<line x1="260.70" y1="29.70" x2="262.70" y2="29.70" stroke="#2a2a2a" stroke-width="0.6" />
<text x="258.30" y="31.95" font-family="'DejaVu Sans', sans-serif" font-size="6.1" text-anchor="end" fill="#111" >690</text>
<line x1="260.70" y1="51.40" x2="262.70" y2="51.40" stroke="#2a2a2a" stroke-width="0.6" />
<text x="258.30" y="53.65" font-family="'DejaVu Sans', sans-serif" font-size="6.1" text-anchor="end" fill="#111" >688</text>
<line x1="260.70" y1="73.10" x2="262.70" y2="73.10" stroke="#2a2a2a" stroke-width="0.6" />
<text x="258.30" y="75.35" font-family="'DejaVu Sans', sans-serif" font-size="6.1" text-anchor="end" fill="#111" >686</text>
<line x1="260.70" y1="94.80" x2="262.70" y2="94.80" stroke="#2a2a2a" stroke-width="0.6" />
<text x="258.30" y="97.05" font-family="'DejaVu Sans', sans-serif" font-size="6.1" text-anchor="end" fill="#111" >684</text>
<line x1="260.70" y1="40.55" x2="261.80" y2="40.55" stroke="#2a2a2a" stroke-width="0.5" />
<line x1="260.70" y1="62.25" x2="261.80" y2="62.25" stroke="#2a2a2a" stroke-width="0.5" />
<line x1="260.70" y1="83.95" x2="261.80" y2="83.95" stroke="#2a2a2a" stroke-width="0.5" />
<line x1="260.70" y1="105.65" x2="261.80" y2="105.65" stroke="#2a2a2a" stroke-width="0.5" />
<line x1="260.70" y1="14.50" x2="262.70" y2="14.50" stroke="#2a2a2a" stroke-width="0.6" />
<text x="258.30" y="16.75" font-family="'DejaVu Sans', sans-serif" font-size="6.1" text-anchor="end" fill="#111" >734</text>
<line x1="260.70" y1="4.00" x2="261.80" y2="4.00" stroke="#2a2a2a" stroke-width="0.5" />
<line x1="271.00" y1="110.30" x2="271.00" y2="108.30" stroke="#2a2a2a" stroke-width="0.6" />
<text x="271.20" y="117.9" font-family="'DejaVu Sans', sans-serif" font-size="6.1" text-anchor="middle" fill="#111">10<tspan font-size="4.3" dy="-2.6">−5</tspan></text>
<line x1="307.00" y1="110.30" x2="307.00" y2="108.30" stroke="#2a2a2a" stroke-width="0.6" />
<text x="307.20" y="117.9" font-family="'DejaVu Sans', sans-serif" font-size="6.1" text-anchor="middle" fill="#111">10<tspan font-size="4.3" dy="-2.6">−4</tspan></text>
<line x1="343.00" y1="110.30" x2="343.00" y2="108.30" stroke="#2a2a2a" stroke-width="0.6" />
<text x="343.20" y="117.9" font-family="'DejaVu Sans', sans-serif" font-size="6.1" text-anchor="middle" fill="#111">10<tspan font-size="4.3" dy="-2.6">−3</tspan></text>
<line x1="379.00" y1="110.30" x2="379.00" y2="108.30" stroke="#2a2a2a" stroke-width="0.6" />
<text x="379.20" y="117.9" font-family="'DejaVu Sans', sans-serif" font-size="6.1" text-anchor="middle" fill="#111">10<tspan font-size="4.3" dy="-2.6">−2</tspan></text>
<line x1="263.01" y1="110.30" x2="263.01" y2="109.20" stroke="#2a2a2a" stroke-width="0.45" />
<line x1="265.42" y1="110.30" x2="265.42" y2="109.20" stroke="#2a2a2a" stroke-width="0.45" />
<line x1="267.51" y1="110.30" x2="267.51" y2="109.20" stroke="#2a2a2a" stroke-width="0.45" />
<line x1="269.35" y1="110.30" x2="269.35" y2="109.20" stroke="#2a2a2a" stroke-width="0.45" />
<line x1="281.84" y1="110.30" x2="281.84" y2="109.20" stroke="#2a2a2a" stroke-width="0.45" />
<line x1="288.18" y1="110.30" x2="288.18" y2="109.20" stroke="#2a2a2a" stroke-width="0.45" />
<line x1="292.67" y1="110.30" x2="292.67" y2="109.20" stroke="#2a2a2a" stroke-width="0.45" />
<line x1="296.16" y1="110.30" x2="296.16" y2="109.20" stroke="#2a2a2a" stroke-width="0.45" />
<line x1="299.01" y1="110.30" x2="299.01" y2="109.20" stroke="#2a2a2a" stroke-width="0.45" />
<line x1="301.42" y1="110.30" x2="301.42" y2="109.20" stroke="#2a2a2a" stroke-width="0.45" />
<line x1="303.51" y1="110.30" x2="303.51" y2="109.20" stroke="#2a2a2a" stroke-width="0.45" />
<line x1="305.35" y1="110.30" x2="305.35" y2="109.20" stroke="#2a2a2a" stroke-width="0.45" />
<line x1="317.84" y1="110.30" x2="317.84" y2="109.20" stroke="#2a2a2a" stroke-width="0.45" />
<line x1="324.18" y1="110.30" x2="324.18" y2="109.20" stroke="#2a2a2a" stroke-width="0.45" />
<line x1="328.67" y1="110.30" x2="328.67" y2="109.20" stroke="#2a2a2a" stroke-width="0.45" />
<line x1="332.16" y1="110.30" x2="332.16" y2="109.20" stroke="#2a2a2a" stroke-width="0.45" />
<line x1="335.01" y1="110.30" x2="335.01" y2="109.20" stroke="#2a2a2a" stroke-width="0.45" />
<line x1="337.42" y1="110.30" x2="337.42" y2="109.20" stroke="#2a2a2a" stroke-width="0.45" />
<line x1="339.51" y1="110.30" x2="339.51" y2="109.20" stroke="#2a2a2a" stroke-width="0.45" />
<line x1="341.35" y1="110.30" x2="341.35" y2="109.20" stroke="#2a2a2a" stroke-width="0.45" />
<line x1="353.84" y1="110.30" x2="353.84" y2="109.20" stroke="#2a2a2a" stroke-width="0.45" />
<line x1="360.18" y1="110.30" x2="360.18" y2="109.20" stroke="#2a2a2a" stroke-width="0.45" />
<line x1="364.67" y1="110.30" x2="364.67" y2="109.20" stroke="#2a2a2a" stroke-width="0.45" />
<line x1="368.16" y1="110.30" x2="368.16" y2="109.20" stroke="#2a2a2a" stroke-width="0.45" />
<line x1="371.01" y1="110.30" x2="371.01" y2="109.20" stroke="#2a2a2a" stroke-width="0.45" />
<line x1="373.42" y1="110.30" x2="373.42" y2="109.20" stroke="#2a2a2a" stroke-width="0.45" />
<line x1="375.51" y1="110.30" x2="375.51" y2="109.20" stroke="#2a2a2a" stroke-width="0.45" />
<line x1="377.35" y1="110.30" x2="377.35" y2="109.20" stroke="#2a2a2a" stroke-width="0.45" />
<text x="321.9" y="127.5" font-family="'DejaVu Sans', sans-serif" font-size="7.15" text-anchor="middle" fill="#222">Impulse Width, <tspan font-family="'Liberation Serif', 'DejaVu Serif', serif" font-style="italic" font-size="5.2">w</tspan><tspan font-family="'Liberation Serif', 'DejaVu Serif', serif" font-style="italic" font-size="3.8" dy="1">c</tspan><tspan dy="-1"> (nm)</tspan></text>
<text transform="translate(242.4,50.6) rotate(-90)" x="0" y="0" font-family="'DejaVu Sans', sans-serif" font-size="6.95" text-anchor="middle" fill="#222">Bulk Modulus, <tspan font-style="italic">B̂</tspan> (MPa)</text>
<line x1="271.00" y1="73.70" x2="271.00" y2="81.20" stroke="#1f77b4" stroke-width="0.7" />
<line x1="270.00" y1="73.70" x2="272.00" y2="73.70" stroke="#1f77b4" stroke-width="0.7" />
<line x1="270.00" y1="81.20" x2="272.00" y2="81.20" stroke="#1f77b4" stroke-width="0.7" />
<circle cx="271.00" cy="77.30" r="1.3" fill="#1f77b4"/>
<line x1="296.16" y1="62.70" x2="296.16" y2="71.00" stroke="#1f77b4" stroke-width="0.7" />
<line x1="295.16" y1="62.70" x2="297.16" y2="62.70" stroke="#1f77b4" stroke-width="0.7" />
<line x1="295.16" y1="71.00" x2="297.16" y2="71.00" stroke="#1f77b4" stroke-width="0.7" />
<circle cx="296.16" cy="67.00" r="1.3" fill="#1f77b4"/>
<line x1="307.00" y1="72.40" x2="307.00" y2="80.00" stroke="#1f77b4" stroke-width="0.7" />
<line x1="306.00" y1="72.40" x2="308.00" y2="72.40" stroke="#1f77b4" stroke-width="0.7" />
<line x1="306.00" y1="80.00" x2="308.00" y2="80.00" stroke="#1f77b4" stroke-width="0.7" />
<circle cx="307.00" cy="76.00" r="1.3" fill="#1f77b4"/>
<line x1="332.16" y1="79.50" x2="332.16" y2="88.00" stroke="#1f77b4" stroke-width="0.7" />
<line x1="331.16" y1="79.50" x2="333.16" y2="79.50" stroke="#1f77b4" stroke-width="0.7" />
<line x1="331.16" y1="88.00" x2="333.16" y2="88.00" stroke="#1f77b4" stroke-width="0.7" />
<circle cx="332.16" cy="83.60" r="1.3" fill="#1f77b4"/>
<line x1="343.00" y1="72.30" x2="343.00" y2="79.50" stroke="#1f77b4" stroke-width="0.7" />
<line x1="342.00" y1="72.30" x2="344.00" y2="72.30" stroke="#1f77b4" stroke-width="0.7" />
<line x1="342.00" y1="79.50" x2="344.00" y2="79.50" stroke="#1f77b4" stroke-width="0.7" />
<circle cx="343.00" cy="75.90" r="1.3" fill="#1f77b4"/>
<line x1="368.16" y1="73.40" x2="368.16" y2="82.70" stroke="#1f77b4" stroke-width="0.7" />
<line x1="367.16" y1="73.40" x2="369.16" y2="73.40" stroke="#1f77b4" stroke-width="0.7" />
<line x1="367.16" y1="82.70" x2="369.16" y2="82.70" stroke="#1f77b4" stroke-width="0.7" />
<circle cx="368.16" cy="77.90" r="1.3" fill="#1f77b4"/>
<line x1="379.00" y1="87.70" x2="379.00" y2="95.70" stroke="#1f77b4" stroke-width="0.7" />
<line x1="378.00" y1="87.70" x2="380.00" y2="87.70" stroke="#1f77b4" stroke-width="0.7" />
<line x1="378.00" y1="95.70" x2="380.00" y2="95.70" stroke="#1f77b4" stroke-width="0.7" />
<circle cx="379.00" cy="91.60" r="1.3" fill="#1f77b4"/>
<line x1="324.20" y1="29.80" x2="324.20" y2="36.70" stroke="#1f77b4" stroke-width="0.7" />
<line x1="323.20" y1="29.80" x2="325.20" y2="29.80" stroke="#1f77b4" stroke-width="0.7" />
<line x1="323.20" y1="36.70" x2="325.20" y2="36.70" stroke="#1f77b4" stroke-width="0.7" />
<circle cx="324.20" cy="33.3" r="1.3" fill="#1f77b4"/>
<line x1="318.00" y1="42.50" x2="330.20" y2="42.50" stroke="#333" stroke-width="0.8" stroke-dasharray="2 1.4"/>
<line x1="318.00" y1="51.60" x2="330.20" y2="51.60" stroke="#d62728" stroke-width="0.8" stroke-dasharray="3.2 1.2 0.8 1.2"/>
<text x="335.80" y="35.60" font-family="'DejaVu Sans', sans-serif" font-size="6.2" text-anchor="start" fill="#222" >Imp. Corr.</text>
<text x="335.80" y="44.50" font-family="'DejaVu Sans', sans-serif" font-size="6.2" text-anchor="start" fill="#222" >No Imp. Corr.</text>
<text x="335.80" y="53.50" font-family="'DejaVu Sans', sans-serif" font-size="6.2" text-anchor="start" fill="#222" >Explicit Def.</text>
<circle cx="85.9" cy="158.2" r="17.45" fill="#dcf0f4"/>
<circle cx="85.9" cy="193.5" r="17.45" fill="#dcf0f4"/>
<circle cx="85.9" cy="228.7" r="17.45" fill="#dcf0f4"/>
<line x1="83.90" y1="146.90" x2="87.40" y2="151.60" stroke="#333" stroke-width="0.55" />
<line x1="87.40" y1="156.60" x2="83.90" y2="159.70" stroke="#333" stroke-width="0.55" />
<line x1="83.90" y1="164.60" x2="87.40" y2="169.26" stroke="#333" stroke-width="0.55" />
<line x1="87.40" y1="174.26" x2="83.90" y2="177.40" stroke="#333" stroke-width="0.55" />
<line x1="83.90" y1="182.30" x2="87.40" y2="186.92" stroke="#333" stroke-width="0.55" />
<line x1="87.40" y1="191.92" x2="83.90" y2="195.10" stroke="#333" stroke-width="0.55" />
<line x1="83.90" y1="200.00" x2="87.40" y2="204.58" stroke="#333" stroke-width="0.55" />
<line x1="87.40" y1="209.58" x2="83.90" y2="212.80" stroke="#333" stroke-width="0.55" />
<line x1="83.90" y1="217.70" x2="87.40" y2="222.24" stroke="#333" stroke-width="0.55" />
<line x1="87.40" y1="227.24" x2="83.90" y2="230.50" stroke="#333" stroke-width="0.55" />
<line x1="83.90" y1="235.40" x2="87.40" y2="239.90" stroke="#333" stroke-width="0.55" />
<text x="85.2" y="146.60" font-family="'Liberation Sans', sans-serif" font-size="5.6" text-anchor="end" fill="#222" class="thin">H<tspan font-size="3.9" dy="1.1">3</tspan><tspan dy="-1.1">C</tspan></text>
<text x="86.4" y="156.00" font-family="'Liberation Sans', sans-serif" font-size="5.6" fill="#222" class="thin">CH<tspan font-size="3.9" dy="1.1">2</tspan></text>
<text x="85.2" y="164.30" font-family="'Liberation Sans', sans-serif" font-size="5.6" text-anchor="end" fill="#222" class="thin">H<tspan font-size="3.9" dy="1.1">2</tspan><tspan dy="-1.1">C</tspan></text>
<text x="86.4" y="173.66" font-family="'Liberation Sans', sans-serif" font-size="5.6" fill="#222" class="thin">CH<tspan font-size="3.9" dy="1.1">2</tspan></text>
<text x="85.2" y="182.00" font-family="'Liberation Sans', sans-serif" font-size="5.6" text-anchor="end" fill="#222" class="thin">H<tspan font-size="3.9" dy="1.1">2</tspan><tspan dy="-1.1">C</tspan></text>
<text x="86.4" y="191.32" font-family="'Liberation Sans', sans-serif" font-size="5.6" fill="#222" class="thin">CH<tspan font-size="3.9" dy="1.1">2</tspan></text>
<text x="85.2" y="199.70" font-family="'Liberation Sans', sans-serif" font-size="5.6" text-anchor="end" fill="#222" class="thin">H<tspan font-size="3.9" dy="1.1">2</tspan><tspan dy="-1.1">C</tspan></text>
<text x="86.4" y="208.98" font-family="'Liberation Sans', sans-serif" font-size="5.6" fill="#222" class="thin">CH<tspan font-size="3.9" dy="1.1">2</tspan></text>
<text x="85.2" y="217.40" font-family="'Liberation Sans', sans-serif" font-size="5.6" text-anchor="end" fill="#222" class="thin">H<tspan font-size="3.9" dy="1.1">2</tspan><tspan dy="-1.1">C</tspan></text>
<text x="86.4" y="226.64" font-family="'Liberation Sans', sans-serif" font-size="5.6" fill="#222" class="thin">CH<tspan font-size="3.9" dy="1.1">2</tspan></text>
<text x="85.2" y="235.10" font-family="'Liberation Sans', sans-serif" font-size="5.6" text-anchor="end" fill="#222" class="thin">H<tspan font-size="3.9" dy="1.1">2</tspan><tspan dy="-1.1">C</tspan></text>
<text x="86.4" y="244.30" font-family="'Liberation Sans', sans-serif" font-size="5.6" fill="#222" class="thin">CH<tspan font-size="3.9" dy="1.1">3</tspan></text>
<polyline points="137.3,175.9 137.4,176.7 137.4,177.0 137.5,170.4 137.6,172.5 137.7,171.2 137.7,169.7 137.8,177.2 137.9,179.0 138.0,178.5 138.0,186.4 138.1,181.5 138.2,177.2 138.2,179.9 138.3,173.8 138.4,171.0 138.5,176.5 138.5,173.0 138.6,175.3 138.7,179.7 138.7,175.8 138.8,179.6 138.9,182.7 139.0,177.9 139.0,181.1 139.1,180.7 139.2,175.6 139.3,179.5 139.3,177.6 139.4,173.5 139.5,177.8 139.5,176.7 139.6,176.3 139.7,182.7 139.8,180.4 139.8,181.5 139.9,187.4 140.0,184.2 140.0,186.5 140.1,190.6 140.2,186.2 140.3,189.7 140.3,192.4 140.4,188.2 140.5,192.9 140.6,192.5 140.6,192.8 140.7,193.1 140.8,193.4 140.8,193.6 140.9,193.9 141.0,194.2 141.1,194.5 141.1,194.8 141.2,195.1 141.3,195.3 141.3,195.0 141.4,194.7 141.5,194.4 141.6,194.1 141.6,193.8 142.1,194.1 142.6,194.3 143.2,192.6 143.7,192.4 144.2,192.5 144.7,193.0 145.2,193.3 145.7,193.3 146.2,192.7 146.7,192.1 147.2,191.6 147.7,191.3 148.2,191.1 148.7,190.7 149.2,190.5 149.7,190.6 150.2,191.1 150.7,191.8 151.2,192.4 151.7,192.5 152.3,192.3 152.8,192.0 153.3,191.8 153.8,191.6 154.3,191.4 154.8,190.9 155.3,190.5 155.8,190.4 156.3,190.7 156.8,191.3 157.3,191.7 157.8,191.8 158.3,191.7 158.8,191.6 159.3,191.7 159.8,191.7 160.3,191.5 160.9,191.2 161.4,190.9 161.9,191.0 162.4,191.5 162.9,192.1 163.4,192.6 163.9,192.9 164.4,193.0 164.9,193.3 165.4,193.6 165.9,193.6 166.4,193.4 166.9,193.0 167.4,192.7 167.9,192.8 168.4,193.0 168.9,193.2 169.4,193.3 170.0,193.3 170.5,193.3 171.0,193.5 171.5,193.7 172.0,193.6 172.5,193.3 173.0,192.8 173.5,192.5 174.0,192.5 174.5,192.8 175.0,193.0 175.5,193.1 176.0,193.3 176.5,193.6 177.0,194.0 177.5,194.3 178.0,194.3 178.5,194.0 179.1,193.6 179.6,193.3 180.1,193.2 180.6,193.3 181.1,193.3 181.6,193.2 182.1,193.2 182.6,193.4 183.1,193.7 183.6,193.9 184.1,193.8 184.6,193.5 185.1,193.1 185.6,192.9 186.1,192.8 186.6,192.8 187.1,192.7 187.7,192.6 188.2,192.8 188.7,193.1 189.2,193.6 189.7,193.9 190.2,194.0 190.7,193.8 191.2,193.6 191.7,193.4 192.2,193.2 192.7,192.9 193.2,192.5 193.7,192.2 194.2,192.1 194.7,192.3 195.2,192.6 195.7,192.8 196.2,192.7 196.8,192.5 197.3,192.3 197.8,192.2 198.3,192.1 198.8,191.9 199.3,191.6 199.8,191.4 200.3,191.4 200.8,191.7 201.3,192.1 201.8,192.3 202.3,192.4 202.8,192.4 203.3,192.5 203.8,192.6 204.3,192.6 204.8,192.3 205.4,192.1 205.9,191.9 206.4,192.0 206.9,192.2 207.4,192.5 207.9,192.6 208.4,192.6 208.9,192.6 209.4,192.7 209.9,192.7 210.4,192.6 210.9,192.2 211.4,191.8 211.9,191.6 212.4,191.6 212.9,191.7 213.4,191.9 213.9,191.9 214.5,192.0 215.0,192.2 215.5,192.4 216.0,192.6 216.5,192.5 217.0,192.2 217.5,191.9 218.0,191.7 218.5,191.6 219.0,191.7 219.5,191.7 220.0,191.6 220.5,191.6 221.0,191.7 221.5,191.9 222.0,191.9 222.5,191.7 223.0,191.2 223.6,190.8 224.1,190.6 224.6,190.4 225.1,190.2 225.6,190.0 226.1,189.8 226.6,189.8 227.1,189.9 227.6,190.1" fill="none" stroke="#4a97dc" stroke-width="1.05" stroke-opacity="0.95" stroke-linejoin="round"/>
<polyline points="137.3,159.7 137.4,159.4 137.4,165.6 137.5,160.6 137.6,168.3 137.7,165.4 137.7,164.8 137.8,165.5 137.9,158.5 138.0,163.4 138.0,155.7 138.1,161.4 138.2,163.0 138.2,161.9 138.3,169.6 138.4,165.0 138.5,169.7 138.5,165.6 138.6,164.3 138.7,167.1 138.7,160.2 138.8,165.8 138.9,159.6 139.0,162.3 139.0,164.9 139.1,162.1 139.2,169.9 139.3,165.0 139.3,171.3 139.4,171.0 139.5,170.8 139.5,175.2 139.6,168.4 139.7,174.2 139.8,169.6 139.8,170.3 139.9,172.3 140.0,166.7 140.0,173.8 140.1,169.4 140.2,174.6 140.3,175.7 140.3,174.2 140.4,181.4 140.5,176.3 140.6,181.1 140.6,182.2 140.7,183.4 140.8,184.5 140.8,185.7 140.9,186.8 141.0,187.7 141.1,188.5 141.1,189.4 141.2,190.2 141.3,191.1 141.3,191.5 141.4,191.8 141.5,192.2 141.6,192.6 141.6,193.0 142.1,192.7 142.6,192.4 143.2,190.5 143.7,190.6 144.2,190.9 144.7,190.8 145.2,190.8 145.7,190.8 146.2,190.8 146.7,190.5 147.2,189.8 147.7,188.8 148.2,188.1 148.7,187.8 149.2,188.2 149.7,188.8 150.2,189.1 150.7,189.4 151.2,189.8 151.7,190.4 152.3,190.9 152.8,191.0 153.3,190.8 153.8,190.5 154.3,190.5 154.8,190.9 155.3,191.5 155.8,192.1 156.3,192.6 156.8,193.1 157.3,193.9 157.8,194.5 158.3,194.9 158.8,194.9 159.3,194.5 159.8,194.1 160.3,193.9 160.9,193.9 161.4,193.9 161.9,193.9 162.4,193.8 162.9,193.8 163.4,194.1 163.9,194.6 164.4,194.8 164.9,194.6 165.4,194.2 165.9,193.7 166.4,193.2 166.9,192.8 167.4,192.3 167.9,191.8 168.4,191.3 168.9,191.1 169.4,191.3 170.0,191.5 170.5,191.5 171.0,191.3 171.5,190.9 172.0,190.5 172.5,190.2 173.0,190.0 173.5,189.6 174.0,189.1 174.5,188.7 175.0,188.6 175.5,188.7 176.0,189.1 176.5,189.3 177.0,189.2 177.5,189.0 178.0,188.8 178.5,188.8 179.1,188.6 179.6,188.2 180.1,187.8 180.6,187.6 181.1,187.6 181.6,188.0 182.1,188.3 182.6,188.5 183.1,188.5 183.6,188.6 184.1,188.7 184.6,188.8 185.1,188.8 185.6,188.5 186.1,188.2 186.6,188.0 187.1,188.2 187.7,188.5 188.2,188.8 188.7,188.9 189.2,188.9 189.7,189.0 190.2,189.2 190.7,189.2 191.2,189.0 191.7,188.6 192.2,188.2 192.7,187.9 193.2,187.9 193.7,188.1 194.2,188.2 194.7,188.2 195.2,188.2 195.7,188.4 196.2,188.7 196.8,188.8 197.3,188.7 197.8,188.4 198.3,188.1 198.8,188.1 199.3,188.2 199.8,188.3 200.3,188.4 200.8,188.4 201.3,188.6 201.8,188.9 202.3,189.2 202.8,189.4 203.3,189.2 203.8,188.9 204.3,188.6 204.8,188.4 205.4,188.4 205.9,188.3 206.4,188.1 206.9,187.9 207.4,187.9 207.9,188.1 208.4,188.3 208.9,188.3 209.4,188.1 209.9,187.8 210.4,187.6 210.9,187.5 211.4,187.4 211.9,187.3 212.4,187.2 212.9,187.2 213.4,187.5 213.9,187.9 214.5,188.3 215.0,188.5 215.5,188.4 216.0,188.4 216.5,188.3 217.0,188.3 217.5,188.2 218.0,188.0 218.5,187.7 219.0,187.6 219.5,187.8 220.0,188.1 220.5,188.3 221.0,188.4 221.5,188.3 222.0,188.3 222.5,188.3 223.0,188.3 223.6,188.2 224.1,187.9 224.6,187.7 225.1,187.7 225.6,187.9 226.1,188.2 226.6,188.5 227.1,188.7 227.6,188.8" fill="none" stroke="#e02f2f" stroke-width="1.05" stroke-opacity="0.95" stroke-linejoin="round"/>
<polyline points="137.3,209.6 137.4,150.2 137.4,205.9 137.5,182.3 137.6,185.3 137.7,194.1 137.7,189.4 137.8,191.3 137.9,186.7 138.0,188.0 138.0,184.5 138.1,187.0 138.2,187.6 138.2,188.4 138.3,190.7 138.4,189.9 138.5,191.6 138.5,187.7 138.6,190.2 138.7,185.9 138.7,188.2 138.8,184.5 138.9,185.9 139.0,184.3 139.0,185.6 139.1,186.3 139.2,185.9 139.3,188.3 139.3,186.5 139.4,190.1 139.5,187.4 139.5,190.3 139.6,186.6 139.7,189.0 139.8,186.2 139.8,187.4 139.9,186.1 140.0,185.7 140.0,186.1 140.1,183.9 140.2,185.9 140.3,183.2 140.3,186.8 140.4,183.7 140.5,187.3 140.6,184.6 140.6,187.3 140.7,185.8 140.8,187.1 140.8,187.2 140.9,186.8 141.0,188.1 141.1,185.5 141.1,188.1 141.2,184.6 141.3,186.0 141.3,185.8 141.4,185.5 141.5,185.4 141.6,185.5 141.6,185.7 142.1,185.9 142.6,184.9 143.2,184.1 143.7,185.1 144.2,186.2 144.7,186.8 145.2,186.8 145.7,186.6 146.2,186.4 146.7,186.2 147.2,185.8 147.7,185.3 148.2,184.7 148.7,184.3 149.2,184.5 149.7,185.4 150.2,186.4 150.7,187.0 151.2,187.1 151.7,186.9 152.3,186.9 152.8,186.9 153.3,186.8 153.8,186.4 154.3,186.0 154.8,185.8 155.3,186.1 155.8,186.8 156.3,187.4 156.8,187.6 157.3,187.5 157.8,187.4 158.3,187.5 158.8,187.6 159.3,187.5 159.8,187.1 160.3,186.7 160.9,186.7 161.4,187.2 161.9,188.1 162.4,188.9 162.9,189.5 163.4,189.9 163.9,190.3 164.4,190.8 164.9,191.2 165.4,191.2 165.9,191.0 166.4,190.5 166.9,190.2 167.4,190.4 167.9,190.7 168.4,190.9 168.9,190.9 169.4,190.9 170.0,191.1 170.5,191.3 171.0,191.3 171.5,190.9 172.0,190.3 172.5,189.8 173.0,189.7 173.5,189.9 174.0,190.2 174.5,190.3 175.0,190.5 175.5,190.7 176.0,191.2 176.5,191.7 177.0,191.8 177.5,191.6 178.0,191.1 178.5,190.8 179.1,190.7 179.6,190.8 180.1,190.8 180.6,190.7 181.1,190.7 181.6,190.9 182.1,191.3 182.6,191.6 183.1,191.6 183.6,191.2 184.1,190.7 184.6,190.4 185.1,190.3 185.6,190.2 186.1,190.1 186.6,189.9 187.1,189.9 187.7,190.3 188.2,190.8 188.7,191.3 189.2,191.5 189.7,191.3 190.2,191.1 190.7,191.0 191.2,191.0 191.7,191.0 192.2,190.8 192.7,190.5 193.2,190.5 193.7,190.8 194.2,191.3 194.7,191.6 195.2,191.6 195.7,191.4 196.2,191.2 196.8,191.1 197.3,191.0 197.8,190.7 198.3,190.3 198.8,189.9 199.3,189.9 199.8,190.2 200.3,190.6 200.8,190.9 201.3,191.0 201.8,191.0 202.3,191.0 202.8,191.2 203.3,191.2 203.8,191.0 204.3,190.7 204.8,190.4 205.4,190.4 205.9,190.8 206.4,191.1 206.9,191.3 207.4,191.4 207.9,191.4 208.4,191.5 208.9,191.6 209.4,191.5 209.9,191.2 210.4,190.7 210.9,190.3 211.4,190.2 211.9,190.3 212.4,190.5 212.9,190.6 213.4,190.6 213.9,190.7 214.5,191.0 215.0,191.2 215.5,191.2 216.0,191.0 216.5,190.6 217.0,190.4 217.5,190.5 218.0,190.6 218.5,190.8 219.0,190.9 219.5,191.0 220.0,191.2 220.5,191.6 221.0,191.8 221.5,191.8 222.0,191.5 222.5,191.1 223.0,190.8 223.6,190.7 224.1,190.7 224.6,190.6 225.1,190.5 225.6,190.5 226.1,190.7 226.6,191.0 227.1,191.2 227.6,191.2" fill="none" stroke="#2fb02f" stroke-width="1.05" stroke-opacity="0.95" stroke-linejoin="round"/>
<line x1="137.80" y1="148.32" x2="137.80" y2="211.03" stroke="#2fb02f" stroke-width="1.0" />
<line x1="137.30" y1="189.65" x2="227.60" y2="189.65" stroke="#333" stroke-width="0.9" stroke-dasharray="1.6 1.0"/>
<rect x="137.30" y="146.90" width="90.30" height="85.50" fill="none" stroke="#2a2a2a" stroke-width="0.75" />
<line x1="135.10" y1="146.90" x2="137.30" y2="146.90" stroke="#2a2a2a" stroke-width="0.6" />
<text x="132.70" y="149.15" font-family="'DejaVu Sans', sans-serif" font-size="6.2" text-anchor="end" fill="#111" >15</text>
<line x1="135.10" y1="161.15" x2="137.30" y2="161.15" stroke="#2a2a2a" stroke-width="0.6" />
<text x="132.70" y="163.40" font-family="'DejaVu Sans', sans-serif" font-size="6.2" text-anchor="end" fill="#111" >10</text>
<line x1="135.10" y1="175.40" x2="137.30" y2="175.40" stroke="#2a2a2a" stroke-width="0.6" />
<text x="132.70" y="177.65" font-family="'DejaVu Sans', sans-serif" font-size="6.2" text-anchor="end" fill="#111" >5</text>
<line x1="135.10" y1="189.65" x2="137.30" y2="189.65" stroke="#2a2a2a" stroke-width="0.6" />
<text x="132.70" y="191.90" font-family="'DejaVu Sans', sans-serif" font-size="6.2" text-anchor="end" fill="#111" >0</text>
<line x1="135.10" y1="203.90" x2="137.30" y2="203.90" stroke="#2a2a2a" stroke-width="0.6" />
<text x="132.70" y="206.15" font-family="'DejaVu Sans', sans-serif" font-size="6.2" text-anchor="end" fill="#111" >−5</text>
<line x1="135.10" y1="218.15" x2="137.30" y2="218.15" stroke="#2a2a2a" stroke-width="0.6" />
<text x="132.70" y="220.40" font-family="'DejaVu Sans', sans-serif" font-size="6.2" text-anchor="end" fill="#111" >−10</text>
<line x1="135.10" y1="232.40" x2="137.30" y2="232.40" stroke="#2a2a2a" stroke-width="0.6" />
<text x="132.70" y="234.65" font-family="'DejaVu Sans', sans-serif" font-size="6.2" text-anchor="end" fill="#111" >−15</text>
<line x1="136.20" y1="229.55" x2="137.30" y2="229.55" stroke="#2a2a2a" stroke-width="0.45" />
<line x1="136.20" y1="226.70" x2="137.30" y2="226.70" stroke="#2a2a2a" stroke-width="0.45" />
<line x1="136.20" y1="223.85" x2="137.30" y2="223.85" stroke="#2a2a2a" stroke-width="0.45" />
<line x1="136.20" y1="221.00" x2="137.30" y2="221.00" stroke="#2a2a2a" stroke-width="0.45" />
<line x1="136.20" y1="215.30" x2="137.30" y2="215.30" stroke="#2a2a2a" stroke-width="0.45" />
<line x1="136.20" y1="212.45" x2="137.30" y2="212.45" stroke="#2a2a2a" stroke-width="0.45" />
<line x1="136.20" y1="209.60" x2="137.30" y2="209.60" stroke="#2a2a2a" stroke-width="0.45" />
<line x1="136.20" y1="206.75" x2="137.30" y2="206.75" stroke="#2a2a2a" stroke-width="0.45" />
<line x1="136.20" y1="201.05" x2="137.30" y2="201.05" stroke="#2a2a2a" stroke-width="0.45" />
<line x1="136.20" y1="198.20" x2="137.30" y2="198.20" stroke="#2a2a2a" stroke-width="0.45" />
<line x1="136.20" y1="195.35" x2="137.30" y2="195.35" stroke="#2a2a2a" stroke-width="0.45" />
<line x1="136.20" y1="192.50" x2="137.30" y2="192.50" stroke="#2a2a2a" stroke-width="0.45" />
<line x1="136.20" y1="186.80" x2="137.30" y2="186.80" stroke="#2a2a2a" stroke-width="0.45" />
<line x1="136.20" y1="183.95" x2="137.30" y2="183.95" stroke="#2a2a2a" stroke-width="0.45" />
<line x1="136.20" y1="181.10" x2="137.30" y2="181.10" stroke="#2a2a2a" stroke-width="0.45" />
<line x1="136.20" y1="178.25" x2="137.30" y2="178.25" stroke="#2a2a2a" stroke-width="0.45" />
<line x1="136.20" y1="172.55" x2="137.30" y2="172.55" stroke="#2a2a2a" stroke-width="0.45" />
<line x1="136.20" y1="169.70" x2="137.30" y2="169.70" stroke="#2a2a2a" stroke-width="0.45" />
<line x1="136.20" y1="166.85" x2="137.30" y2="166.85" stroke="#2a2a2a" stroke-width="0.45" />
<line x1="136.20" y1="164.00" x2="137.30" y2="164.00" stroke="#2a2a2a" stroke-width="0.45" />
<line x1="136.20" y1="158.30" x2="137.30" y2="158.30" stroke="#2a2a2a" stroke-width="0.45" />
<line x1="136.20" y1="155.45" x2="137.30" y2="155.45" stroke="#2a2a2a" stroke-width="0.45" />
<line x1="136.20" y1="152.60" x2="137.30" y2="152.60" stroke="#2a2a2a" stroke-width="0.45" />
<line x1="136.20" y1="149.75" x2="137.30" y2="149.75" stroke="#2a2a2a" stroke-width="0.45" />
<line x1="137.30" y1="232.40" x2="137.30" y2="234.60" stroke="#2a2a2a" stroke-width="0.6" />
<text x="137.30" y="241.50" font-family="'DejaVu Sans', sans-serif" font-size="6.2" text-anchor="middle" fill="#111" >0</text>
<line x1="155.36" y1="232.40" x2="155.36" y2="234.60" stroke="#2a2a2a" stroke-width="0.6" />
<text x="155.36" y="241.50" font-family="'DejaVu Sans', sans-serif" font-size="6.2" text-anchor="middle" fill="#111" >500</text>
<line x1="173.42" y1="232.40" x2="173.42" y2="234.60" stroke="#2a2a2a" stroke-width="0.6" />
<text x="173.42" y="241.50" font-family="'DejaVu Sans', sans-serif" font-size="6.2" text-anchor="middle" fill="#111" >1000</text>
<line x1="191.48" y1="232.40" x2="191.48" y2="234.60" stroke="#2a2a2a" stroke-width="0.6" />
<text x="191.48" y="241.50" font-family="'DejaVu Sans', sans-serif" font-size="6.2" text-anchor="middle" fill="#111" >1500</text>
<line x1="209.54" y1="232.40" x2="209.54" y2="234.60" stroke="#2a2a2a" stroke-width="0.6" />
<text x="209.54" y="241.50" font-family="'DejaVu Sans', sans-serif" font-size="6.2" text-anchor="middle" fill="#111" >2000</text>
<line x1="227.60" y1="232.40" x2="227.60" y2="234.60" stroke="#2a2a2a" stroke-width="0.6" />
<text x="227.60" y="241.50" font-family="'DejaVu Sans', sans-serif" font-size="6.2" text-anchor="middle" fill="#111" >2500</text>
<line x1="140.91" y1="232.40" x2="140.91" y2="233.50" stroke="#2a2a2a" stroke-width="0.45" />
<line x1="144.52" y1="232.40" x2="144.52" y2="233.50" stroke="#2a2a2a" stroke-width="0.45" />
<line x1="148.14" y1="232.40" x2="148.14" y2="233.50" stroke="#2a2a2a" stroke-width="0.45" />
<line x1="151.75" y1="232.40" x2="151.75" y2="233.50" stroke="#2a2a2a" stroke-width="0.45" />
<line x1="158.97" y1="232.40" x2="158.97" y2="233.50" stroke="#2a2a2a" stroke-width="0.45" />
<line x1="162.58" y1="232.40" x2="162.58" y2="233.50" stroke="#2a2a2a" stroke-width="0.45" />
<line x1="166.20" y1="232.40" x2="166.20" y2="233.50" stroke="#2a2a2a" stroke-width="0.45" />
<line x1="169.81" y1="232.40" x2="169.81" y2="233.50" stroke="#2a2a2a" stroke-width="0.45" />
<line x1="177.03" y1="232.40" x2="177.03" y2="233.50" stroke="#2a2a2a" stroke-width="0.45" />
<line x1="180.64" y1="232.40" x2="180.64" y2="233.50" stroke="#2a2a2a" stroke-width="0.45" />
<line x1="184.26" y1="232.40" x2="184.26" y2="233.50" stroke="#2a2a2a" stroke-width="0.45" />
<line x1="187.87" y1="232.40" x2="187.87" y2="233.50" stroke="#2a2a2a" stroke-width="0.45" />
<line x1="195.09" y1="232.40" x2="195.09" y2="233.50" stroke="#2a2a2a" stroke-width="0.45" />
<line x1="198.70" y1="232.40" x2="198.70" y2="233.50" stroke="#2a2a2a" stroke-width="0.45" />
<line x1="202.32" y1="232.40" x2="202.32" y2="233.50" stroke="#2a2a2a" stroke-width="0.45" />
<line x1="205.93" y1="232.40" x2="205.93" y2="233.50" stroke="#2a2a2a" stroke-width="0.45" />
<line x1="213.15" y1="232.40" x2="213.15" y2="233.50" stroke="#2a2a2a" stroke-width="0.45" />
<line x1="216.76" y1="232.40" x2="216.76" y2="233.50" stroke="#2a2a2a" stroke-width="0.45" />
<line x1="220.38" y1="232.40" x2="220.38" y2="233.50" stroke="#2a2a2a" stroke-width="0.45" />
<line x1="223.99" y1="232.40" x2="223.99" y2="233.50" stroke="#2a2a2a" stroke-width="0.45" />
<line x1="137.30" y1="144.70" x2="137.30" y2="146.90" stroke="#2a2a2a" stroke-width="0.6" />
<line x1="158.97" y1="144.70" x2="158.97" y2="146.90" stroke="#2a2a2a" stroke-width="0.6" />
<line x1="180.64" y1="144.70" x2="180.64" y2="146.90" stroke="#2a2a2a" stroke-width="0.6" />
<line x1="202.32" y1="144.70" x2="202.32" y2="146.90" stroke="#2a2a2a" stroke-width="0.6" />
<line x1="223.99" y1="144.70" x2="223.99" y2="146.90" stroke="#2a2a2a" stroke-width="0.6" />
<line x1="140.91" y1="145.80" x2="140.91" y2="146.90" stroke="#2a2a2a" stroke-width="0.45" />
<line x1="144.52" y1="145.80" x2="144.52" y2="146.90" stroke="#2a2a2a" stroke-width="0.45" />
<line x1="148.14" y1="145.80" x2="148.14" y2="146.90" stroke="#2a2a2a" stroke-width="0.45" />
<line x1="151.75" y1="145.80" x2="151.75" y2="146.90" stroke="#2a2a2a" stroke-width="0.45" />
<line x1="155.36" y1="145.80" x2="155.36" y2="146.90" stroke="#2a2a2a" stroke-width="0.45" />
<line x1="162.58" y1="145.80" x2="162.58" y2="146.90" stroke="#2a2a2a" stroke-width="0.45" />
<line x1="166.20" y1="145.80" x2="166.20" y2="146.90" stroke="#2a2a2a" stroke-width="0.45" />
<line x1="169.81" y1="145.80" x2="169.81" y2="146.90" stroke="#2a2a2a" stroke-width="0.45" />
<line x1="173.42" y1="145.80" x2="173.42" y2="146.90" stroke="#2a2a2a" stroke-width="0.45" />
<line x1="177.03" y1="145.80" x2="177.03" y2="146.90" stroke="#2a2a2a" stroke-width="0.45" />
<line x1="184.26" y1="145.80" x2="184.26" y2="146.90" stroke="#2a2a2a" stroke-width="0.45" />
<line x1="187.87" y1="145.80" x2="187.87" y2="146.90" stroke="#2a2a2a" stroke-width="0.45" />
<line x1="191.48" y1="145.80" x2="191.48" y2="146.90" stroke="#2a2a2a" stroke-width="0.45" />
<line x1="195.09" y1="145.80" x2="195.09" y2="146.90" stroke="#2a2a2a" stroke-width="0.45" />
<line x1="198.70" y1="145.80" x2="198.70" y2="146.90" stroke="#2a2a2a" stroke-width="0.45" />
<line x1="205.93" y1="145.80" x2="205.93" y2="146.90" stroke="#2a2a2a" stroke-width="0.45" />
<line x1="209.54" y1="145.80" x2="209.54" y2="146.90" stroke="#2a2a2a" stroke-width="0.45" />
<line x1="213.15" y1="145.80" x2="213.15" y2="146.90" stroke="#2a2a2a" stroke-width="0.45" />
<line x1="216.76" y1="145.80" x2="216.76" y2="146.90" stroke="#2a2a2a" stroke-width="0.45" />
<line x1="220.38" y1="145.80" x2="220.38" y2="146.90" stroke="#2a2a2a" stroke-width="0.45" />
<text x="137.30" y="141.2" font-family="'Liberation Serif', 'DejaVu Serif', serif" font-size="6.0" text-anchor="middle" fill="#111" class="thin">0.0</text>
<text x="159.57" y="141.2" font-family="'Liberation Serif', 'DejaVu Serif', serif" font-size="6.0" text-anchor="middle" fill="#111" class="thin">6 × 10<tspan font-size="3.9" dy="-2.4">5</tspan></text>
<text x="181.24" y="141.2" font-family="'Liberation Serif', 'DejaVu Serif', serif" font-size="6.0" text-anchor="middle" fill="#111" class="thin">12 × 10<tspan font-size="3.9" dy="-2.4">5</tspan></text>
<text x="202.92" y="141.2" font-family="'Liberation Serif', 'DejaVu Serif', serif" font-size="6.0" text-anchor="middle" fill="#111" class="thin">18 × 10<tspan font-size="3.9" dy="-2.4">5</tspan></text>
<text x="224.59" y="141.2" font-family="'Liberation Serif', 'DejaVu Serif', serif" font-size="6.0" text-anchor="middle" fill="#111" class="thin">24 × 10<tspan font-size="3.9" dy="-2.4">5</tspan></text>
<text x="182.6" y="133.5" font-family="'DejaVu Sans', sans-serif" font-size="6.2" text-anchor="middle" fill="#111" class="mid">Samples Analyzed <tspan font-family="'Liberation Serif', 'DejaVu Serif', serif">(</tspan><tspan font-family="'Liberation Serif', 'DejaVu Serif', serif" font-style="italic">N</tspan><tspan font-family="'Liberation Serif', 'DejaVu Serif', serif">)</tspan></text>
<text x="182.5" y="250.0" font-family="'DejaVu Sans', sans-serif" font-size="6.3" text-anchor="middle" fill="#111"><tspan font-family="'Liberation Serif', 'DejaVu Serif', serif" font-style="italic">t</tspan> (ns)</text>
<text transform="translate(116.0,189.5) rotate(-90)" font-family="'DejaVu Sans', sans-serif" font-size="6.7" text-anchor="middle" fill="#111">Elastic Coeff., <tspan font-family="'Liberation Serif', 'DejaVu Serif', serif" font-style="italic">c</tspan><tspan font-size="4.3" dy="1">44</tspan><tspan dy="-1"> (MPa)</tspan></text>
<line x1="171.00" y1="153.80" x2="183.20" y2="153.80" stroke="#4a90d0" stroke-width="0.85" stroke-opacity="0.9"/>
<text x="188.80" y="156.40" font-family="'DejaVu Sans', sans-serif" font-size="6.2" text-anchor="start" fill="#111" >Run 1</text>
<line x1="171.00" y1="163.05" x2="183.20" y2="163.05" stroke="#e03a3a" stroke-width="0.85" stroke-opacity="0.9"/>
<text x="188.80" y="165.65" font-family="'DejaVu Sans', sans-serif" font-size="6.2" text-anchor="start" fill="#111" >Run 2</text>
<line x1="171.00" y1="172.30" x2="183.20" y2="172.30" stroke="#3cb43c" stroke-width="0.85" stroke-opacity="0.9"/>
<text x="188.80" y="174.90" font-family="'DejaVu Sans', sans-serif" font-size="6.2" text-anchor="start" fill="#111" >Run 3</text>
<line x1="171.20" y1="181.70" x2="183.20" y2="181.70" stroke="#555" stroke-width="1.1" stroke-dasharray="2 1.2"/>
<text x="188.80" y="184.10" font-family="'DejaVu Sans', sans-serif" font-size="6.2" text-anchor="start" fill="#111" >3-Run Avg.</text>
<text x="160.0" y="215.4" font-family="'DejaVu Sans', sans-serif" font-size="5.1" fill="#111" class="thin">Sampling Interval: <tspan font-family="'Liberation Serif', 'DejaVu Serif', serif" font-size="5.4">1.0 ps</tspan></text>
<rect x="266.50" y="146.20" width="109.60" height="7.40" fill="#d9d9d9" stroke="none" stroke-width="0.8" />
<line x1="266.50" y1="146.20" x2="376.10" y2="146.20" stroke="#c6c6c6" stroke-width="0.5" />
<line x1="266.50" y1="153.60" x2="376.10" y2="153.60" stroke="#c6c6c6" stroke-width="0.5" />
<line x1="266.50" y1="149.80" x2="376.10" y2="149.80" stroke="#333" stroke-width="0.8" stroke-dasharray="2 1.4"/>
<line x1="267.00" y1="189.50" x2="376.10" y2="189.50" stroke="#4cbc4c" stroke-width="1.0" stroke-dasharray="1 1"/>
<line x1="266.50" y1="137.60" x2="376.10" y2="137.60" stroke="#2a2a2a" stroke-width="0.75" />
<line x1="266.50" y1="137.60" x2="266.50" y2="156.30" stroke="#2a2a2a" stroke-width="0.75" />
<line x1="376.10" y1="137.60" x2="376.10" y2="156.30" stroke="#2a2a2a" stroke-width="0.75" />
<line x1="266.50" y1="160.60" x2="266.50" y2="234.90" stroke="#2a2a2a" stroke-width="0.75" />
<line x1="376.10" y1="160.60" x2="376.10" y2="234.90" stroke="#2a2a2a" stroke-width="0.75" />
<line x1="266.50" y1="234.90" x2="376.10" y2="234.90" stroke="#2a2a2a" stroke-width="0.75" />
<line x1="263.70" y1="159.00" x2="269.60" y2="155.60" stroke="#2a2a2a" stroke-width="0.6" />
<line x1="263.50" y1="161.30" x2="269.40" y2="157.90" stroke="#2a2a2a" stroke-width="0.6" />
<line x1="373.30" y1="159.00" x2="379.20" y2="155.60" stroke="#2a2a2a" stroke-width="0.6" />
<line x1="373.10" y1="161.30" x2="379.00" y2="157.90" stroke="#2a2a2a" stroke-width="0.6" />
<line x1="266.50" y1="137.80" x2="268.30" y2="137.80" stroke="#2a2a2a" stroke-width="0.6" />
<text x="264.30" y="139.90" font-family="'DejaVu Sans', sans-serif" font-size="5.2" text-anchor="end" fill="#111" >30</text>
<line x1="266.50" y1="154.00" x2="268.30" y2="154.00" stroke="#2a2a2a" stroke-width="0.6" />
<text x="264.30" y="156.10" font-family="'DejaVu Sans', sans-serif" font-size="5.2" text-anchor="end" fill="#111" >29</text>
<line x1="266.50" y1="173.45" x2="268.30" y2="173.45" stroke="#2a2a2a" stroke-width="0.6" />
<text x="264.30" y="175.55" font-family="'DejaVu Sans', sans-serif" font-size="5.2" text-anchor="end" fill="#111" >1</text>
<line x1="266.50" y1="189.40" x2="268.30" y2="189.40" stroke="#2a2a2a" stroke-width="0.6" />
<text x="264.30" y="191.50" font-family="'DejaVu Sans', sans-serif" font-size="5.2" text-anchor="end" fill="#111" >0</text>
<line x1="266.50" y1="205.35" x2="268.30" y2="205.35" stroke="#2a2a2a" stroke-width="0.6" />
<text x="264.30" y="207.45" font-family="'DejaVu Sans', sans-serif" font-size="5.2" text-anchor="end" fill="#111" >−1</text>
<line x1="266.50" y1="221.30" x2="268.30" y2="221.30" stroke="#2a2a2a" stroke-width="0.6" />
<text x="264.30" y="223.40" font-family="'DejaVu Sans', sans-serif" font-size="5.2" text-anchor="end" fill="#111" >−2</text>
<line x1="266.50" y1="181.43" x2="267.50" y2="181.43" stroke="#2a2a2a" stroke-width="0.5" />
<line x1="266.50" y1="197.38" x2="267.50" y2="197.38" stroke="#2a2a2a" stroke-width="0.5" />
<line x1="266.50" y1="213.32" x2="267.50" y2="213.32" stroke="#2a2a2a" stroke-width="0.5" />
<line x1="266.50" y1="229.28" x2="267.50" y2="229.28" stroke="#2a2a2a" stroke-width="0.5" />
<line x1="275.80" y1="234.90" x2="275.80" y2="233.10" stroke="#2a2a2a" stroke-width="0.6" />
<text x="275.80" y="241.6" font-family="'DejaVu Sans', sans-serif" font-size="5.5" text-anchor="middle" fill="#111">10<tspan font-size="3.9" dy="-2.3">−5</tspan></text>
<line x1="308.25" y1="234.90" x2="308.25" y2="233.10" stroke="#2a2a2a" stroke-width="0.6" />
<text x="308.25" y="241.6" font-family="'DejaVu Sans', sans-serif" font-size="5.5" text-anchor="middle" fill="#111">10<tspan font-size="3.9" dy="-2.3">−4</tspan></text>
<line x1="340.70" y1="234.90" x2="340.70" y2="233.10" stroke="#2a2a2a" stroke-width="0.6" />
<text x="340.70" y="241.6" font-family="'DejaVu Sans', sans-serif" font-size="5.5" text-anchor="middle" fill="#111">10<tspan font-size="3.9" dy="-2.3">−3</tspan></text>
<line x1="373.15" y1="234.90" x2="373.15" y2="233.10" stroke="#2a2a2a" stroke-width="0.6" />
<text x="373.15" y="241.6" font-family="'DejaVu Sans', sans-serif" font-size="5.5" text-anchor="middle" fill="#111">10<tspan font-size="3.9" dy="-2.3">−2</tspan></text>
<line x1="268.60" y1="234.90" x2="268.60" y2="233.90" stroke="#2a2a2a" stroke-width="0.45" />
<line x1="270.77" y1="234.90" x2="270.77" y2="233.90" stroke="#2a2a2a" stroke-width="0.45" />
<line x1="272.66" y1="234.90" x2="272.66" y2="233.90" stroke="#2a2a2a" stroke-width="0.45" />
<line x1="274.32" y1="234.90" x2="274.32" y2="233.90" stroke="#2a2a2a" stroke-width="0.45" />
<line x1="285.57" y1="234.90" x2="285.57" y2="233.90" stroke="#2a2a2a" stroke-width="0.45" />
<line x1="291.28" y1="234.90" x2="291.28" y2="233.90" stroke="#2a2a2a" stroke-width="0.45" />
<line x1="295.34" y1="234.90" x2="295.34" y2="233.90" stroke="#2a2a2a" stroke-width="0.45" />
<line x1="298.48" y1="234.90" x2="298.48" y2="233.90" stroke="#2a2a2a" stroke-width="0.45" />
<line x1="301.05" y1="234.90" x2="301.05" y2="233.90" stroke="#2a2a2a" stroke-width="0.45" />
<line x1="303.22" y1="234.90" x2="303.22" y2="233.90" stroke="#2a2a2a" stroke-width="0.45" />
<line x1="305.11" y1="234.90" x2="305.11" y2="233.90" stroke="#2a2a2a" stroke-width="0.45" />
<line x1="306.77" y1="234.90" x2="306.77" y2="233.90" stroke="#2a2a2a" stroke-width="0.45" />
<line x1="318.02" y1="234.90" x2="318.02" y2="233.90" stroke="#2a2a2a" stroke-width="0.45" />
<line x1="323.73" y1="234.90" x2="323.73" y2="233.90" stroke="#2a2a2a" stroke-width="0.45" />
<line x1="327.79" y1="234.90" x2="327.79" y2="233.90" stroke="#2a2a2a" stroke-width="0.45" />
<line x1="330.93" y1="234.90" x2="330.93" y2="233.90" stroke="#2a2a2a" stroke-width="0.45" />
<line x1="333.50" y1="234.90" x2="333.50" y2="233.90" stroke="#2a2a2a" stroke-width="0.45" />
<line x1="335.67" y1="234.90" x2="335.67" y2="233.90" stroke="#2a2a2a" stroke-width="0.45" />
<line x1="337.56" y1="234.90" x2="337.56" y2="233.90" stroke="#2a2a2a" stroke-width="0.45" />
<line x1="339.22" y1="234.90" x2="339.22" y2="233.90" stroke="#2a2a2a" stroke-width="0.45" />
<line x1="350.47" y1="234.90" x2="350.47" y2="233.90" stroke="#2a2a2a" stroke-width="0.45" />
<line x1="356.18" y1="234.90" x2="356.18" y2="233.90" stroke="#2a2a2a" stroke-width="0.45" />
<line x1="360.24" y1="234.90" x2="360.24" y2="233.90" stroke="#2a2a2a" stroke-width="0.45" />
<line x1="363.38" y1="234.90" x2="363.38" y2="233.90" stroke="#2a2a2a" stroke-width="0.45" />
<line x1="365.95" y1="234.90" x2="365.95" y2="233.90" stroke="#2a2a2a" stroke-width="0.45" />
<line x1="368.12" y1="234.90" x2="368.12" y2="233.90" stroke="#2a2a2a" stroke-width="0.45" />
<line x1="370.01" y1="234.90" x2="370.01" y2="233.90" stroke="#2a2a2a" stroke-width="0.45" />
<line x1="371.67" y1="234.90" x2="371.67" y2="233.90" stroke="#2a2a2a" stroke-width="0.45" />
<text x="321.5" y="249.6" font-family="'DejaVu Sans', sans-serif" font-size="6.1" text-anchor="middle" fill="#111">Impulse Width, <tspan font-family="'Liberation Serif', 'DejaVu Serif', serif" font-style="italic" font-size="4.7">w</tspan><tspan font-family="'Liberation Serif', 'DejaVu Serif', serif" font-style="italic" font-size="3.4" dy="0.9">c</tspan><tspan dy="-0.9"> (nm)</tspan></text>
<text transform="translate(252.6,186.6) rotate(-90)" font-family="'DejaVu Sans', sans-serif" font-size="6.0" text-anchor="middle" fill="#111">Shear Modulus, <tspan font-family="'Liberation Serif', 'DejaVu Serif', serif" font-style="italic">c̃</tspan><tspan font-size="3.9" dy="1">44</tspan><tspan dy="-1"> (MPa)</tspan></text>
<line x1="275.80" y1="181.40" x2="275.80" y2="188.70" stroke="#1f77b4" stroke-width="0.65" stroke-opacity="0.75"/>
<line x1="274.90" y1="181.40" x2="276.70" y2="181.40" stroke="#1f77b4" stroke-width="0.65" />
<line x1="274.90" y1="188.70" x2="276.70" y2="188.70" stroke="#1f77b4" stroke-width="0.65" />
<rect x="274.80" y="184.10" width="2.00" height="2.00" fill="#1f77b4" stroke="none" stroke-width="0.8" />
<line x1="298.48" y1="183.50" x2="298.48" y2="191.00" stroke="#1f77b4" stroke-width="0.65" stroke-opacity="0.75"/>
<line x1="297.58" y1="183.50" x2="299.38" y2="183.50" stroke="#1f77b4" stroke-width="0.65" />
<line x1="297.58" y1="191.00" x2="299.38" y2="191.00" stroke="#1f77b4" stroke-width="0.65" />
<rect x="297.48" y="186.10" width="2.00" height="2.00" fill="#1f77b4" stroke="none" stroke-width="0.8" />
<line x1="308.25" y1="188.30" x2="308.25" y2="198.60" stroke="#1f77b4" stroke-width="0.65" stroke-opacity="0.75"/>
<line x1="307.35" y1="188.30" x2="309.15" y2="188.30" stroke="#1f77b4" stroke-width="0.65" />
<line x1="307.35" y1="198.60" x2="309.15" y2="198.60" stroke="#1f77b4" stroke-width="0.65" />
<rect x="307.25" y="192.50" width="2.00" height="2.00" fill="#1f77b4" stroke="none" stroke-width="0.8" />
<line x1="330.93" y1="187.10" x2="330.93" y2="196.20" stroke="#1f77b4" stroke-width="0.65" stroke-opacity="0.75"/>
<line x1="330.03" y1="187.10" x2="331.83" y2="187.10" stroke="#1f77b4" stroke-width="0.65" />
<line x1="330.03" y1="196.20" x2="331.83" y2="196.20" stroke="#1f77b4" stroke-width="0.65" />
<rect x="329.93" y="190.70" width="2.00" height="2.00" fill="#1f77b4" stroke="none" stroke-width="0.8" />
<line x1="340.70" y1="185.40" x2="340.70" y2="192.70" stroke="#1f77b4" stroke-width="0.65" stroke-opacity="0.75"/>
<line x1="339.80" y1="185.40" x2="341.60" y2="185.40" stroke="#1f77b4" stroke-width="0.65" />
<line x1="339.80" y1="192.70" x2="341.60" y2="192.70" stroke="#1f77b4" stroke-width="0.65" />
<rect x="339.70" y="188.00" width="2.00" height="2.00" fill="#1f77b4" stroke="none" stroke-width="0.8" />
<line x1="363.38" y1="184.30" x2="363.38" y2="193.80" stroke="#1f77b4" stroke-width="0.65" stroke-opacity="0.75"/>
<line x1="362.48" y1="184.30" x2="364.28" y2="184.30" stroke="#1f77b4" stroke-width="0.65" />
<line x1="362.48" y1="193.80" x2="364.28" y2="193.80" stroke="#1f77b4" stroke-width="0.65" />
<rect x="362.38" y="188.00" width="2.00" height="2.00" fill="#1f77b4" stroke="none" stroke-width="0.8" />
<line x1="373.15" y1="194.60" x2="373.15" y2="206.20" stroke="#1f77b4" stroke-width="0.65" stroke-opacity="0.75"/>
<line x1="372.25" y1="194.60" x2="374.05" y2="194.60" stroke="#1f77b4" stroke-width="0.65" />
<line x1="372.25" y1="206.20" x2="374.05" y2="206.20" stroke="#1f77b4" stroke-width="0.65" />
<rect x="372.15" y="199.20" width="2.00" height="2.00" fill="#1f77b4" stroke="none" stroke-width="0.8" />
<line x1="276.90" y1="207.00" x2="276.90" y2="214.00" stroke="#1f77b4" stroke-width="0.65" stroke-opacity="0.75"/>
<line x1="276.00" y1="207.00" x2="277.80" y2="207.00" stroke="#1f77b4" stroke-width="0.65" />
<line x1="276.00" y1="214.00" x2="277.80" y2="214.00" stroke="#1f77b4" stroke-width="0.65" />
<rect x="275.90" y="209.50" width="2.00" height="2.00" fill="#1f77b4" stroke="none" stroke-width="0.8" />
<line x1="270.70" y1="219.50" x2="281.60" y2="219.50" stroke="#555" stroke-width="1.0" stroke-dasharray="1.6 1.0"/>
<line x1="271.00" y1="227.50" x2="282.00" y2="227.50" stroke="#4cbc4c" stroke-width="1.0" stroke-dasharray="1 1"/>
<text x="287.10" y="212.90" font-family="'DejaVu Sans', sans-serif" font-size="5.45" text-anchor="start" fill="#111" >Imp. Corr.</text>
<text x="287.10" y="221.50" font-family="'DejaVu Sans', sans-serif" font-size="5.45" text-anchor="start" fill="#111" >No Imp. Corr.</text>
<text x="287.10" y="229.40" font-family="'DejaVu Sans', sans-serif" font-size="5.45" text-anchor="start" fill="#111" >Ideal Fluid</text>
</svg>
</body></html>
